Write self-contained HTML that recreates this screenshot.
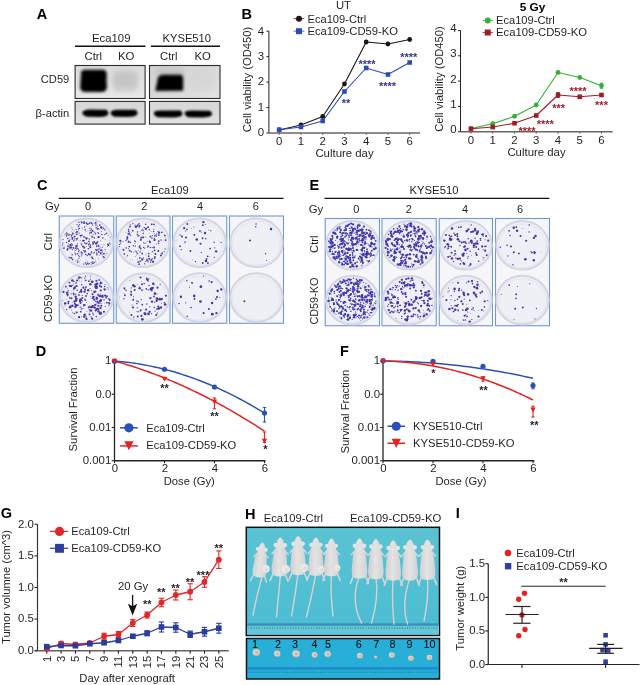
<!DOCTYPE html>
<html><head><meta charset="utf-8"><style>
html,body{margin:0;padding:0;background:#fff;}
svg{display:block;}
</style></head><body>
<svg width="641" height="685" viewBox="0 0 641 685" font-family="'Liberation Sans', Arial, sans-serif" fill="#231f20">
<rect width="641" height="685" fill="#fff"/>
<defs>
<linearGradient id="bg1" x1="0" y1="0" x2="0" y2="1"><stop offset="0" stop-color="#dcdcdc"/><stop offset="1" stop-color="#e8e8e8"/></linearGradient>
<linearGradient id="bg2" x1="0" y1="0" x2="1" y2="1"><stop offset="0" stop-color="#d0d0d0"/><stop offset="1" stop-color="#e2e2e2"/></linearGradient>
<linearGradient id="bg3" x1="0" y1="0" x2="0" y2="1"><stop offset="0" stop-color="#d6d6d6"/><stop offset="1" stop-color="#e2e2e2"/></linearGradient>
<linearGradient id="ph1" x1="0" y1="0" x2="0" y2="1"><stop offset="0" stop-color="#5ac3d3"/><stop offset="1" stop-color="#4bbcd3"/></linearGradient>
<filter id="msoft" x="-5%" y="-5%" width="110%" height="110%"><feGaussianBlur stdDeviation="0.35"/></filter>
<filter id="blur3" x="-30%" y="-30%" width="160%" height="160%"><feGaussianBlur stdDeviation="2.5"/></filter>
<linearGradient id="mbody" x1="0" y1="0" x2="1" y2="0"><stop offset="0" stop-color="#cdcfd2"/><stop offset="0.45" stop-color="#e3e3e3"/><stop offset="1" stop-color="#d2d3d5"/></linearGradient>
<filter id="blur2" x="-30%" y="-30%" width="160%" height="160%"><feGaussianBlur stdDeviation="1.5"/></filter>
<filter id="soft"><feGaussianBlur stdDeviation="0.25"/></filter>
<filter id="blur1" x="-30%" y="-50%" width="160%" height="200%"><feGaussianBlur stdDeviation="0.8"/></filter>
</defs>
<text x="36.8" y="18.6" font-size="14.5" font-weight="bold" fill="#000">A</text>
<text x="92" y="42" font-size="11" textLength="38.5" lengthAdjust="spacingAndGlyphs">Eca109</text>
<text x="162.5" y="42" font-size="11" textLength="48.5" lengthAdjust="spacingAndGlyphs">KYSE510</text>
<line x1="75" y1="46.2" x2="145.5" y2="46.2" stroke="#111" stroke-width="1.4"/>
<line x1="151" y1="46.2" x2="220" y2="46.2" stroke="#111" stroke-width="1.4"/>
<text x="84.5" y="60" font-size="11" textLength="17.5" lengthAdjust="spacingAndGlyphs">Ctrl</text>
<text x="118" y="60" font-size="11" textLength="16.5" lengthAdjust="spacingAndGlyphs">KO</text>
<text x="160" y="60" font-size="11" textLength="17.5" lengthAdjust="spacingAndGlyphs">Ctrl</text>
<text x="194.5" y="60" font-size="11" textLength="16.5" lengthAdjust="spacingAndGlyphs">KO</text>
<text x="40.8" y="83" font-size="11.5" textLength="28.5" lengthAdjust="spacingAndGlyphs">CD59</text>
<text x="35.5" y="116.8" font-size="11.5" textLength="33.8" lengthAdjust="spacingAndGlyphs">β-actin</text>
<rect x="75.1" y="65.5" width="70" height="33" fill="url(#bg1)" stroke="#2a2a2a" stroke-width="1.1"/>
<rect x="149.5" y="65.5" width="70.5" height="33" fill="url(#bg2)" stroke="#2a2a2a" stroke-width="1.1"/>
<rect x="75.1" y="101.4" width="70" height="22.7" fill="url(#bg3)" stroke="#2a2a2a" stroke-width="1.1"/>
<rect x="149.5" y="101.4" width="70.5" height="22.7" fill="url(#bg3)" stroke="#2a2a2a" stroke-width="1.1"/>
<g filter="url(#blur3)">
<rect x="112" y="71" width="26" height="20" rx="6" fill="#b8b8b8" opacity="0.6"/>
<rect x="114" y="72.5" width="22" height="2.5" fill="#b8b8b8" opacity="0.5"/>
<rect x="114" y="80" width="22" height="3" fill="#b8b8b8" opacity="0.5"/>
<rect x="157" y="68.5" width="27" height="8" fill="#b0b0b0" opacity="0.5"/>
<rect x="188" y="72" width="26" height="19" rx="6" fill="#d0d0d0" opacity="0.4"/>
</g>
<g filter="url(#blur2)">
<path d="M81,75 Q80,69.8 85.5,69.8 L102.5,69.8 Q107,69.8 106.8,75 L106.5,80 L107,86 Q107,92 101.5,92 L85.5,92 Q79.8,92 80.2,86 L80.6,80 Z" fill="#000"/>
<path d="M157.5,80 Q157.5,75 163,74.8 L180.5,74.8 Q183.2,75 183.2,79 L183.2,90.8 L156,91 Q154.5,90.5 155.8,88.5 Z" fill="#000"/>
</g>
<g filter="url(#blur1)">
<path d="M82.3,112.5 Q83.5,109.6 90,109.6 L106.5,109.8 Q108.7,111.5 108.4,114 Q107,117 99,116.9 L87,116.7 Q82.3,115.5 82.3,112.5 Z" fill="#050505"/>
<path d="M110.6,112.5 Q111.5,109.6 118,109.7 L135.5,109.8 Q138,111.5 137.6,114 Q136,117 127,116.9 L114.5,116.7 Q110.6,115.5 110.6,112.5 Z" fill="#050505"/>
<path d="M153.8,112.8 Q154.5,110.5 161,110.5 L180.5,110.6 Q182.8,112 182.4,114.8 Q181,117.5 172,117.4 L158,117.2 Q153.8,116 153.8,112.8 Z" fill="#050505"/>
<path d="M184.6,112.8 Q185.2,110.5 192,110.6 L210,110.7 Q212.4,112 212,114.8 Q210.5,117.5 201,117.4 L188.5,117.2 Q184.6,116 184.6,112.8 Z" fill="#050505"/>
</g>
<text x="241.6" y="18.8" font-size="14.5" font-weight="bold" fill="#000">B</text>
<text x="343.5" y="8.7" font-size="10.5" text-anchor="middle" textLength="15" lengthAdjust="spacingAndGlyphs">UT</text>
<line x1="293.6" y1="18.7" x2="304.2" y2="18.7" stroke="#1e1414" stroke-width="0.8"/>
<circle cx="299" cy="18.7" r="3" fill="#1e1414"/>
<text x="307.5" y="22.5" font-size="11" textLength="58.75" lengthAdjust="spacingAndGlyphs">Eca109-Ctrl</text>
<line x1="293.6" y1="31.2" x2="304.2" y2="31.2" stroke="#2c4db3" stroke-width="0.8"/>
<rect x="296" y="28.2" width="6" height="6" fill="#2c4db3"/>
<text x="307.5" y="35" font-size="11" textLength="90.5" lengthAdjust="spacingAndGlyphs">Eca109-CD59-KO</text>
<line x1="268.9" y1="31.2" x2="268.9" y2="133" stroke="#2a2222" stroke-width="1"/>
<line x1="268.9" y1="133" x2="420" y2="133" stroke="#6e6464" stroke-width="1.4"/>
<line x1="266.4" y1="133" x2="268.9" y2="133" stroke="#2a2222" stroke-width="1"/>
<text x="264.2" y="136.3" font-size="11.4" text-anchor="end">0</text>
<line x1="266.4" y1="107.55" x2="268.9" y2="107.55" stroke="#2a2222" stroke-width="1"/>
<text x="264.2" y="110.85" font-size="11.4" text-anchor="end">1</text>
<line x1="266.4" y1="82.1" x2="268.9" y2="82.1" stroke="#2a2222" stroke-width="1"/>
<text x="264.2" y="85.4" font-size="11.4" text-anchor="end">2</text>
<line x1="266.4" y1="56.65" x2="268.9" y2="56.65" stroke="#2a2222" stroke-width="1"/>
<text x="264.2" y="59.95" font-size="11.4" text-anchor="end">3</text>
<line x1="266.4" y1="31.2" x2="268.9" y2="31.2" stroke="#2a2222" stroke-width="1"/>
<text x="264.2" y="34.5" font-size="11.4" text-anchor="end">4</text>
<line x1="279.2" y1="133" x2="279.2" y2="135" stroke="#6e6464" stroke-width="1"/>
<text x="279.2" y="145.1" font-size="11.4" text-anchor="middle">0</text>
<line x1="300.95" y1="133" x2="300.95" y2="135" stroke="#6e6464" stroke-width="1"/>
<text x="300.95" y="145.1" font-size="11.4" text-anchor="middle">1</text>
<line x1="322.7" y1="133" x2="322.7" y2="135" stroke="#6e6464" stroke-width="1"/>
<text x="322.7" y="145.1" font-size="11.4" text-anchor="middle">2</text>
<line x1="344.45" y1="133" x2="344.45" y2="135" stroke="#6e6464" stroke-width="1"/>
<text x="344.45" y="145.1" font-size="11.4" text-anchor="middle">3</text>
<line x1="366.2" y1="133" x2="366.2" y2="135" stroke="#6e6464" stroke-width="1"/>
<text x="366.2" y="145.1" font-size="11.4" text-anchor="middle">4</text>
<line x1="387.95" y1="133" x2="387.95" y2="135" stroke="#6e6464" stroke-width="1"/>
<text x="387.95" y="145.1" font-size="11.4" text-anchor="middle">5</text>
<line x1="409.7" y1="133" x2="409.7" y2="135" stroke="#6e6464" stroke-width="1"/>
<text x="409.7" y="145.1" font-size="11.4" text-anchor="middle">6</text>
<text x="344.5" y="157" font-size="11" text-anchor="middle" textLength="58.25" lengthAdjust="spacingAndGlyphs">Culture day</text>
<text x="250.7" y="79.5" font-size="11" text-anchor="middle" textLength="105.5" lengthAdjust="spacingAndGlyphs" transform="rotate(-90 250.7 79.5)">Cell viability (OD450)</text>
<polyline points="279.2,130 300.95,125 322.7,116.5 344.45,84 366.2,42 387.95,44 409.7,39.5" fill="none" stroke="#1e1414" stroke-width="1.1" stroke-linejoin="round"/>
<polyline points="279.2,129.7 300.95,127 322.7,121 344.45,91.5 366.2,68 387.95,74.5 409.7,62.5" fill="none" stroke="#2c4db3" stroke-width="1.1" stroke-linejoin="round"/>
<circle cx="279.2" cy="130" r="2.4" fill="#1e1414"/>
<circle cx="300.95" cy="125" r="2.4" fill="#1e1414"/>
<circle cx="322.7" cy="116.5" r="2.4" fill="#1e1414"/>
<circle cx="344.45" cy="84" r="2.4" fill="#1e1414"/>
<circle cx="366.2" cy="42" r="2.4" fill="#1e1414"/>
<circle cx="387.95" cy="44" r="2.4" fill="#1e1414"/>
<circle cx="409.7" cy="39.5" r="2.4" fill="#1e1414"/>
<rect x="276.9" y="127.4" width="4.6" height="4.6" fill="#2c4db3"/>
<rect x="298.65" y="124.7" width="4.6" height="4.6" fill="#2c4db3"/>
<rect x="320.4" y="118.7" width="4.6" height="4.6" fill="#2c4db3"/>
<rect x="342.15" y="89.2" width="4.6" height="4.6" fill="#2c4db3"/>
<rect x="363.9" y="65.7" width="4.6" height="4.6" fill="#2c4db3"/>
<rect x="385.65" y="72.2" width="4.6" height="4.6" fill="#2c4db3"/>
<rect x="407.4" y="60.2" width="4.6" height="4.6" fill="#2c4db3"/>
<text x="346" y="107.16" font-size="11" text-anchor="middle" font-weight="bold" fill="#34358a">**</text>
<text x="367" y="68.06" font-size="11" text-anchor="middle" font-weight="bold" fill="#34358a">****</text>
<text x="387.5" y="90.16" font-size="11" text-anchor="middle" font-weight="bold" fill="#34358a">****</text>
<text x="408.7" y="60.66" font-size="11" text-anchor="middle" font-weight="bold" fill="#34358a">****</text>
<text x="532.6" y="10.5" font-size="11" text-anchor="middle" font-weight="bold" fill="#000" textLength="25.75" lengthAdjust="spacingAndGlyphs">5 Gy</text>
<line x1="482.5" y1="20.5" x2="493" y2="20.5" stroke="#33b233" stroke-width="0.8"/>
<circle cx="487.75" cy="20.5" r="3" fill="#33b233"/>
<text x="496" y="23.9" font-size="11" textLength="58.75" lengthAdjust="spacingAndGlyphs">Eca109-Ctrl</text>
<line x1="482.5" y1="32.5" x2="493" y2="32.5" stroke="#a11c2a" stroke-width="0.8"/>
<rect x="484.75" y="29.5" width="6" height="6" fill="#a11c2a"/>
<text x="496" y="36" font-size="11" textLength="91" lengthAdjust="spacingAndGlyphs">Eca109-CD59-KO</text>
<line x1="460.5" y1="30.5" x2="460.5" y2="131.75" stroke="#2a2222" stroke-width="1"/>
<line x1="460.5" y1="131.75" x2="612.75" y2="131.75" stroke="#6e6464" stroke-width="1.4"/>
<line x1="458" y1="131.75" x2="460.5" y2="131.75" stroke="#2a2222" stroke-width="1"/>
<text x="456.5" y="133.25" font-size="11.4" text-anchor="end">0</text>
<line x1="458" y1="106.44" x2="460.5" y2="106.44" stroke="#2a2222" stroke-width="1"/>
<text x="456.5" y="107.94" font-size="11.4" text-anchor="end">1</text>
<line x1="458" y1="81.12" x2="460.5" y2="81.12" stroke="#2a2222" stroke-width="1"/>
<text x="456.5" y="82.62" font-size="11.4" text-anchor="end">2</text>
<line x1="458" y1="55.81" x2="460.5" y2="55.81" stroke="#2a2222" stroke-width="1"/>
<text x="456.5" y="57.31" font-size="11.4" text-anchor="end">3</text>
<line x1="458" y1="30.5" x2="460.5" y2="30.5" stroke="#2a2222" stroke-width="1"/>
<text x="456.5" y="32" font-size="11.4" text-anchor="end">4</text>
<line x1="471" y1="131.75" x2="471" y2="133.75" stroke="#6e6464" stroke-width="1"/>
<text x="471" y="144" font-size="11.4" text-anchor="middle">0</text>
<line x1="492.75" y1="131.75" x2="492.75" y2="133.75" stroke="#6e6464" stroke-width="1"/>
<text x="492.75" y="144" font-size="11.4" text-anchor="middle">1</text>
<line x1="514.5" y1="131.75" x2="514.5" y2="133.75" stroke="#6e6464" stroke-width="1"/>
<text x="514.5" y="144" font-size="11.4" text-anchor="middle">2</text>
<line x1="536.25" y1="131.75" x2="536.25" y2="133.75" stroke="#6e6464" stroke-width="1"/>
<text x="536.25" y="144" font-size="11.4" text-anchor="middle">3</text>
<line x1="558" y1="131.75" x2="558" y2="133.75" stroke="#6e6464" stroke-width="1"/>
<text x="558" y="144" font-size="11.4" text-anchor="middle">4</text>
<line x1="579.75" y1="131.75" x2="579.75" y2="133.75" stroke="#6e6464" stroke-width="1"/>
<text x="579.75" y="144" font-size="11.4" text-anchor="middle">5</text>
<line x1="601.5" y1="131.75" x2="601.5" y2="133.75" stroke="#6e6464" stroke-width="1"/>
<text x="601.5" y="144" font-size="11.4" text-anchor="middle">6</text>
<text x="536.5" y="156" font-size="11" text-anchor="middle" textLength="58.25" lengthAdjust="spacingAndGlyphs">Culture day</text>
<text x="443.3" y="79" font-size="11" text-anchor="middle" textLength="105.5" lengthAdjust="spacingAndGlyphs" transform="rotate(-90 443.3 79)">Cell viability (OD450)</text>
<polyline points="471,128.5 492.75,123.75 514.5,116.25 536.25,105 558,72.5 579.75,77.5 601.5,85.75" fill="none" stroke="#33b233" stroke-width="1.1" stroke-linejoin="round"/>
<polyline points="471,128.8 492.75,127 514.5,123.25 536.25,115.5 558,95 579.75,96.75 601.5,95" fill="none" stroke="#a11c2a" stroke-width="1.1" stroke-linejoin="round"/>
<line x1="601.5" y1="83.2" x2="601.5" y2="88.3" stroke="#33b233" stroke-width="1"/>
<line x1="600" y1="83.2" x2="603" y2="83.2" stroke="#33b233" stroke-width="1"/>
<line x1="600" y1="88.3" x2="603" y2="88.3" stroke="#33b233" stroke-width="1"/>
<line x1="558" y1="92.5" x2="558" y2="97.5" stroke="#a11c2a" stroke-width="1"/>
<line x1="556.5" y1="92.5" x2="559.5" y2="92.5" stroke="#a11c2a" stroke-width="1"/>
<line x1="556.5" y1="97.5" x2="559.5" y2="97.5" stroke="#a11c2a" stroke-width="1"/>
<circle cx="471" cy="128.5" r="2.4" fill="#33b233"/>
<circle cx="492.75" cy="123.75" r="2.4" fill="#33b233"/>
<circle cx="514.5" cy="116.25" r="2.4" fill="#33b233"/>
<circle cx="536.25" cy="105" r="2.4" fill="#33b233"/>
<circle cx="558" cy="72.5" r="2.4" fill="#33b233"/>
<circle cx="579.75" cy="77.5" r="2.4" fill="#33b233"/>
<circle cx="601.5" cy="85.75" r="2.4" fill="#33b233"/>
<rect x="468.7" y="126.5" width="4.6" height="4.6" fill="#a11c2a"/>
<rect x="490.45" y="124.7" width="4.6" height="4.6" fill="#a11c2a"/>
<rect x="512.2" y="120.95" width="4.6" height="4.6" fill="#a11c2a"/>
<rect x="533.95" y="113.2" width="4.6" height="4.6" fill="#a11c2a"/>
<rect x="555.7" y="92.7" width="4.6" height="4.6" fill="#a11c2a"/>
<rect x="577.45" y="94.45" width="4.6" height="4.6" fill="#a11c2a"/>
<rect x="599.2" y="92.7" width="4.6" height="4.6" fill="#a11c2a"/>
<text x="527" y="134.91" font-size="11" text-anchor="middle" font-weight="bold" fill="#a11c2a">****</text>
<text x="545.2" y="128.16" font-size="11" text-anchor="middle" font-weight="bold" fill="#a11c2a">****</text>
<text x="558.7" y="111.91" font-size="11" text-anchor="middle" font-weight="bold" fill="#a11c2a">***</text>
<text x="578.1" y="94.91" font-size="11" text-anchor="middle" font-weight="bold" fill="#a11c2a">****</text>
<text x="601.5" y="109.16" font-size="11" text-anchor="middle" font-weight="bold" fill="#a11c2a">***</text>
<text x="37" y="189.5" font-size="14.5" font-weight="bold" fill="#000">C</text>
<text x="151" y="193.75" font-size="11" textLength="37.75" lengthAdjust="spacingAndGlyphs">Eca109</text>
<line x1="58.75" y1="198.4" x2="283.5" y2="198.4" stroke="#111" stroke-width="1.3"/>
<text x="45" y="210" font-size="11" textLength="14.5" lengthAdjust="spacingAndGlyphs">Gy</text>
<text x="88" y="210" font-size="11" text-anchor="middle">0</text>
<rect x="59.25" y="216" width="54.5" height="107.25" fill="#f6f6f9" stroke="#6f98d2" stroke-width="1.1"/>
<ellipse cx="86.5" cy="242.8" rx="26.45" ry="24.3" fill="#eff0f5" stroke="#d3d5e2" stroke-width="2"/>
<ellipse cx="86.5" cy="243.4" rx="24.05" ry="21.9" fill="none" stroke="#e4e5ee" stroke-width="1"/>
<g fill="#4039a8" filter="url(#soft)"><circle cx="69.3" cy="240.8" r="0.76"/><circle cx="96.5" cy="253.1" r="0.56"/><circle cx="101.1" cy="244.3" r="0.35"/><circle cx="84.4" cy="222.9" r="0.86"/><circle cx="108.2" cy="235.5" r="0.49"/><circle cx="99.5" cy="229.7" r="0.41"/><circle cx="71.4" cy="236.0" r="0.68"/><circle cx="108.6" cy="245.2" r="0.84"/><circle cx="101.9" cy="227.8" r="0.69"/><circle cx="81.4" cy="254.9" r="0.64"/><circle cx="71.6" cy="257.8" r="0.85"/><circle cx="73.8" cy="240.5" r="0.68"/><circle cx="89.1" cy="263.5" r="0.67"/><circle cx="97.0" cy="255.0" r="0.60"/><circle cx="76.3" cy="246.8" r="0.62"/><circle cx="78.9" cy="258.5" r="0.52"/><circle cx="85.7" cy="254.3" r="0.79"/><circle cx="105.5" cy="249.5" r="0.45"/><circle cx="96.9" cy="254.6" r="0.61"/><circle cx="86.2" cy="246.5" r="0.39"/><circle cx="95.1" cy="258.8" r="0.40"/><circle cx="98.9" cy="251.9" r="0.37"/><circle cx="64.6" cy="247.0" r="0.43"/><circle cx="77.3" cy="248.2" r="0.69"/><circle cx="98.6" cy="245.8" r="0.50"/><circle cx="71.6" cy="243.9" r="0.73"/><circle cx="72.4" cy="237.9" r="0.86"/><circle cx="81.7" cy="252.2" r="0.67"/><circle cx="94.3" cy="241.8" r="0.63"/><circle cx="96.2" cy="227.8" r="0.78"/><circle cx="71.8" cy="231.6" r="0.36"/><circle cx="69.0" cy="249.1" r="0.37"/><circle cx="81.7" cy="244.6" r="0.58"/><circle cx="78.9" cy="240.8" r="0.42"/><circle cx="90.4" cy="231.8" r="0.39"/><circle cx="72.4" cy="239.0" r="0.86"/><circle cx="91.3" cy="264.1" r="0.54"/><circle cx="74.8" cy="252.1" r="0.41"/><circle cx="75.4" cy="232.7" r="0.48"/><circle cx="89.3" cy="230.9" r="0.31"/><circle cx="66.1" cy="233.9" r="0.69"/><circle cx="92.6" cy="258.4" r="0.79"/><circle cx="79.3" cy="250.5" r="0.57"/><circle cx="97.5" cy="228.9" r="0.89"/><circle cx="63.3" cy="248.0" r="0.51"/><circle cx="101.1" cy="227.1" r="0.83"/><circle cx="96.4" cy="243.1" r="0.40"/><circle cx="80.8" cy="240.4" r="0.43"/><circle cx="70.1" cy="257.9" r="0.63"/><circle cx="75.4" cy="248.3" r="0.68"/><circle cx="68.8" cy="246.5" r="0.65"/><circle cx="67.7" cy="234.0" r="0.82"/><circle cx="90.3" cy="230.5" r="0.54"/><circle cx="84.5" cy="252.0" r="0.82"/><circle cx="83.7" cy="221.5" r="0.39"/><circle cx="92.6" cy="224.9" r="0.64"/><circle cx="99.1" cy="246.5" r="0.40"/><circle cx="80.6" cy="260.0" r="0.36"/><circle cx="102.7" cy="258.0" r="0.37"/><circle cx="106.6" cy="233.2" r="0.74"/><circle cx="100.1" cy="236.1" r="0.32"/><circle cx="62.9" cy="243.1" r="0.63"/><circle cx="68.2" cy="248.6" r="0.33"/><circle cx="85.4" cy="243.3" r="0.42"/><circle cx="103.7" cy="246.7" r="0.32"/><circle cx="87.7" cy="263.2" r="0.76"/><circle cx="95.6" cy="222.4" r="0.65"/><circle cx="76.8" cy="234.3" r="0.83"/><circle cx="96.0" cy="262.0" r="0.42"/><circle cx="66.6" cy="235.9" r="0.76"/><circle cx="92.3" cy="262.0" r="0.73"/><circle cx="66.2" cy="234.6" r="0.42"/><circle cx="75.2" cy="250.2" r="0.57"/><circle cx="98.3" cy="258.1" r="0.33"/><circle cx="88.6" cy="263.9" r="0.30"/><circle cx="86.4" cy="239.5" r="0.53"/><circle cx="71.6" cy="228.6" r="0.46"/><circle cx="72.8" cy="233.7" r="0.84"/><circle cx="103.8" cy="228.5" r="0.70"/><circle cx="66.7" cy="236.3" r="0.40"/><circle cx="92.1" cy="237.1" r="0.76"/><circle cx="87.4" cy="238.5" r="0.31"/><circle cx="86.4" cy="264.3" r="0.77"/><circle cx="79.5" cy="261.9" r="0.45"/><circle cx="90.5" cy="246.1" r="0.73"/><circle cx="76.2" cy="238.3" r="0.49"/><circle cx="106.8" cy="253.3" r="0.50"/><circle cx="99.8" cy="248.0" r="0.45"/><circle cx="86.5" cy="225.0" r="0.43"/><circle cx="92.1" cy="257.4" r="0.80"/><circle cx="78.5" cy="251.3" r="0.66"/><circle cx="85.3" cy="251.2" r="0.83"/><circle cx="96.0" cy="243.2" r="0.82"/><circle cx="98.4" cy="237.3" r="0.89"/><circle cx="81.8" cy="222.5" r="0.88"/><circle cx="107.9" cy="244.4" r="0.75"/><circle cx="96.0" cy="225.1" r="0.78"/><circle cx="92.7" cy="263.4" r="0.59"/><circle cx="75.7" cy="254.7" r="0.63"/><circle cx="95.5" cy="261.0" r="0.41"/><circle cx="66.7" cy="242.4" r="0.69"/><circle cx="92.9" cy="244.1" r="0.50"/><circle cx="86.8" cy="238.2" r="0.88"/><circle cx="70.9" cy="245.6" r="0.80"/><circle cx="100.6" cy="253.7" r="0.71"/><circle cx="84.1" cy="263.5" r="0.30"/><circle cx="82.8" cy="240.6" r="0.73"/><circle cx="76.2" cy="229.4" r="0.57"/><circle cx="93.1" cy="244.1" r="0.82"/><circle cx="85.2" cy="229.8" r="0.69"/><circle cx="81.1" cy="221.8" r="0.54"/><circle cx="67.7" cy="248.9" r="0.84"/><circle cx="69.2" cy="257.6" r="0.76"/><circle cx="73.9" cy="241.6" r="0.40"/><circle cx="77.2" cy="243.9" r="0.53"/><circle cx="81.1" cy="252.1" r="0.71"/><circle cx="67.9" cy="245.9" r="0.77"/><circle cx="63.2" cy="239.6" r="0.53"/><circle cx="94.8" cy="232.5" r="0.61"/><circle cx="70.2" cy="247.9" r="0.86"/><circle cx="98.7" cy="236.9" r="0.87"/><circle cx="79.2" cy="233.0" r="0.55"/><circle cx="110.1" cy="237.8" r="0.47"/><circle cx="88.6" cy="248.8" r="0.76"/><circle cx="96.7" cy="250.4" r="0.55"/><circle cx="83.5" cy="264.1" r="0.60"/><circle cx="99.2" cy="236.5" r="0.31"/><circle cx="81.2" cy="243.8" r="0.54"/><circle cx="72.4" cy="227.8" r="0.33"/><circle cx="96.5" cy="244.0" r="0.79"/><circle cx="104.1" cy="253.9" r="0.78"/><circle cx="103.4" cy="253.7" r="0.64"/><circle cx="87.4" cy="261.9" r="0.47"/><circle cx="93.5" cy="262.0" r="0.46"/><circle cx="69.8" cy="234.4" r="0.57"/><circle cx="86.9" cy="231.0" r="0.45"/><circle cx="69.3" cy="241.5" r="0.38"/><circle cx="79.4" cy="228.3" r="0.68"/><circle cx="92.3" cy="230.9" r="0.90"/><circle cx="76.0" cy="260.8" r="0.48"/><circle cx="89.5" cy="246.8" r="0.65"/><circle cx="78.7" cy="255.7" r="0.67"/><circle cx="89.4" cy="242.0" r="0.47"/><circle cx="82.0" cy="253.2" r="0.73"/><circle cx="82.9" cy="246.3" r="0.82"/><circle cx="84.9" cy="229.5" r="0.34"/><circle cx="96.8" cy="245.0" r="0.57"/><circle cx="93.2" cy="234.2" r="0.54"/><circle cx="78.5" cy="249.2" r="0.58"/><circle cx="90.3" cy="245.0" r="0.64"/><circle cx="98.3" cy="245.9" r="0.74"/><circle cx="88.7" cy="245.2" r="0.36"/><circle cx="99.9" cy="225.1" r="0.84"/><circle cx="100.9" cy="252.7" r="0.81"/><circle cx="76.4" cy="247.8" r="0.31"/><circle cx="98.7" cy="228.7" r="0.33"/><circle cx="93.5" cy="263.1" r="0.62"/><circle cx="88.8" cy="254.3" r="0.75"/><circle cx="86.5" cy="223.1" r="0.89"/><circle cx="97.6" cy="241.8" r="0.70"/><circle cx="74.4" cy="230.9" r="0.32"/><circle cx="81.5" cy="245.7" r="0.36"/><circle cx="71.2" cy="237.9" r="0.30"/><circle cx="101.5" cy="227.9" r="0.84"/><circle cx="89.9" cy="234.4" r="0.34"/><circle cx="92.8" cy="223.3" r="0.50"/><circle cx="96.7" cy="246.5" r="0.67"/><circle cx="98.4" cy="259.5" r="0.36"/><circle cx="90.5" cy="235.3" r="0.33"/><circle cx="78.9" cy="222.3" r="0.71"/><circle cx="91.1" cy="253.0" r="0.82"/><circle cx="77.5" cy="253.8" r="0.74"/><circle cx="89.3" cy="223.5" r="0.82"/><circle cx="88.9" cy="241.3" r="0.81"/><circle cx="94.5" cy="252.3" r="0.62"/><circle cx="89.3" cy="254.8" r="0.80"/><circle cx="93.7" cy="253.1" r="0.61"/><circle cx="70.2" cy="256.1" r="0.33"/><circle cx="70.4" cy="245.9" r="0.52"/><circle cx="105.4" cy="234.0" r="0.59"/><circle cx="71.4" cy="258.0" r="0.52"/><circle cx="97.0" cy="253.2" r="0.57"/><circle cx="69.9" cy="239.7" r="0.57"/><circle cx="82.9" cy="246.7" r="0.71"/><circle cx="95.1" cy="223.6" r="0.52"/><circle cx="88.5" cy="264.5" r="0.43"/><circle cx="95.5" cy="243.7" r="0.50"/><circle cx="71.5" cy="247.4" r="0.83"/><circle cx="86.2" cy="243.6" r="0.87"/><circle cx="74.8" cy="236.3" r="0.83"/><circle cx="94.4" cy="242.0" r="0.84"/><circle cx="89.9" cy="233.0" r="0.70"/><circle cx="83.8" cy="248.5" r="0.42"/><circle cx="103.2" cy="227.3" r="0.36"/><circle cx="102.4" cy="252.0" r="0.57"/><circle cx="103.4" cy="256.8" r="0.79"/><circle cx="102.2" cy="247.5" r="0.56"/><circle cx="95.6" cy="233.8" r="0.71"/><circle cx="81.2" cy="256.4" r="0.41"/><circle cx="79.3" cy="256.8" r="0.64"/><circle cx="75.0" cy="238.4" r="0.52"/><circle cx="87.0" cy="264.7" r="0.45"/><circle cx="77.9" cy="260.1" r="0.59"/><circle cx="93.6" cy="259.1" r="0.36"/><circle cx="70.8" cy="226.9" r="0.41"/><circle cx="95.5" cy="243.5" r="0.75"/><circle cx="97.7" cy="226.3" r="0.53"/><circle cx="87.8" cy="248.4" r="0.42"/><circle cx="82.2" cy="228.1" r="0.52"/><circle cx="101.3" cy="231.3" r="0.50"/><circle cx="91.4" cy="229.1" r="0.83"/><circle cx="78.0" cy="234.0" r="0.49"/><circle cx="84.3" cy="240.6" r="0.54"/><circle cx="82.4" cy="229.2" r="0.34"/><circle cx="104.2" cy="257.6" r="0.75"/><circle cx="85.8" cy="263.4" r="0.38"/><circle cx="88.6" cy="244.6" r="0.61"/><circle cx="97.0" cy="250.0" r="0.74"/><circle cx="87.2" cy="255.5" r="0.70"/><circle cx="102.7" cy="255.0" r="0.38"/><circle cx="83.8" cy="250.4" r="0.73"/><circle cx="83.8" cy="246.9" r="0.83"/><circle cx="72.9" cy="232.5" r="0.48"/><circle cx="69.4" cy="247.2" r="0.65"/><circle cx="110.2" cy="244.1" r="0.44"/><circle cx="67.2" cy="247.1" r="0.39"/><circle cx="68.7" cy="241.2" r="0.79"/><circle cx="76.4" cy="232.6" r="0.33"/><circle cx="87.8" cy="224.1" r="0.87"/><circle cx="91.6" cy="252.0" r="0.70"/><circle cx="89.2" cy="238.9" r="0.76"/><circle cx="66.6" cy="232.8" r="0.64"/><circle cx="84.5" cy="242.9" r="0.64"/><circle cx="71.6" cy="235.2" r="0.78"/><circle cx="98.4" cy="228.8" r="0.57"/><circle cx="90.4" cy="255.8" r="0.41"/><circle cx="72.2" cy="254.7" r="0.72"/><circle cx="77.0" cy="231.6" r="0.57"/><circle cx="64.0" cy="248.3" r="0.77"/><circle cx="72.6" cy="259.6" r="0.81"/><circle cx="100.1" cy="247.0" r="0.44"/><circle cx="85.5" cy="262.7" r="0.66"/><circle cx="91.3" cy="257.0" r="0.58"/><circle cx="69.0" cy="245.0" r="0.42"/><circle cx="77.1" cy="224.5" r="0.61"/><circle cx="99.0" cy="252.3" r="0.76"/><circle cx="73.5" cy="247.8" r="0.85"/><circle cx="94.2" cy="237.8" r="0.74"/><circle cx="105.1" cy="239.4" r="0.44"/><circle cx="79.1" cy="252.9" r="0.42"/><circle cx="101.3" cy="249.9" r="0.83"/><circle cx="97.9" cy="232.6" r="0.70"/><circle cx="72.3" cy="249.6" r="0.57"/><circle cx="94.3" cy="238.6" r="0.31"/><circle cx="77.0" cy="232.0" r="0.90"/><circle cx="68.8" cy="235.3" r="0.73"/><circle cx="89.4" cy="222.1" r="0.47"/><circle cx="76.7" cy="249.2" r="0.61"/><circle cx="84.4" cy="221.3" r="0.56"/><circle cx="84.6" cy="227.0" r="0.64"/><circle cx="69.2" cy="237.6" r="0.38"/><circle cx="79.6" cy="224.6" r="0.64"/><circle cx="91.3" cy="262.4" r="0.48"/><circle cx="67.8" cy="238.6" r="0.74"/><circle cx="74.7" cy="249.1" r="0.37"/><circle cx="90.3" cy="254.7" r="0.60"/><circle cx="76.0" cy="245.8" r="0.90"/><circle cx="75.1" cy="253.5" r="0.62"/><circle cx="78.2" cy="230.7" r="0.47"/><circle cx="105.0" cy="230.0" r="0.65"/><circle cx="91.4" cy="223.3" r="0.76"/><circle cx="109.2" cy="243.7" r="0.42"/><circle cx="76.9" cy="246.1" r="0.88"/><circle cx="98.6" cy="233.3" r="0.38"/><circle cx="97.8" cy="242.4" r="0.49"/><circle cx="101.8" cy="234.4" r="0.76"/><circle cx="99.5" cy="255.6" r="0.45"/><circle cx="86.1" cy="260.1" r="0.47"/><circle cx="92.9" cy="242.2" r="0.73"/><circle cx="107.4" cy="246.2" r="0.56"/><circle cx="105.1" cy="251.1" r="0.33"/><circle cx="75.3" cy="247.6" r="0.43"/><circle cx="80.9" cy="236.8" r="0.65"/><circle cx="93.6" cy="243.5" r="0.46"/><circle cx="90.5" cy="247.6" r="0.74"/><circle cx="97.6" cy="253.1" r="0.35"/><circle cx="85.5" cy="238.0" r="0.78"/><circle cx="73.1" cy="234.7" r="0.47"/><circle cx="77.6" cy="262.1" r="0.83"/><circle cx="83.7" cy="223.0" r="0.68"/><circle cx="84.0" cy="236.9" r="0.82"/><circle cx="98.5" cy="251.3" r="0.78"/><circle cx="90.0" cy="262.6" r="0.41"/><circle cx="93.7" cy="242.0" r="0.49"/><circle cx="95.8" cy="222.8" r="0.84"/><circle cx="100.8" cy="227.5" r="0.83"/><circle cx="79.0" cy="252.9" r="0.33"/><circle cx="101.6" cy="254.0" r="0.54"/><circle cx="80.6" cy="243.0" r="0.37"/><circle cx="109.8" cy="243.1" r="0.67"/><circle cx="89.8" cy="228.1" r="0.72"/><circle cx="83.6" cy="240.6" r="0.89"/><circle cx="100.6" cy="250.6" r="0.71"/><circle cx="104.5" cy="234.5" r="0.51"/><circle cx="78.6" cy="229.1" r="0.66"/><circle cx="76.3" cy="238.8" r="0.39"/><circle cx="102.6" cy="229.7" r="0.33"/><circle cx="70.3" cy="244.4" r="0.73"/><circle cx="89.3" cy="243.9" r="0.76"/><circle cx="64.6" cy="234.8" r="0.41"/><circle cx="72.3" cy="244.9" r="0.74"/><circle cx="88.5" cy="253.8" r="0.76"/><circle cx="73.0" cy="230.1" r="0.37"/><circle cx="76.4" cy="239.9" r="0.56"/><circle cx="70.2" cy="245.3" r="0.68"/><circle cx="94.6" cy="262.6" r="0.59"/><circle cx="99.0" cy="249.0" r="0.84"/><circle cx="77.3" cy="238.6" r="0.85"/><circle cx="74.4" cy="239.4" r="0.46"/><circle cx="62.6" cy="245.1" r="0.62"/><circle cx="97.0" cy="242.7" r="0.84"/><circle cx="71.9" cy="248.8" r="0.49"/><circle cx="91.2" cy="232.6" r="0.87"/><circle cx="70.8" cy="252.9" r="0.30"/><circle cx="74.0" cy="237.0" r="0.68"/><circle cx="100.5" cy="240.7" r="0.38"/><circle cx="78.4" cy="226.1" r="0.81"/><circle cx="83.1" cy="241.0" r="0.73"/><circle cx="93.1" cy="242.9" r="0.54"/><circle cx="91.0" cy="222.5" r="0.73"/><circle cx="75.7" cy="233.9" r="0.34"/><circle cx="109.1" cy="240.1" r="0.32"/><circle cx="101.9" cy="226.4" r="0.43"/><circle cx="98.6" cy="245.6" r="0.74"/><circle cx="96.3" cy="250.4" r="0.84"/><circle cx="104.5" cy="249.2" r="0.38"/><circle cx="87.8" cy="243.0" r="0.56"/><circle cx="107.9" cy="244.3" r="0.82"/><circle cx="105.5" cy="255.5" r="0.35"/><circle cx="92.1" cy="236.4" r="0.74"/><circle cx="95.9" cy="249.6" r="0.69"/><circle cx="67.3" cy="249.8" r="0.84"/><circle cx="104.0" cy="244.7" r="0.51"/><circle cx="100.6" cy="240.9" r="0.36"/><circle cx="82.4" cy="253.9" r="0.43"/><circle cx="80.3" cy="235.6" r="0.77"/><circle cx="77.5" cy="245.7" r="0.46"/><circle cx="102.9" cy="238.0" r="0.74"/><circle cx="72.4" cy="229.2" r="0.42"/><circle cx="98.6" cy="233.3" r="0.62"/><circle cx="68.4" cy="243.4" r="0.48"/><circle cx="97.4" cy="236.8" r="0.36"/><circle cx="85.6" cy="231.6" r="0.31"/><circle cx="84.7" cy="247.7" r="0.75"/><circle cx="81.8" cy="235.4" r="0.81"/><circle cx="93.8" cy="231.1" r="0.64"/><circle cx="101.9" cy="250.5" r="0.68"/></g>
<ellipse cx="86.5" cy="297.6" rx="26.45" ry="24.3" fill="#eff0f5" stroke="#d3d5e2" stroke-width="2"/>
<ellipse cx="86.5" cy="298.2" rx="24.05" ry="21.9" fill="none" stroke="#e4e5ee" stroke-width="1"/>
<g fill="#4039a8" filter="url(#soft)"><circle cx="90.4" cy="284.2" r="1.22"/><circle cx="107.0" cy="296.2" r="0.95"/><circle cx="72.6" cy="285.3" r="0.61"/><circle cx="95.8" cy="285.0" r="1.22"/><circle cx="66.6" cy="309.5" r="0.68"/><circle cx="85.1" cy="289.9" r="0.92"/><circle cx="81.8" cy="284.7" r="0.74"/><circle cx="77.1" cy="280.5" r="1.09"/><circle cx="95.2" cy="304.8" r="1.14"/><circle cx="81.4" cy="292.3" r="0.73"/><circle cx="81.9" cy="305.1" r="0.36"/><circle cx="84.8" cy="299.2" r="0.66"/><circle cx="62.7" cy="300.5" r="0.49"/><circle cx="95.5" cy="307.7" r="0.68"/><circle cx="93.9" cy="296.5" r="0.80"/><circle cx="104.6" cy="289.3" r="1.13"/><circle cx="95.8" cy="305.7" r="0.36"/><circle cx="79.1" cy="317.2" r="1.14"/><circle cx="96.4" cy="309.7" r="1.08"/><circle cx="100.7" cy="281.7" r="0.51"/><circle cx="100.6" cy="308.1" r="1.15"/><circle cx="83.9" cy="314.9" r="0.48"/><circle cx="78.6" cy="278.5" r="0.84"/><circle cx="95.7" cy="291.0" r="0.40"/><circle cx="75.7" cy="312.0" r="0.43"/><circle cx="72.3" cy="280.6" r="1.23"/><circle cx="106.0" cy="289.6" r="0.44"/><circle cx="94.0" cy="314.8" r="0.36"/><circle cx="92.9" cy="313.3" r="0.76"/><circle cx="89.9" cy="311.1" r="0.56"/><circle cx="75.5" cy="304.7" r="0.85"/><circle cx="88.2" cy="290.3" r="1.19"/><circle cx="76.3" cy="305.5" r="1.15"/><circle cx="81.7" cy="277.9" r="0.55"/><circle cx="68.1" cy="290.6" r="0.68"/><circle cx="84.0" cy="304.9" r="0.96"/><circle cx="95.5" cy="291.6" r="0.95"/><circle cx="88.9" cy="281.2" r="0.84"/><circle cx="77.7" cy="305.3" r="1.01"/><circle cx="73.9" cy="294.7" r="0.76"/><circle cx="98.1" cy="294.9" r="0.95"/><circle cx="75.4" cy="306.8" r="1.21"/><circle cx="99.7" cy="296.1" r="1.24"/><circle cx="82.2" cy="295.5" r="0.60"/><circle cx="92.1" cy="281.9" r="1.02"/><circle cx="95.8" cy="287.3" r="0.92"/><circle cx="100.9" cy="290.5" r="1.01"/><circle cx="69.4" cy="307.0" r="0.73"/><circle cx="75.1" cy="286.0" r="0.55"/><circle cx="73.5" cy="284.0" r="0.49"/><circle cx="97.6" cy="301.4" r="0.95"/><circle cx="106.0" cy="295.3" r="0.38"/><circle cx="71.5" cy="298.3" r="0.99"/><circle cx="106.8" cy="298.1" r="0.55"/><circle cx="91.0" cy="316.8" r="0.65"/><circle cx="90.2" cy="296.8" r="0.47"/><circle cx="91.9" cy="306.9" r="1.24"/><circle cx="81.8" cy="281.4" r="0.40"/><circle cx="76.3" cy="298.9" r="1.24"/><circle cx="76.7" cy="285.9" r="1.00"/><circle cx="81.1" cy="300.2" r="0.49"/><circle cx="78.4" cy="276.9" r="0.62"/><circle cx="105.8" cy="296.2" r="0.53"/><circle cx="69.6" cy="282.8" r="0.75"/><circle cx="99.0" cy="308.9" r="0.52"/><circle cx="99.9" cy="285.4" r="0.82"/><circle cx="68.5" cy="301.7" r="0.95"/><circle cx="93.5" cy="305.7" r="0.68"/><circle cx="92.1" cy="318.7" r="1.11"/><circle cx="64.9" cy="305.2" r="0.43"/><circle cx="94.3" cy="291.9" r="1.12"/><circle cx="95.6" cy="310.6" r="1.00"/><circle cx="97.6" cy="305.8" r="0.61"/><circle cx="81.5" cy="309.0" r="0.81"/><circle cx="85.9" cy="316.1" r="0.73"/><circle cx="88.0" cy="307.1" r="0.36"/><circle cx="96.0" cy="288.2" r="0.91"/><circle cx="92.4" cy="281.6" r="1.20"/><circle cx="74.0" cy="281.5" r="0.75"/><circle cx="99.2" cy="279.9" r="0.84"/><circle cx="105.1" cy="295.6" r="1.08"/><circle cx="102.6" cy="282.7" r="0.42"/><circle cx="100.2" cy="313.7" r="1.12"/><circle cx="96.8" cy="298.0" r="1.21"/><circle cx="98.1" cy="309.1" r="1.17"/><circle cx="90.6" cy="276.0" r="0.58"/><circle cx="97.0" cy="298.9" r="0.86"/><circle cx="76.2" cy="300.5" r="1.14"/><circle cx="109.7" cy="299.9" r="1.01"/><circle cx="89.4" cy="312.1" r="0.46"/><circle cx="69.4" cy="297.6" r="0.62"/><circle cx="69.1" cy="282.5" r="0.73"/><circle cx="100.6" cy="283.2" r="1.08"/><circle cx="65.9" cy="286.6" r="0.95"/><circle cx="69.8" cy="285.8" r="1.15"/><circle cx="70.1" cy="307.3" r="1.17"/><circle cx="74.2" cy="313.6" r="0.64"/><circle cx="99.7" cy="301.2" r="0.67"/><circle cx="105.2" cy="306.3" r="0.64"/><circle cx="90.1" cy="288.5" r="0.61"/><circle cx="67.6" cy="294.8" r="1.15"/><circle cx="104.6" cy="286.6" r="0.75"/><circle cx="67.4" cy="293.9" r="0.96"/><circle cx="68.5" cy="301.8" r="0.72"/><circle cx="106.9" cy="302.7" r="0.90"/><circle cx="95.5" cy="284.6" r="1.16"/><circle cx="103.9" cy="311.8" r="1.05"/><circle cx="79.9" cy="307.2" r="0.53"/><circle cx="96.1" cy="296.9" r="0.49"/><circle cx="101.5" cy="283.2" r="0.80"/><circle cx="99.0" cy="303.6" r="0.56"/><circle cx="104.9" cy="289.7" r="0.73"/><circle cx="83.5" cy="306.5" r="0.38"/><circle cx="93.2" cy="297.1" r="1.07"/><circle cx="80.0" cy="300.7" r="1.22"/><circle cx="85.0" cy="288.7" r="0.60"/><circle cx="72.8" cy="312.8" r="0.53"/><circle cx="108.9" cy="298.3" r="0.61"/><circle cx="100.2" cy="301.2" r="1.15"/><circle cx="69.2" cy="306.1" r="0.38"/><circle cx="71.1" cy="293.8" r="0.63"/><circle cx="76.0" cy="300.6" r="1.02"/><circle cx="82.4" cy="298.0" r="1.05"/><circle cx="63.5" cy="291.9" r="1.09"/><circle cx="73.6" cy="290.1" r="0.50"/><circle cx="66.1" cy="299.3" r="0.49"/><circle cx="96.3" cy="298.9" r="0.61"/><circle cx="90.4" cy="279.1" r="0.66"/><circle cx="80.8" cy="307.1" r="0.65"/><circle cx="82.4" cy="300.9" r="0.58"/><circle cx="88.8" cy="309.7" r="0.42"/><circle cx="85.9" cy="280.4" r="0.82"/><circle cx="70.0" cy="298.7" r="0.60"/><circle cx="98.5" cy="311.4" r="1.21"/><circle cx="84.7" cy="314.7" r="1.13"/><circle cx="98.7" cy="305.9" r="0.90"/><circle cx="96.7" cy="287.9" r="1.10"/><circle cx="97.2" cy="283.7" r="1.22"/><circle cx="94.3" cy="307.4" r="1.19"/><circle cx="105.1" cy="284.5" r="0.52"/><circle cx="66.4" cy="292.7" r="0.73"/><circle cx="80.7" cy="311.7" r="0.90"/><circle cx="101.2" cy="313.5" r="1.04"/><circle cx="87.2" cy="293.6" r="0.83"/><circle cx="84.6" cy="305.0" r="1.12"/><circle cx="95.0" cy="286.8" r="0.86"/><circle cx="84.3" cy="280.9" r="0.44"/><circle cx="84.1" cy="317.0" r="0.98"/><circle cx="97.4" cy="302.2" r="0.36"/><circle cx="77.3" cy="290.3" r="0.78"/><circle cx="68.3" cy="303.3" r="0.90"/><circle cx="93.3" cy="297.4" r="0.85"/><circle cx="99.5" cy="286.2" r="0.61"/><circle cx="91.3" cy="310.7" r="1.11"/><circle cx="97.0" cy="302.9" r="0.71"/><circle cx="103.9" cy="288.1" r="0.40"/><circle cx="97.0" cy="304.3" r="0.45"/><circle cx="83.4" cy="287.6" r="1.08"/><circle cx="100.0" cy="290.0" r="0.49"/><circle cx="78.9" cy="294.9" r="0.90"/><circle cx="108.3" cy="289.7" r="0.48"/><circle cx="92.6" cy="294.3" r="1.02"/><circle cx="94.3" cy="299.7" r="1.08"/><circle cx="71.7" cy="310.1" r="0.51"/><circle cx="85.5" cy="300.1" r="0.84"/><circle cx="67.7" cy="295.8" r="0.60"/><circle cx="75.7" cy="294.1" r="0.72"/><circle cx="72.4" cy="305.7" r="1.19"/><circle cx="73.5" cy="293.5" r="0.89"/><circle cx="95.8" cy="301.5" r="0.79"/><circle cx="101.2" cy="286.7" r="1.04"/><circle cx="96.3" cy="316.4" r="0.73"/><circle cx="96.7" cy="286.6" r="1.18"/><circle cx="75.9" cy="304.9" r="0.83"/><circle cx="101.3" cy="305.7" r="1.05"/><circle cx="67.3" cy="288.2" r="0.47"/><circle cx="89.0" cy="307.3" r="0.51"/><circle cx="86.3" cy="286.4" r="0.37"/><circle cx="75.1" cy="287.3" r="0.97"/><circle cx="86.0" cy="296.0" r="0.92"/><circle cx="75.6" cy="301.1" r="0.72"/><circle cx="89.5" cy="314.4" r="0.91"/><circle cx="78.8" cy="317.6" r="0.51"/><circle cx="108.8" cy="305.3" r="0.57"/><circle cx="86.9" cy="311.3" r="0.43"/><circle cx="75.7" cy="296.7" r="1.20"/><circle cx="90.4" cy="307.2" r="1.05"/><circle cx="91.0" cy="280.9" r="0.49"/><circle cx="100.9" cy="300.3" r="1.18"/><circle cx="104.0" cy="299.8" r="0.73"/><circle cx="77.1" cy="298.5" r="0.46"/><circle cx="80.5" cy="302.8" r="1.13"/><circle cx="74.6" cy="313.3" r="0.64"/><circle cx="80.5" cy="299.5" r="1.25"/><circle cx="84.8" cy="278.1" r="0.68"/><circle cx="89.8" cy="305.7" r="0.49"/><circle cx="76.1" cy="282.9" r="0.81"/><circle cx="81.3" cy="289.6" r="0.81"/><circle cx="98.7" cy="302.7" r="1.01"/><circle cx="81.8" cy="316.5" r="0.46"/><circle cx="85.6" cy="289.8" r="0.53"/><circle cx="65.2" cy="303.4" r="1.22"/><circle cx="74.5" cy="301.5" r="1.15"/><circle cx="83.5" cy="316.2" r="0.38"/><circle cx="90.0" cy="309.9" r="0.79"/><circle cx="102.8" cy="296.7" r="0.97"/><circle cx="104.6" cy="303.1" r="0.39"/><circle cx="72.2" cy="302.5" r="0.45"/><circle cx="86.6" cy="319.1" r="1.10"/><circle cx="100.2" cy="294.0" r="0.56"/><circle cx="86.4" cy="302.4" r="0.49"/><circle cx="84.4" cy="291.8" r="1.14"/><circle cx="76.8" cy="312.5" r="0.93"/><circle cx="107.7" cy="287.8" r="0.59"/><circle cx="85.9" cy="287.1" r="0.89"/><circle cx="108.5" cy="299.0" r="0.52"/><circle cx="64.8" cy="303.3" r="0.75"/><circle cx="101.0" cy="303.2" r="0.65"/><circle cx="91.8" cy="290.5" r="0.54"/><circle cx="86.1" cy="318.1" r="0.87"/><circle cx="92.7" cy="298.3" r="1.07"/><circle cx="106.0" cy="297.7" r="0.78"/><circle cx="100.7" cy="312.6" r="0.94"/><circle cx="79.9" cy="277.5" r="0.67"/><circle cx="79.8" cy="281.0" r="0.48"/><circle cx="93.2" cy="314.9" r="0.55"/><circle cx="97.3" cy="293.8" r="0.36"/><circle cx="85.6" cy="276.2" r="0.61"/><circle cx="79.4" cy="292.3" r="0.82"/><circle cx="109.1" cy="302.6" r="0.76"/><circle cx="102.6" cy="295.6" r="0.98"/><circle cx="83.9" cy="308.6" r="0.44"/><circle cx="70.7" cy="306.3" r="1.02"/><circle cx="79.8" cy="277.4" r="0.90"/><circle cx="67.4" cy="292.6" r="1.08"/><circle cx="101.1" cy="311.9" r="0.44"/><circle cx="99.7" cy="313.4" r="1.09"/><circle cx="96.4" cy="280.8" r="1.07"/><circle cx="82.4" cy="308.8" r="0.45"/><circle cx="88.9" cy="307.2" r="1.01"/><circle cx="71.1" cy="286.2" r="1.11"/><circle cx="100.6" cy="298.0" r="0.37"/><circle cx="97.1" cy="308.8" r="0.93"/><circle cx="109.3" cy="303.5" r="1.08"/><circle cx="74.3" cy="288.3" r="1.23"/><circle cx="92.5" cy="305.8" r="0.90"/><circle cx="81.1" cy="291.2" r="1.18"/><circle cx="80.9" cy="300.2" r="0.96"/><circle cx="74.8" cy="303.6" r="0.94"/><circle cx="101.9" cy="296.4" r="1.19"/><circle cx="84.1" cy="316.0" r="0.71"/></g>
<text x="144.25" y="210" font-size="11" text-anchor="middle">2</text>
<rect x="116.25" y="216" width="53.75" height="107.25" fill="#f6f6f9" stroke="#6f98d2" stroke-width="1.1"/>
<ellipse cx="143.12" cy="242.8" rx="26.07" ry="24.3" fill="#eff0f5" stroke="#d3d5e2" stroke-width="2"/>
<ellipse cx="143.12" cy="243.4" rx="23.68" ry="21.9" fill="none" stroke="#e4e5ee" stroke-width="1"/>
<g fill="#4039a8" filter="url(#soft)"><circle cx="126.3" cy="247.9" r="0.42"/><circle cx="153.3" cy="247.6" r="0.57"/><circle cx="148.8" cy="245.7" r="0.33"/><circle cx="144.6" cy="248.1" r="0.66"/><circle cx="161.3" cy="253.2" r="0.56"/><circle cx="130.1" cy="226.4" r="0.87"/><circle cx="152.2" cy="247.6" r="0.61"/><circle cx="143.2" cy="230.5" r="0.67"/><circle cx="126.2" cy="248.1" r="0.74"/><circle cx="151.3" cy="231.5" r="0.36"/><circle cx="135.1" cy="251.1" r="0.66"/><circle cx="155.0" cy="239.7" r="0.58"/><circle cx="129.2" cy="246.7" r="0.74"/><circle cx="139.9" cy="245.4" r="0.61"/><circle cx="151.2" cy="259.9" r="0.88"/><circle cx="149.7" cy="241.5" r="0.96"/><circle cx="140.6" cy="248.3" r="0.91"/><circle cx="151.9" cy="238.0" r="0.82"/><circle cx="147.9" cy="261.1" r="0.74"/><circle cx="144.7" cy="263.8" r="0.67"/><circle cx="138.3" cy="262.1" r="0.96"/><circle cx="137.6" cy="232.0" r="0.78"/><circle cx="140.6" cy="250.0" r="0.45"/><circle cx="139.1" cy="227.0" r="0.64"/><circle cx="130.2" cy="224.2" r="0.57"/><circle cx="126.4" cy="239.2" r="0.52"/><circle cx="154.1" cy="239.0" r="0.47"/><circle cx="128.3" cy="233.9" r="0.82"/><circle cx="128.9" cy="241.3" r="0.86"/><circle cx="158.8" cy="241.1" r="0.89"/><circle cx="149.9" cy="230.7" r="0.37"/><circle cx="127.4" cy="255.6" r="0.57"/><circle cx="163.2" cy="241.4" r="0.31"/><circle cx="132.5" cy="230.4" r="0.75"/><circle cx="152.8" cy="261.4" r="0.79"/><circle cx="165.1" cy="248.9" r="0.63"/><circle cx="159.2" cy="232.8" r="0.84"/><circle cx="154.0" cy="259.1" r="0.34"/><circle cx="126.0" cy="240.6" r="0.72"/><circle cx="142.3" cy="259.5" r="0.97"/><circle cx="135.6" cy="226.7" r="0.94"/><circle cx="140.9" cy="231.7" r="0.40"/><circle cx="119.6" cy="246.5" r="0.50"/><circle cx="145.8" cy="261.6" r="0.64"/><circle cx="155.4" cy="254.0" r="0.97"/><circle cx="120.7" cy="243.1" r="0.69"/><circle cx="147.8" cy="241.5" r="0.49"/><circle cx="145.7" cy="224.2" r="0.79"/><circle cx="124.3" cy="253.9" r="0.75"/><circle cx="129.1" cy="227.4" r="0.35"/><circle cx="130.1" cy="259.8" r="0.39"/><circle cx="135.4" cy="241.6" r="0.55"/><circle cx="142.3" cy="229.7" r="0.38"/><circle cx="152.2" cy="235.7" r="0.64"/><circle cx="152.4" cy="224.5" r="0.34"/><circle cx="120.2" cy="240.7" r="1.00"/><circle cx="144.5" cy="263.7" r="0.34"/><circle cx="141.8" cy="258.2" r="0.57"/><circle cx="140.3" cy="240.5" r="0.57"/><circle cx="130.3" cy="235.0" r="0.86"/><circle cx="154.8" cy="256.7" r="0.78"/><circle cx="149.5" cy="233.2" r="0.36"/><circle cx="161.8" cy="232.4" r="0.82"/><circle cx="129.7" cy="250.7" r="0.87"/><circle cx="158.3" cy="251.1" r="0.98"/><circle cx="165.6" cy="240.1" r="0.95"/><circle cx="153.6" cy="231.5" r="0.71"/><circle cx="127.4" cy="238.4" r="0.87"/><circle cx="119.7" cy="244.4" r="0.60"/><circle cx="132.8" cy="223.6" r="0.67"/><circle cx="135.2" cy="225.0" r="0.58"/><circle cx="151.7" cy="224.3" r="0.85"/><circle cx="123.2" cy="241.5" r="0.56"/><circle cx="154.5" cy="233.7" r="0.53"/><circle cx="158.6" cy="243.2" r="0.74"/><circle cx="153.8" cy="229.2" r="0.57"/><circle cx="164.8" cy="235.4" r="0.89"/><circle cx="143.2" cy="233.2" r="0.72"/><circle cx="143.1" cy="237.2" r="0.93"/><circle cx="154.6" cy="236.0" r="0.73"/><circle cx="145.2" cy="237.0" r="0.50"/><circle cx="150.2" cy="260.4" r="0.47"/><circle cx="136.2" cy="227.7" r="0.56"/><circle cx="137.8" cy="224.9" r="0.75"/><circle cx="135.6" cy="256.4" r="0.47"/><circle cx="127.4" cy="237.1" r="0.98"/><circle cx="138.5" cy="235.2" r="0.41"/><circle cx="158.8" cy="235.1" r="0.92"/><circle cx="145.9" cy="228.7" r="0.99"/><circle cx="162.2" cy="253.8" r="0.72"/><circle cx="128.7" cy="231.4" r="0.83"/><circle cx="139.2" cy="264.2" r="0.88"/><circle cx="144.2" cy="227.8" r="0.73"/><circle cx="148.0" cy="246.3" r="0.85"/><circle cx="142.0" cy="260.1" r="0.72"/><circle cx="126.9" cy="257.0" r="0.42"/><circle cx="128.6" cy="229.6" r="0.79"/><circle cx="141.1" cy="237.3" r="0.83"/><circle cx="135.3" cy="226.5" r="0.69"/><circle cx="124.3" cy="253.7" r="0.53"/><circle cx="165.7" cy="237.9" r="0.37"/><circle cx="135.0" cy="243.5" r="0.42"/><circle cx="156.0" cy="235.3" r="0.82"/><circle cx="130.4" cy="242.4" r="0.76"/><circle cx="129.2" cy="233.5" r="0.89"/><circle cx="138.1" cy="236.1" r="0.73"/><circle cx="152.3" cy="258.9" r="0.70"/><circle cx="152.4" cy="251.5" r="0.57"/><circle cx="139.0" cy="235.6" r="0.68"/><circle cx="155.4" cy="257.4" r="0.38"/><circle cx="146.6" cy="260.0" r="0.71"/><circle cx="137.2" cy="226.2" r="0.83"/><circle cx="141.3" cy="240.5" r="0.39"/><circle cx="160.0" cy="232.7" r="0.39"/><circle cx="139.1" cy="255.8" r="0.35"/><circle cx="142.2" cy="253.6" r="0.84"/><circle cx="128.4" cy="242.0" r="0.87"/><circle cx="147.3" cy="260.0" r="0.73"/><circle cx="156.8" cy="233.8" r="0.64"/><circle cx="146.1" cy="228.8" r="0.96"/><circle cx="153.8" cy="224.3" r="0.76"/><circle cx="154.4" cy="247.8" r="0.76"/><circle cx="153.1" cy="252.4" r="0.42"/><circle cx="139.5" cy="246.9" r="0.91"/><circle cx="150.1" cy="242.3" r="0.87"/><circle cx="159.6" cy="231.7" r="0.43"/><circle cx="129.4" cy="246.3" r="0.67"/><circle cx="150.7" cy="262.1" r="0.76"/><circle cx="127.4" cy="239.7" r="0.43"/><circle cx="137.5" cy="253.4" r="0.76"/><circle cx="149.2" cy="258.8" r="1.00"/><circle cx="131.3" cy="251.7" r="0.75"/><circle cx="138.3" cy="250.5" r="0.46"/><circle cx="139.5" cy="226.0" r="0.98"/><circle cx="154.0" cy="246.2" r="0.53"/><circle cx="164.2" cy="251.6" r="0.61"/><circle cx="153.2" cy="262.0" r="0.91"/><circle cx="136.6" cy="255.0" r="0.45"/><circle cx="154.3" cy="238.4" r="0.68"/><circle cx="140.1" cy="252.0" r="0.67"/><circle cx="140.9" cy="239.2" r="0.92"/><circle cx="158.0" cy="231.4" r="0.58"/><circle cx="162.2" cy="252.9" r="0.72"/><circle cx="149.3" cy="229.6" r="0.70"/><circle cx="154.9" cy="240.2" r="0.59"/><circle cx="139.8" cy="247.2" r="0.45"/><circle cx="156.2" cy="243.9" r="0.48"/><circle cx="131.2" cy="232.6" r="0.41"/><circle cx="123.4" cy="249.8" r="0.98"/><circle cx="133.0" cy="230.9" r="0.71"/><circle cx="134.8" cy="241.0" r="0.70"/><circle cx="136.6" cy="252.0" r="0.70"/><circle cx="161.1" cy="239.9" r="0.75"/><circle cx="143.6" cy="247.4" r="0.64"/><circle cx="143.6" cy="242.8" r="0.61"/><circle cx="156.3" cy="236.3" r="0.57"/><circle cx="135.3" cy="246.0" r="0.64"/><circle cx="148.1" cy="262.1" r="0.54"/><circle cx="154.7" cy="257.9" r="0.87"/><circle cx="128.6" cy="248.7" r="0.54"/><circle cx="136.2" cy="226.4" r="0.85"/><circle cx="140.1" cy="261.3" r="0.86"/><circle cx="148.6" cy="256.2" r="0.84"/><circle cx="150.3" cy="236.6" r="0.87"/><circle cx="154.5" cy="224.7" r="0.57"/><circle cx="133.5" cy="252.4" r="0.42"/><circle cx="158.8" cy="232.7" r="0.91"/><circle cx="143.5" cy="257.9" r="0.61"/><circle cx="132.6" cy="259.9" r="0.31"/><circle cx="146.0" cy="254.3" r="0.47"/><circle cx="147.0" cy="258.4" r="0.30"/><circle cx="155.8" cy="226.7" r="0.32"/><circle cx="142.8" cy="237.8" r="0.58"/><circle cx="148.1" cy="227.2" r="0.96"/><circle cx="141.8" cy="230.1" r="0.67"/><circle cx="139.0" cy="223.9" r="0.83"/><circle cx="139.8" cy="257.9" r="0.83"/><circle cx="133.4" cy="245.7" r="0.70"/><circle cx="148.7" cy="253.6" r="0.83"/><circle cx="150.3" cy="247.4" r="0.68"/><circle cx="126.0" cy="232.7" r="0.38"/><circle cx="147.8" cy="247.5" r="0.46"/><circle cx="137.3" cy="259.0" r="0.41"/><circle cx="144.9" cy="243.3" r="0.63"/><circle cx="146.1" cy="242.9" r="0.35"/><circle cx="121.0" cy="241.5" r="0.49"/><circle cx="152.0" cy="252.1" r="0.34"/><circle cx="137.3" cy="234.5" r="0.75"/><circle cx="146.3" cy="258.8" r="0.33"/><circle cx="142.1" cy="252.9" r="0.42"/><circle cx="121.1" cy="240.4" r="0.46"/><circle cx="154.6" cy="250.3" r="0.91"/><circle cx="154.3" cy="240.2" r="0.84"/><circle cx="160.9" cy="255.6" r="0.98"/></g>
<ellipse cx="143.12" cy="297.6" rx="26.07" ry="24.3" fill="#eff0f5" stroke="#d3d5e2" stroke-width="2"/>
<ellipse cx="143.12" cy="298.2" rx="23.68" ry="21.9" fill="none" stroke="#e4e5ee" stroke-width="1"/>
<g fill="#4039a8" filter="url(#soft)"><circle cx="165.9" cy="295.7" r="1.07"/><circle cx="154.4" cy="285.0" r="0.43"/><circle cx="148.0" cy="280.9" r="0.73"/><circle cx="129.8" cy="312.2" r="0.37"/><circle cx="130.0" cy="280.2" r="0.48"/><circle cx="144.2" cy="283.6" r="0.76"/><circle cx="154.2" cy="307.4" r="0.77"/><circle cx="156.7" cy="300.8" r="1.18"/><circle cx="131.2" cy="291.8" r="0.93"/><circle cx="164.4" cy="302.8" r="0.82"/><circle cx="131.2" cy="287.9" r="0.57"/><circle cx="161.9" cy="298.9" r="1.06"/><circle cx="133.4" cy="296.8" r="0.50"/><circle cx="139.3" cy="286.6" r="0.45"/><circle cx="158.1" cy="306.4" r="0.44"/><circle cx="142.4" cy="319.3" r="1.34"/><circle cx="146.1" cy="309.6" r="1.06"/><circle cx="133.2" cy="299.8" r="0.95"/><circle cx="138.1" cy="311.7" r="0.79"/><circle cx="140.5" cy="277.6" r="1.00"/><circle cx="160.9" cy="299.5" r="0.92"/><circle cx="149.0" cy="285.6" r="0.74"/><circle cx="146.9" cy="304.1" r="0.73"/><circle cx="142.0" cy="290.1" r="0.90"/><circle cx="151.5" cy="290.0" r="1.03"/><circle cx="159.6" cy="299.2" r="1.33"/><circle cx="134.0" cy="316.2" r="0.53"/><circle cx="136.6" cy="311.7" r="0.38"/><circle cx="148.5" cy="313.9" r="1.29"/><circle cx="151.8" cy="290.8" r="0.68"/><circle cx="149.4" cy="278.4" r="0.38"/><circle cx="161.4" cy="303.2" r="0.51"/><circle cx="139.7" cy="288.3" r="1.22"/><circle cx="133.0" cy="307.5" r="1.09"/><circle cx="134.5" cy="286.7" r="0.87"/><circle cx="138.3" cy="301.8" r="0.68"/><circle cx="157.2" cy="294.1" r="0.49"/><circle cx="156.2" cy="315.0" r="1.03"/><circle cx="145.3" cy="313.9" r="1.28"/><circle cx="119.6" cy="297.1" r="0.37"/><circle cx="135.2" cy="286.2" r="0.81"/><circle cx="151.6" cy="313.6" r="0.61"/><circle cx="156.6" cy="299.8" r="0.46"/><circle cx="144.5" cy="313.4" r="1.13"/><circle cx="155.1" cy="311.1" r="0.60"/><circle cx="131.1" cy="294.7" r="1.12"/><circle cx="157.1" cy="308.9" r="0.93"/><circle cx="142.0" cy="284.2" r="1.02"/><circle cx="150.4" cy="298.2" r="1.08"/><circle cx="124.4" cy="288.2" r="0.96"/><circle cx="152.1" cy="288.2" r="1.28"/><circle cx="141.3" cy="309.4" r="0.40"/><circle cx="156.9" cy="298.6" r="1.30"/><circle cx="148.2" cy="289.9" r="0.71"/><circle cx="137.1" cy="284.2" r="0.46"/><circle cx="150.3" cy="289.4" r="0.80"/><circle cx="153.1" cy="287.6" r="0.79"/><circle cx="134.7" cy="289.9" r="1.02"/><circle cx="123.9" cy="293.1" r="0.46"/><circle cx="151.2" cy="288.7" r="1.32"/><circle cx="142.3" cy="304.7" r="0.87"/><circle cx="158.3" cy="306.4" r="0.99"/><circle cx="155.0" cy="293.7" r="1.33"/><circle cx="149.6" cy="311.8" r="1.10"/><circle cx="165.1" cy="304.5" r="1.29"/><circle cx="139.6" cy="287.3" r="0.46"/><circle cx="131.4" cy="314.9" r="1.01"/><circle cx="141.2" cy="299.6" r="0.71"/><circle cx="161.0" cy="307.5" r="1.17"/><circle cx="132.1" cy="305.0" r="0.55"/><circle cx="133.6" cy="317.8" r="0.56"/><circle cx="133.3" cy="285.2" r="1.22"/><circle cx="152.0" cy="301.6" r="1.20"/><circle cx="141.4" cy="315.9" r="1.13"/><circle cx="133.6" cy="286.0" r="0.89"/><circle cx="140.6" cy="310.4" r="1.00"/><circle cx="154.7" cy="302.2" r="0.61"/><circle cx="149.7" cy="306.9" r="0.58"/><circle cx="124.9" cy="295.3" r="0.94"/><circle cx="153.9" cy="296.5" r="0.89"/><circle cx="125.0" cy="289.6" r="0.59"/><circle cx="126.1" cy="290.5" r="0.69"/><circle cx="160.2" cy="284.3" r="0.59"/><circle cx="123.9" cy="298.7" r="0.72"/><circle cx="141.7" cy="281.6" r="0.38"/><circle cx="137.7" cy="316.4" r="1.00"/><circle cx="146.5" cy="278.3" r="0.78"/><circle cx="136.9" cy="303.4" r="0.75"/><circle cx="157.5" cy="287.7" r="1.08"/><circle cx="157.3" cy="313.2" r="0.65"/><circle cx="147.5" cy="279.6" r="1.34"/><circle cx="146.3" cy="288.8" r="0.86"/><circle cx="136.9" cy="301.0" r="0.76"/><circle cx="137.2" cy="307.8" r="0.66"/><circle cx="158.8" cy="308.4" r="1.29"/><circle cx="153.2" cy="283.7" r="1.26"/></g>
<text x="200" y="210" font-size="11" text-anchor="middle">4</text>
<rect x="172.5" y="216" width="54.25" height="107.25" fill="#f6f6f9" stroke="#6f98d2" stroke-width="1.1"/>
<ellipse cx="199.62" cy="242.8" rx="26.32" ry="24.3" fill="#eff0f5" stroke="#d3d5e2" stroke-width="2"/>
<ellipse cx="199.62" cy="243.4" rx="23.93" ry="21.9" fill="none" stroke="#e4e5ee" stroke-width="1"/>
<g fill="#4039a8" filter="url(#soft)"><circle cx="210.8" cy="230.8" r="0.66"/><circle cx="210.0" cy="256.4" r="0.37"/><circle cx="181.2" cy="249.7" r="0.66"/><circle cx="206.6" cy="258.8" r="0.90"/><circle cx="194.4" cy="235.0" r="0.94"/><circle cx="205.8" cy="238.8" r="0.79"/><circle cx="201.4" cy="232.1" r="0.52"/><circle cx="202.9" cy="225.2" r="0.92"/><circle cx="214.2" cy="257.3" r="0.59"/><circle cx="195.5" cy="261.5" r="0.68"/><circle cx="207.7" cy="256.3" r="0.87"/><circle cx="206.0" cy="260.9" r="1.30"/><circle cx="184.1" cy="243.8" r="0.39"/><circle cx="193.8" cy="227.1" r="0.50"/><circle cx="205.7" cy="224.4" r="0.50"/><circle cx="187.3" cy="224.0" r="0.94"/><circle cx="210.1" cy="248.6" r="0.87"/><circle cx="201.3" cy="252.5" r="0.64"/><circle cx="216.1" cy="251.3" r="1.17"/><circle cx="200.5" cy="243.8" r="1.05"/><circle cx="203.4" cy="222.1" r="1.22"/><circle cx="185.1" cy="242.1" r="0.78"/><circle cx="180.1" cy="246.2" r="0.91"/><circle cx="214.7" cy="247.8" r="0.64"/><circle cx="202.7" cy="263.0" r="0.95"/><circle cx="208.8" cy="230.0" r="0.50"/><circle cx="191.5" cy="228.5" r="0.43"/><circle cx="185.7" cy="230.9" r="0.59"/><circle cx="199.9" cy="230.9" r="0.85"/><circle cx="187.0" cy="229.4" r="0.81"/><circle cx="202.6" cy="238.2" r="0.87"/><circle cx="221.2" cy="242.6" r="0.72"/><circle cx="186.0" cy="237.5" r="1.09"/><circle cx="205.0" cy="233.0" r="1.20"/><circle cx="182.0" cy="236.5" r="1.09"/><circle cx="219.7" cy="241.0" r="0.36"/><circle cx="202.6" cy="239.6" r="0.38"/><circle cx="192.3" cy="259.8" r="0.39"/><circle cx="184.2" cy="228.2" r="1.11"/><circle cx="190.4" cy="250.9" r="0.99"/><circle cx="176.0" cy="240.1" r="0.46"/><circle cx="214.1" cy="242.3" r="0.70"/><circle cx="214.7" cy="257.1" r="0.41"/><circle cx="180.1" cy="235.0" r="0.65"/><circle cx="196.8" cy="239.6" r="1.27"/><circle cx="207.9" cy="263.1" r="0.94"/></g>
<ellipse cx="199.62" cy="297.6" rx="26.32" ry="24.3" fill="#eff0f5" stroke="#d3d5e2" stroke-width="2"/>
<ellipse cx="199.62" cy="298.2" rx="23.93" ry="21.9" fill="none" stroke="#e4e5ee" stroke-width="1"/>
<g fill="#4039a8" filter="url(#soft)"><circle cx="217.7" cy="291.0" r="1.19"/><circle cx="221.3" cy="289.4" r="1.17"/><circle cx="191.7" cy="282.8" r="0.75"/><circle cx="211.7" cy="282.1" r="1.06"/><circle cx="192.5" cy="283.0" r="0.83"/><circle cx="194.2" cy="295.9" r="1.28"/><circle cx="200.9" cy="286.7" r="1.33"/><circle cx="212.3" cy="314.2" r="1.38"/><circle cx="194.5" cy="299.0" r="0.90"/><circle cx="212.1" cy="303.1" r="1.23"/><circle cx="200.4" cy="301.5" r="1.36"/><circle cx="209.2" cy="281.0" r="0.82"/><circle cx="189.5" cy="287.1" r="0.53"/><circle cx="180.9" cy="296.8" r="1.18"/><circle cx="203.6" cy="276.1" r="0.59"/><circle cx="191.0" cy="307.5" r="0.85"/><circle cx="203.6" cy="313.1" r="1.06"/><circle cx="179.1" cy="303.6" r="0.76"/><circle cx="187.2" cy="316.2" r="0.81"/><circle cx="219.9" cy="297.3" r="0.57"/><circle cx="217.3" cy="290.5" r="0.65"/><circle cx="186.9" cy="280.8" r="0.76"/><circle cx="185.7" cy="302.8" r="0.67"/><circle cx="217.0" cy="297.0" r="1.08"/><circle cx="215.9" cy="299.1" r="0.87"/><circle cx="208.9" cy="309.1" r="0.98"/><circle cx="216.4" cy="313.2" r="1.15"/></g>
<text x="255.75" y="210" font-size="11" text-anchor="middle">6</text>
<rect x="229.5" y="216" width="54" height="107.25" fill="#f6f6f9" stroke="#6f98d2" stroke-width="1.1"/>
<ellipse cx="256.5" cy="242.8" rx="26.2" ry="24.3" fill="#eff0f5" stroke="#d3d5e2" stroke-width="2"/>
<ellipse cx="256.5" cy="243.4" rx="23.8" ry="21.9" fill="none" stroke="#e4e5ee" stroke-width="1"/>
<g fill="#4039a8" filter="url(#soft)"><circle cx="266.6" cy="260.6" r="0.51"/><circle cx="271.0" cy="229.1" r="1.28"/><circle cx="250.0" cy="240.6" r="1.02"/><circle cx="265.6" cy="253.7" r="0.72"/><circle cx="255.7" cy="226.8" r="0.72"/><circle cx="256.1" cy="224.0" r="0.78"/></g>
<ellipse cx="256.5" cy="297.6" rx="26.2" ry="24.3" fill="#eff0f5" stroke="#d3d5e2" stroke-width="2"/>
<ellipse cx="256.5" cy="298.2" rx="23.8" ry="21.9" fill="none" stroke="#e4e5ee" stroke-width="1"/>
<g fill="#4039a8" filter="url(#soft)"><circle cx="244.4" cy="301.2" r="0.99"/></g>
<text x="52.5" y="241.74" font-size="11" text-anchor="middle" textLength="17.5" lengthAdjust="spacingAndGlyphs" transform="rotate(-90 52.5 241.74)">Ctrl</text>
<text x="52.5" y="298.58" font-size="11" text-anchor="middle" textLength="47" lengthAdjust="spacingAndGlyphs" transform="rotate(-90 52.5 298.58)">CD59-KO</text>
<text x="309.5" y="189.5" font-size="14.5" font-weight="bold" fill="#000">E</text>
<text x="409.5" y="193.75" font-size="11" textLength="49" lengthAdjust="spacingAndGlyphs">KYSE510</text>
<line x1="324.5" y1="198.4" x2="549.3" y2="198.4" stroke="#111" stroke-width="1.3"/>
<text x="308.75" y="213" font-size="11" textLength="14.5" lengthAdjust="spacingAndGlyphs">Gy</text>
<text x="356.25" y="213" font-size="11" text-anchor="middle">0</text>
<rect x="325.2" y="218.5" width="54.3" height="107.25" fill="#f6f6f9" stroke="#6f98d2" stroke-width="1.1"/>
<ellipse cx="352.35" cy="245.3" rx="26.35" ry="24.3" fill="#eff0f5" stroke="#d3d5e2" stroke-width="2"/>
<ellipse cx="352.35" cy="245.9" rx="23.95" ry="21.9" fill="none" stroke="#e4e5ee" stroke-width="1"/>
<g fill="#4039a8" filter="url(#soft)"><circle cx="362.4" cy="229.6" r="1.17"/><circle cx="349.4" cy="230.5" r="0.41"/><circle cx="341.6" cy="243.5" r="0.57"/><circle cx="369.3" cy="236.5" r="1.03"/><circle cx="345.2" cy="227.7" r="0.79"/><circle cx="361.3" cy="244.7" r="0.98"/><circle cx="334.6" cy="244.9" r="1.17"/><circle cx="346.7" cy="259.5" r="0.50"/><circle cx="339.2" cy="252.9" r="1.11"/><circle cx="366.5" cy="229.7" r="0.89"/><circle cx="339.7" cy="256.3" r="0.92"/><circle cx="361.4" cy="257.7" r="1.29"/><circle cx="350.7" cy="267.2" r="0.66"/><circle cx="362.8" cy="262.8" r="0.90"/><circle cx="345.7" cy="259.6" r="1.13"/><circle cx="362.7" cy="238.5" r="0.86"/><circle cx="328.3" cy="246.6" r="0.68"/><circle cx="349.8" cy="228.4" r="0.71"/><circle cx="359.4" cy="239.2" r="0.49"/><circle cx="329.9" cy="247.3" r="1.29"/><circle cx="363.6" cy="232.7" r="1.27"/><circle cx="352.8" cy="243.0" r="0.46"/><circle cx="372.6" cy="236.1" r="0.75"/><circle cx="358.3" cy="225.4" r="0.53"/><circle cx="366.7" cy="243.3" r="0.43"/><circle cx="341.1" cy="243.5" r="0.87"/><circle cx="353.2" cy="229.2" r="1.12"/><circle cx="333.0" cy="242.8" r="1.06"/><circle cx="337.4" cy="252.4" r="0.49"/><circle cx="333.6" cy="233.1" r="0.96"/><circle cx="370.1" cy="234.0" r="1.10"/><circle cx="348.1" cy="243.5" r="1.01"/><circle cx="339.8" cy="254.5" r="0.71"/><circle cx="335.9" cy="251.5" r="0.86"/><circle cx="365.2" cy="243.0" r="1.11"/><circle cx="331.1" cy="244.9" r="0.78"/><circle cx="360.9" cy="230.3" r="0.53"/><circle cx="356.9" cy="238.9" r="0.49"/><circle cx="349.5" cy="242.4" r="0.45"/><circle cx="347.6" cy="263.9" r="1.26"/><circle cx="362.1" cy="240.4" r="1.18"/><circle cx="362.3" cy="229.7" r="0.73"/><circle cx="348.3" cy="258.2" r="0.93"/><circle cx="339.8" cy="259.4" r="0.84"/><circle cx="365.9" cy="239.0" r="0.70"/><circle cx="344.4" cy="230.5" r="1.09"/><circle cx="359.9" cy="240.6" r="0.94"/><circle cx="361.4" cy="265.7" r="0.52"/><circle cx="373.7" cy="255.2" r="0.88"/><circle cx="332.8" cy="253.8" r="1.13"/><circle cx="341.6" cy="258.9" r="1.22"/><circle cx="352.2" cy="241.8" r="0.93"/><circle cx="367.1" cy="251.9" r="1.29"/><circle cx="351.8" cy="237.5" r="0.53"/><circle cx="362.8" cy="247.7" r="0.94"/><circle cx="364.6" cy="250.8" r="0.64"/><circle cx="352.8" cy="237.5" r="0.83"/><circle cx="375.8" cy="248.2" r="1.13"/><circle cx="357.4" cy="242.5" r="1.19"/><circle cx="359.3" cy="238.8" r="0.79"/><circle cx="360.6" cy="262.3" r="0.46"/><circle cx="332.2" cy="251.5" r="0.66"/><circle cx="357.2" cy="230.7" r="1.23"/><circle cx="349.4" cy="224.2" r="0.43"/><circle cx="359.9" cy="256.6" r="1.00"/><circle cx="363.6" cy="237.6" r="0.76"/><circle cx="349.7" cy="255.3" r="0.73"/><circle cx="364.3" cy="233.1" r="0.81"/><circle cx="354.3" cy="227.1" r="0.48"/><circle cx="359.0" cy="230.7" r="0.81"/><circle cx="371.8" cy="250.7" r="0.99"/><circle cx="357.6" cy="234.7" r="0.56"/><circle cx="340.8" cy="230.8" r="0.57"/><circle cx="352.9" cy="248.0" r="1.06"/><circle cx="354.7" cy="228.4" r="0.76"/><circle cx="345.8" cy="229.8" r="1.27"/><circle cx="338.3" cy="255.0" r="0.56"/><circle cx="351.6" cy="232.8" r="1.23"/><circle cx="361.9" cy="259.7" r="1.30"/><circle cx="343.0" cy="242.4" r="0.88"/><circle cx="362.6" cy="261.4" r="0.88"/><circle cx="347.6" cy="261.5" r="0.59"/><circle cx="353.2" cy="229.5" r="0.94"/><circle cx="348.9" cy="224.5" r="1.10"/><circle cx="374.2" cy="244.1" r="0.43"/><circle cx="374.0" cy="238.0" r="0.97"/><circle cx="330.3" cy="249.6" r="1.12"/><circle cx="342.3" cy="240.0" r="1.26"/><circle cx="332.0" cy="245.3" r="0.42"/><circle cx="346.6" cy="258.7" r="0.48"/><circle cx="356.8" cy="249.9" r="1.14"/><circle cx="366.8" cy="255.1" r="1.01"/><circle cx="371.9" cy="255.3" r="0.63"/><circle cx="352.5" cy="264.7" r="0.53"/><circle cx="342.9" cy="253.1" r="0.74"/><circle cx="346.8" cy="243.1" r="0.72"/><circle cx="341.9" cy="235.6" r="0.45"/><circle cx="350.5" cy="267.3" r="0.77"/><circle cx="337.5" cy="230.0" r="0.71"/><circle cx="369.0" cy="254.1" r="1.14"/><circle cx="370.0" cy="235.6" r="1.03"/><circle cx="365.9" cy="232.1" r="0.67"/><circle cx="352.8" cy="230.2" r="1.03"/><circle cx="367.8" cy="243.8" r="0.43"/><circle cx="352.8" cy="262.1" r="0.49"/><circle cx="361.3" cy="240.5" r="0.50"/><circle cx="371.9" cy="243.4" r="1.17"/><circle cx="344.8" cy="254.2" r="0.43"/><circle cx="362.6" cy="227.6" r="0.44"/><circle cx="331.5" cy="247.0" r="1.18"/><circle cx="346.8" cy="248.8" r="1.00"/><circle cx="350.7" cy="232.2" r="0.51"/><circle cx="366.9" cy="260.5" r="0.47"/><circle cx="347.5" cy="252.9" r="1.16"/><circle cx="349.4" cy="250.1" r="0.94"/><circle cx="361.0" cy="261.8" r="0.83"/><circle cx="359.4" cy="256.4" r="0.50"/><circle cx="335.2" cy="252.6" r="0.73"/><circle cx="332.4" cy="238.9" r="0.77"/><circle cx="345.3" cy="236.2" r="0.78"/><circle cx="346.3" cy="233.0" r="0.77"/><circle cx="350.2" cy="258.8" r="0.86"/><circle cx="347.4" cy="243.8" r="0.64"/><circle cx="349.0" cy="235.2" r="0.90"/><circle cx="349.5" cy="261.1" r="0.49"/><circle cx="362.5" cy="236.2" r="1.11"/><circle cx="341.6" cy="247.7" r="1.11"/><circle cx="346.8" cy="235.0" r="0.45"/><circle cx="357.6" cy="234.6" r="0.66"/><circle cx="359.9" cy="260.3" r="0.68"/><circle cx="352.2" cy="243.8" r="1.25"/><circle cx="328.7" cy="241.3" r="0.84"/><circle cx="338.6" cy="256.8" r="1.10"/><circle cx="353.1" cy="239.4" r="0.76"/><circle cx="336.5" cy="258.0" r="0.63"/><circle cx="361.7" cy="233.4" r="0.85"/><circle cx="332.5" cy="236.3" r="0.51"/><circle cx="346.2" cy="248.8" r="1.09"/><circle cx="350.0" cy="260.2" r="1.27"/><circle cx="375.1" cy="243.2" r="0.51"/><circle cx="362.3" cy="230.9" r="0.52"/><circle cx="340.0" cy="244.6" r="1.14"/><circle cx="332.9" cy="246.1" r="1.08"/><circle cx="363.7" cy="239.6" r="0.76"/><circle cx="351.1" cy="240.1" r="1.22"/><circle cx="365.3" cy="241.4" r="0.73"/><circle cx="345.6" cy="258.6" r="1.01"/><circle cx="337.1" cy="238.4" r="0.69"/><circle cx="350.5" cy="257.6" r="0.84"/><circle cx="344.8" cy="237.3" r="0.71"/><circle cx="357.3" cy="249.9" r="1.00"/><circle cx="336.7" cy="256.6" r="1.18"/><circle cx="347.5" cy="225.8" r="1.21"/><circle cx="359.9" cy="235.1" r="1.05"/><circle cx="345.9" cy="226.2" r="1.03"/><circle cx="355.4" cy="225.9" r="0.42"/><circle cx="346.5" cy="235.7" r="0.81"/><circle cx="340.0" cy="226.9" r="0.46"/><circle cx="357.2" cy="262.0" r="0.87"/><circle cx="357.4" cy="250.5" r="0.48"/><circle cx="344.0" cy="241.0" r="1.00"/><circle cx="332.3" cy="236.1" r="1.13"/><circle cx="365.9" cy="237.4" r="0.72"/><circle cx="360.7" cy="257.1" r="0.94"/><circle cx="339.3" cy="255.8" r="1.05"/><circle cx="347.4" cy="256.8" r="1.06"/><circle cx="350.9" cy="233.3" r="0.92"/><circle cx="332.7" cy="244.0" r="0.59"/><circle cx="354.4" cy="257.2" r="0.97"/><circle cx="362.1" cy="232.6" r="0.92"/><circle cx="353.9" cy="251.8" r="0.71"/><circle cx="344.2" cy="264.6" r="0.87"/><circle cx="350.0" cy="232.3" r="0.60"/><circle cx="341.0" cy="236.7" r="0.84"/><circle cx="337.6" cy="254.3" r="0.64"/><circle cx="336.3" cy="231.1" r="0.41"/><circle cx="370.4" cy="246.0" r="1.23"/><circle cx="372.7" cy="235.7" r="1.02"/><circle cx="363.7" cy="247.8" r="0.50"/><circle cx="363.9" cy="240.8" r="0.74"/><circle cx="371.4" cy="254.9" r="0.80"/><circle cx="367.7" cy="253.0" r="1.04"/><circle cx="370.8" cy="253.5" r="0.98"/><circle cx="342.5" cy="233.3" r="0.99"/><circle cx="367.0" cy="254.2" r="1.21"/><circle cx="360.6" cy="258.0" r="0.43"/><circle cx="335.4" cy="234.0" r="0.58"/><circle cx="342.2" cy="251.5" r="1.07"/><circle cx="335.0" cy="248.0" r="0.73"/><circle cx="356.7" cy="232.5" r="1.20"/><circle cx="349.2" cy="237.1" r="0.87"/><circle cx="343.8" cy="261.4" r="0.77"/><circle cx="337.4" cy="245.1" r="0.54"/><circle cx="365.3" cy="234.3" r="0.78"/><circle cx="361.8" cy="230.3" r="0.94"/><circle cx="350.5" cy="262.6" r="0.97"/><circle cx="330.9" cy="240.4" r="0.50"/><circle cx="361.8" cy="250.0" r="1.18"/><circle cx="357.5" cy="236.4" r="0.52"/><circle cx="343.2" cy="238.2" r="0.77"/><circle cx="341.0" cy="234.6" r="0.46"/><circle cx="348.4" cy="249.9" r="1.23"/><circle cx="371.1" cy="233.0" r="0.67"/><circle cx="357.6" cy="233.6" r="0.43"/><circle cx="370.4" cy="252.0" r="0.51"/><circle cx="332.9" cy="246.6" r="0.45"/><circle cx="364.5" cy="244.1" r="0.94"/><circle cx="342.0" cy="248.1" r="0.43"/><circle cx="357.4" cy="241.4" r="1.11"/><circle cx="353.7" cy="266.7" r="0.92"/><circle cx="366.4" cy="257.3" r="1.24"/><circle cx="330.9" cy="240.6" r="1.23"/><circle cx="339.8" cy="228.4" r="0.85"/><circle cx="361.6" cy="228.5" r="0.49"/><circle cx="338.5" cy="255.1" r="0.54"/><circle cx="341.8" cy="233.9" r="0.55"/><circle cx="365.5" cy="254.2" r="1.15"/><circle cx="353.0" cy="224.4" r="1.16"/><circle cx="331.3" cy="254.1" r="0.63"/><circle cx="362.6" cy="248.5" r="0.64"/><circle cx="362.7" cy="245.6" r="0.76"/><circle cx="350.4" cy="226.8" r="0.40"/><circle cx="346.6" cy="242.2" r="0.55"/><circle cx="363.3" cy="235.5" r="1.20"/><circle cx="351.4" cy="250.8" r="0.55"/><circle cx="338.5" cy="246.5" r="1.10"/><circle cx="375.7" cy="240.8" r="0.91"/><circle cx="348.8" cy="248.6" r="1.05"/><circle cx="330.6" cy="239.0" r="0.94"/><circle cx="333.0" cy="245.3" r="0.88"/><circle cx="348.5" cy="248.3" r="0.79"/><circle cx="335.6" cy="233.7" r="0.97"/><circle cx="360.2" cy="235.3" r="1.30"/><circle cx="368.5" cy="235.2" r="0.70"/><circle cx="373.8" cy="249.1" r="1.11"/><circle cx="368.6" cy="261.6" r="0.94"/><circle cx="357.4" cy="226.4" r="0.78"/><circle cx="357.4" cy="234.3" r="0.76"/><circle cx="361.1" cy="245.1" r="0.98"/><circle cx="346.4" cy="256.4" r="1.11"/><circle cx="361.9" cy="261.4" r="0.56"/><circle cx="355.4" cy="238.6" r="1.11"/><circle cx="361.9" cy="231.4" r="0.66"/><circle cx="352.2" cy="266.0" r="1.06"/><circle cx="347.1" cy="261.1" r="0.92"/><circle cx="344.0" cy="245.9" r="0.56"/><circle cx="352.7" cy="255.0" r="0.87"/><circle cx="342.1" cy="251.2" r="1.23"/><circle cx="331.6" cy="239.8" r="0.94"/><circle cx="352.5" cy="253.8" r="0.74"/><circle cx="355.2" cy="255.7" r="0.54"/><circle cx="351.7" cy="227.7" r="1.10"/><circle cx="331.0" cy="239.7" r="0.69"/><circle cx="342.4" cy="239.3" r="1.28"/><circle cx="357.7" cy="227.7" r="0.99"/><circle cx="359.4" cy="225.5" r="1.27"/><circle cx="334.8" cy="258.4" r="1.27"/><circle cx="339.2" cy="262.3" r="1.19"/><circle cx="342.1" cy="263.2" r="0.93"/><circle cx="366.0" cy="236.3" r="0.62"/><circle cx="370.3" cy="246.4" r="0.75"/><circle cx="364.0" cy="226.6" r="1.09"/><circle cx="361.5" cy="239.0" r="0.47"/><circle cx="337.5" cy="228.4" r="1.07"/><circle cx="331.9" cy="242.5" r="1.23"/><circle cx="329.7" cy="242.1" r="0.56"/><circle cx="350.4" cy="260.3" r="0.70"/><circle cx="352.5" cy="264.6" r="1.18"/><circle cx="353.5" cy="231.0" r="0.73"/><circle cx="357.8" cy="225.3" r="0.83"/><circle cx="364.0" cy="247.7" r="1.26"/><circle cx="371.7" cy="243.2" r="1.08"/><circle cx="344.3" cy="243.5" r="0.93"/><circle cx="334.3" cy="251.7" r="0.43"/><circle cx="355.4" cy="229.0" r="0.92"/><circle cx="340.8" cy="230.1" r="1.07"/><circle cx="334.0" cy="254.2" r="0.98"/><circle cx="347.7" cy="249.0" r="0.64"/><circle cx="362.6" cy="242.4" r="0.86"/><circle cx="353.7" cy="250.4" r="0.92"/><circle cx="347.9" cy="264.5" r="0.53"/><circle cx="371.3" cy="238.8" r="1.10"/><circle cx="339.0" cy="251.2" r="0.86"/><circle cx="341.3" cy="239.1" r="1.21"/><circle cx="342.4" cy="264.6" r="1.19"/><circle cx="350.2" cy="267.0" r="0.98"/><circle cx="368.9" cy="244.9" r="0.75"/><circle cx="344.2" cy="257.9" r="0.53"/><circle cx="365.3" cy="256.5" r="1.03"/><circle cx="342.2" cy="251.8" r="0.64"/><circle cx="330.6" cy="242.9" r="1.17"/><circle cx="347.9" cy="238.3" r="0.42"/><circle cx="374.6" cy="249.3" r="0.88"/><circle cx="351.1" cy="223.6" r="1.07"/><circle cx="352.9" cy="236.3" r="0.47"/><circle cx="367.2" cy="260.8" r="0.51"/><circle cx="342.1" cy="244.1" r="1.13"/><circle cx="339.1" cy="227.0" r="0.75"/><circle cx="372.0" cy="246.9" r="0.64"/><circle cx="369.3" cy="235.2" r="1.18"/><circle cx="352.8" cy="245.5" r="0.63"/><circle cx="345.1" cy="245.1" r="1.14"/><circle cx="367.0" cy="249.2" r="0.87"/><circle cx="364.9" cy="254.2" r="0.58"/><circle cx="346.0" cy="228.5" r="0.83"/><circle cx="366.9" cy="233.2" r="1.20"/><circle cx="355.4" cy="228.5" r="0.64"/><circle cx="343.6" cy="255.2" r="0.83"/><circle cx="355.2" cy="263.6" r="1.00"/><circle cx="356.3" cy="237.6" r="1.19"/><circle cx="365.2" cy="247.5" r="0.46"/><circle cx="363.3" cy="263.0" r="0.65"/><circle cx="333.5" cy="232.7" r="1.25"/><circle cx="339.0" cy="247.8" r="0.81"/><circle cx="371.9" cy="237.8" r="1.29"/><circle cx="329.8" cy="251.3" r="1.17"/><circle cx="344.4" cy="243.9" r="0.68"/><circle cx="374.2" cy="244.3" r="1.21"/><circle cx="353.3" cy="260.2" r="0.86"/><circle cx="342.1" cy="255.5" r="0.61"/><circle cx="350.7" cy="262.5" r="1.23"/><circle cx="375.1" cy="246.7" r="0.56"/><circle cx="352.7" cy="266.1" r="1.02"/><circle cx="344.0" cy="232.9" r="0.79"/><circle cx="330.3" cy="238.8" r="0.60"/><circle cx="364.5" cy="237.7" r="1.09"/><circle cx="358.7" cy="224.1" r="0.60"/><circle cx="359.2" cy="242.0" r="0.52"/><circle cx="359.1" cy="230.5" r="1.17"/><circle cx="344.7" cy="244.3" r="0.42"/><circle cx="358.6" cy="258.1" r="0.66"/><circle cx="365.4" cy="243.7" r="0.89"/><circle cx="343.9" cy="250.3" r="0.55"/><circle cx="368.5" cy="230.6" r="0.51"/><circle cx="362.6" cy="263.4" r="0.53"/><circle cx="343.9" cy="246.8" r="1.05"/><circle cx="337.8" cy="258.2" r="0.65"/><circle cx="361.8" cy="249.8" r="1.30"/><circle cx="369.3" cy="260.8" r="0.89"/><circle cx="362.2" cy="251.7" r="0.59"/><circle cx="372.1" cy="255.5" r="0.48"/><circle cx="358.8" cy="244.8" r="0.54"/><circle cx="340.2" cy="239.4" r="1.02"/><circle cx="369.2" cy="257.5" r="0.49"/><circle cx="356.9" cy="266.2" r="0.94"/><circle cx="358.7" cy="258.7" r="0.90"/><circle cx="332.7" cy="238.1" r="0.87"/><circle cx="342.1" cy="238.9" r="0.69"/><circle cx="334.8" cy="230.4" r="0.64"/><circle cx="355.7" cy="244.0" r="1.29"/><circle cx="337.0" cy="258.3" r="0.72"/><circle cx="370.6" cy="256.0" r="0.89"/><circle cx="340.1" cy="258.3" r="0.53"/><circle cx="356.6" cy="266.1" r="1.11"/><circle cx="374.8" cy="239.7" r="0.48"/><circle cx="347.4" cy="263.7" r="1.11"/><circle cx="369.7" cy="233.0" r="0.50"/><circle cx="361.0" cy="229.7" r="1.01"/><circle cx="353.0" cy="245.6" r="0.99"/><circle cx="366.3" cy="253.2" r="0.70"/><circle cx="356.5" cy="266.8" r="0.73"/><circle cx="336.3" cy="234.7" r="0.49"/><circle cx="342.5" cy="243.3" r="0.70"/><circle cx="347.3" cy="233.8" r="0.89"/><circle cx="362.2" cy="242.0" r="0.66"/><circle cx="345.6" cy="241.9" r="0.64"/><circle cx="332.0" cy="241.5" r="0.56"/><circle cx="350.0" cy="233.1" r="0.97"/><circle cx="331.6" cy="241.5" r="0.65"/><circle cx="365.1" cy="237.1" r="0.94"/><circle cx="335.5" cy="240.5" r="0.54"/><circle cx="362.3" cy="257.4" r="0.56"/><circle cx="355.1" cy="263.0" r="0.82"/><circle cx="351.0" cy="245.5" r="0.46"/><circle cx="338.6" cy="248.5" r="0.42"/><circle cx="343.2" cy="232.8" r="0.83"/><circle cx="353.1" cy="250.8" r="0.81"/><circle cx="337.2" cy="237.1" r="1.27"/><circle cx="351.9" cy="238.1" r="1.21"/><circle cx="350.4" cy="230.5" r="0.75"/><circle cx="362.4" cy="239.0" r="0.87"/><circle cx="363.3" cy="254.0" r="1.05"/><circle cx="350.2" cy="254.9" r="0.89"/><circle cx="362.1" cy="265.0" r="0.52"/><circle cx="337.8" cy="252.7" r="0.99"/><circle cx="360.3" cy="230.5" r="0.75"/><circle cx="362.1" cy="254.5" r="1.08"/><circle cx="334.2" cy="248.1" r="0.71"/><circle cx="337.7" cy="235.8" r="0.54"/><circle cx="365.1" cy="243.2" r="0.49"/><circle cx="350.8" cy="245.9" r="0.43"/><circle cx="340.2" cy="232.3" r="1.12"/><circle cx="366.8" cy="252.2" r="0.68"/><circle cx="345.0" cy="251.2" r="0.54"/><circle cx="361.6" cy="249.6" r="0.57"/><circle cx="364.4" cy="251.9" r="0.71"/><circle cx="371.4" cy="242.5" r="0.88"/><circle cx="357.6" cy="266.5" r="0.44"/><circle cx="353.9" cy="257.5" r="0.63"/><circle cx="352.3" cy="245.7" r="0.60"/><circle cx="335.8" cy="259.9" r="0.59"/><circle cx="336.3" cy="256.8" r="0.69"/><circle cx="351.2" cy="235.3" r="1.09"/><circle cx="356.7" cy="246.3" r="0.47"/><circle cx="371.3" cy="243.8" r="1.17"/><circle cx="370.6" cy="231.4" r="0.98"/><circle cx="356.0" cy="234.7" r="0.62"/><circle cx="333.2" cy="231.9" r="0.45"/><circle cx="354.1" cy="232.9" r="0.64"/><circle cx="357.6" cy="239.5" r="1.14"/><circle cx="352.2" cy="231.6" r="0.73"/><circle cx="354.1" cy="244.3" r="1.15"/><circle cx="340.1" cy="226.3" r="0.54"/><circle cx="363.3" cy="255.2" r="1.17"/><circle cx="334.3" cy="233.7" r="0.74"/><circle cx="341.4" cy="241.2" r="1.10"/><circle cx="369.1" cy="230.2" r="0.90"/><circle cx="349.3" cy="249.3" r="0.79"/><circle cx="334.9" cy="233.2" r="1.12"/><circle cx="348.4" cy="239.8" r="0.60"/><circle cx="333.8" cy="257.3" r="1.22"/><circle cx="353.3" cy="238.2" r="0.91"/><circle cx="360.3" cy="253.8" r="0.55"/><circle cx="345.1" cy="253.4" r="1.23"/><circle cx="350.6" cy="249.0" r="1.29"/><circle cx="344.3" cy="261.3" r="0.89"/><circle cx="337.8" cy="242.1" r="0.50"/><circle cx="363.0" cy="250.2" r="0.53"/><circle cx="352.3" cy="252.4" r="0.72"/><circle cx="348.6" cy="257.4" r="1.30"/><circle cx="344.3" cy="246.6" r="0.60"/><circle cx="342.4" cy="235.4" r="0.88"/><circle cx="345.6" cy="233.5" r="1.08"/><circle cx="353.0" cy="257.6" r="1.06"/><circle cx="336.0" cy="229.8" r="0.57"/><circle cx="353.4" cy="229.0" r="1.07"/><circle cx="371.2" cy="236.0" r="0.77"/><circle cx="359.2" cy="236.2" r="0.96"/><circle cx="371.4" cy="239.6" r="0.65"/><circle cx="356.5" cy="250.0" r="0.56"/><circle cx="362.4" cy="254.0" r="0.49"/><circle cx="332.7" cy="248.5" r="0.42"/><circle cx="345.5" cy="262.9" r="1.07"/></g>
<ellipse cx="352.35" cy="300.1" rx="26.35" ry="24.3" fill="#eff0f5" stroke="#d3d5e2" stroke-width="2"/>
<ellipse cx="352.35" cy="300.7" rx="23.95" ry="21.9" fill="none" stroke="#e4e5ee" stroke-width="1"/>
<g fill="#4039a8" filter="url(#soft)"><circle cx="331.4" cy="292.4" r="0.40"/><circle cx="341.9" cy="311.2" r="1.02"/><circle cx="350.9" cy="311.3" r="0.81"/><circle cx="370.0" cy="305.0" r="0.53"/><circle cx="355.6" cy="299.1" r="0.88"/><circle cx="338.6" cy="308.7" r="0.57"/><circle cx="342.7" cy="288.6" r="0.64"/><circle cx="337.0" cy="311.2" r="1.00"/><circle cx="329.6" cy="303.4" r="0.47"/><circle cx="359.3" cy="296.0" r="0.88"/><circle cx="364.9" cy="312.4" r="1.01"/><circle cx="342.4" cy="282.2" r="0.93"/><circle cx="354.0" cy="317.3" r="1.19"/><circle cx="337.3" cy="296.2" r="1.04"/><circle cx="348.4" cy="320.8" r="0.41"/><circle cx="348.2" cy="315.1" r="1.25"/><circle cx="352.6" cy="289.2" r="0.93"/><circle cx="343.6" cy="308.8" r="0.71"/><circle cx="337.5" cy="303.9" r="1.09"/><circle cx="351.9" cy="304.2" r="0.91"/><circle cx="353.5" cy="278.3" r="0.74"/><circle cx="370.3" cy="300.6" r="1.11"/><circle cx="363.4" cy="299.6" r="0.40"/><circle cx="338.8" cy="299.8" r="0.82"/><circle cx="370.2" cy="293.7" r="1.11"/><circle cx="348.1" cy="319.5" r="1.28"/><circle cx="336.0" cy="314.2" r="0.50"/><circle cx="344.4" cy="317.1" r="0.79"/><circle cx="374.8" cy="293.1" r="0.67"/><circle cx="361.3" cy="280.2" r="0.94"/><circle cx="335.7" cy="286.3" r="1.08"/><circle cx="360.5" cy="304.5" r="0.98"/><circle cx="353.9" cy="304.6" r="0.89"/><circle cx="347.0" cy="285.4" r="0.72"/><circle cx="359.1" cy="291.8" r="1.12"/><circle cx="354.0" cy="283.9" r="0.88"/><circle cx="354.7" cy="309.3" r="0.83"/><circle cx="371.0" cy="309.2" r="0.74"/><circle cx="362.1" cy="307.4" r="0.88"/><circle cx="351.7" cy="282.8" r="0.67"/><circle cx="354.9" cy="313.6" r="0.41"/><circle cx="342.7" cy="292.6" r="0.60"/><circle cx="337.4" cy="289.8" r="1.17"/><circle cx="342.7" cy="308.4" r="1.09"/><circle cx="361.7" cy="297.2" r="0.68"/><circle cx="353.6" cy="293.9" r="0.68"/><circle cx="346.2" cy="280.6" r="0.94"/><circle cx="347.5" cy="280.7" r="0.70"/><circle cx="331.4" cy="300.1" r="0.90"/><circle cx="355.8" cy="313.0" r="0.62"/><circle cx="350.1" cy="303.8" r="0.50"/><circle cx="349.8" cy="317.8" r="1.22"/><circle cx="360.5" cy="310.6" r="0.68"/><circle cx="339.7" cy="307.9" r="0.71"/><circle cx="372.2" cy="292.1" r="1.18"/><circle cx="361.9" cy="295.0" r="1.04"/><circle cx="371.7" cy="309.9" r="0.65"/><circle cx="333.9" cy="304.2" r="1.08"/><circle cx="357.7" cy="288.4" r="0.99"/><circle cx="362.4" cy="295.3" r="1.03"/><circle cx="360.7" cy="320.5" r="0.42"/><circle cx="334.8" cy="285.3" r="0.74"/><circle cx="357.9" cy="303.7" r="0.77"/><circle cx="369.5" cy="301.2" r="0.94"/><circle cx="362.1" cy="315.1" r="0.54"/><circle cx="332.3" cy="298.8" r="1.15"/><circle cx="371.3" cy="301.9" r="0.53"/><circle cx="359.1" cy="315.5" r="1.08"/><circle cx="350.6" cy="288.5" r="0.69"/><circle cx="364.3" cy="311.9" r="0.91"/><circle cx="372.5" cy="309.3" r="0.54"/><circle cx="347.5" cy="291.3" r="1.29"/><circle cx="348.7" cy="290.1" r="1.17"/><circle cx="374.3" cy="294.1" r="0.66"/><circle cx="343.7" cy="280.0" r="0.98"/><circle cx="367.7" cy="295.1" r="0.93"/><circle cx="361.0" cy="315.8" r="0.86"/><circle cx="370.5" cy="288.9" r="0.40"/><circle cx="344.6" cy="292.4" r="0.46"/><circle cx="347.1" cy="288.9" r="0.85"/><circle cx="365.6" cy="287.4" r="0.67"/><circle cx="339.4" cy="299.9" r="0.86"/><circle cx="363.2" cy="305.4" r="0.44"/><circle cx="356.6" cy="279.4" r="0.79"/><circle cx="330.9" cy="294.1" r="0.54"/><circle cx="362.0" cy="296.0" r="1.09"/><circle cx="332.1" cy="289.0" r="0.84"/><circle cx="351.1" cy="282.9" r="0.97"/><circle cx="354.9" cy="315.2" r="1.28"/><circle cx="365.3" cy="290.0" r="0.98"/><circle cx="350.9" cy="279.6" r="0.95"/><circle cx="341.0" cy="288.2" r="0.97"/><circle cx="358.6" cy="317.6" r="0.70"/><circle cx="366.2" cy="299.5" r="0.59"/><circle cx="367.3" cy="300.1" r="1.10"/><circle cx="371.6" cy="296.4" r="1.29"/><circle cx="364.0" cy="309.5" r="0.90"/><circle cx="366.1" cy="283.5" r="0.53"/><circle cx="367.4" cy="317.2" r="1.01"/><circle cx="347.4" cy="280.0" r="0.73"/><circle cx="369.4" cy="306.6" r="0.53"/><circle cx="339.7" cy="295.7" r="0.44"/><circle cx="362.4" cy="299.9" r="1.24"/><circle cx="364.9" cy="297.4" r="0.56"/><circle cx="365.0" cy="285.9" r="0.52"/><circle cx="335.6" cy="300.9" r="0.46"/><circle cx="372.0" cy="299.9" r="0.88"/><circle cx="359.8" cy="296.2" r="0.94"/><circle cx="350.2" cy="281.4" r="0.50"/><circle cx="354.9" cy="296.3" r="0.88"/><circle cx="360.8" cy="311.3" r="0.94"/><circle cx="354.9" cy="294.3" r="0.67"/><circle cx="359.9" cy="280.2" r="1.12"/><circle cx="343.8" cy="294.0" r="0.77"/><circle cx="364.8" cy="287.2" r="0.90"/><circle cx="331.8" cy="311.1" r="0.60"/><circle cx="366.5" cy="289.7" r="0.85"/><circle cx="348.3" cy="279.1" r="0.81"/><circle cx="334.0" cy="293.2" r="0.45"/><circle cx="350.0" cy="295.3" r="0.78"/><circle cx="355.9" cy="283.4" r="1.21"/><circle cx="363.2" cy="314.5" r="0.79"/><circle cx="375.8" cy="303.7" r="0.61"/><circle cx="362.5" cy="318.8" r="0.64"/><circle cx="351.5" cy="293.6" r="0.58"/><circle cx="358.9" cy="300.6" r="1.16"/><circle cx="336.8" cy="302.3" r="0.87"/><circle cx="360.8" cy="317.5" r="0.84"/><circle cx="344.7" cy="293.2" r="0.63"/><circle cx="343.0" cy="307.0" r="0.83"/><circle cx="360.0" cy="306.2" r="1.03"/><circle cx="342.0" cy="314.5" r="0.42"/><circle cx="343.7" cy="302.7" r="1.22"/><circle cx="329.6" cy="293.6" r="1.11"/><circle cx="355.2" cy="305.1" r="1.29"/><circle cx="365.5" cy="286.7" r="0.45"/><circle cx="354.0" cy="315.1" r="0.70"/><circle cx="370.0" cy="287.0" r="0.44"/><circle cx="340.2" cy="281.5" r="1.03"/><circle cx="361.7" cy="297.4" r="1.17"/><circle cx="347.9" cy="285.6" r="0.62"/><circle cx="340.7" cy="290.9" r="1.03"/><circle cx="355.0" cy="302.2" r="0.83"/><circle cx="350.7" cy="294.2" r="0.89"/><circle cx="359.9" cy="282.8" r="0.88"/><circle cx="348.5" cy="284.9" r="1.05"/><circle cx="354.7" cy="306.3" r="0.87"/><circle cx="344.4" cy="301.7" r="0.91"/><circle cx="330.9" cy="291.0" r="1.05"/><circle cx="367.2" cy="296.8" r="0.57"/><circle cx="347.7" cy="316.4" r="0.98"/><circle cx="344.3" cy="292.4" r="0.90"/><circle cx="349.6" cy="279.6" r="1.21"/><circle cx="332.3" cy="309.9" r="0.69"/><circle cx="344.9" cy="294.1" r="0.43"/><circle cx="334.6" cy="293.3" r="0.53"/><circle cx="343.2" cy="309.5" r="0.44"/><circle cx="367.0" cy="312.0" r="0.55"/><circle cx="353.7" cy="288.1" r="1.27"/><circle cx="328.3" cy="298.8" r="0.51"/><circle cx="366.6" cy="286.7" r="0.45"/><circle cx="357.3" cy="290.8" r="1.23"/><circle cx="356.3" cy="302.4" r="0.43"/><circle cx="353.1" cy="286.6" r="0.81"/><circle cx="366.9" cy="291.4" r="0.74"/><circle cx="338.4" cy="283.4" r="0.79"/><circle cx="346.5" cy="288.3" r="1.11"/><circle cx="362.0" cy="305.1" r="0.64"/><circle cx="365.9" cy="301.7" r="0.98"/><circle cx="371.3" cy="294.7" r="0.92"/><circle cx="343.2" cy="293.9" r="1.05"/><circle cx="341.3" cy="306.4" r="1.17"/><circle cx="341.1" cy="314.0" r="1.03"/><circle cx="370.7" cy="303.5" r="1.29"/><circle cx="364.3" cy="317.6" r="1.24"/><circle cx="374.2" cy="308.5" r="1.21"/><circle cx="338.7" cy="312.7" r="0.49"/><circle cx="361.7" cy="280.3" r="1.10"/><circle cx="359.7" cy="281.8" r="0.44"/><circle cx="350.1" cy="306.4" r="0.77"/><circle cx="371.7" cy="312.5" r="0.74"/><circle cx="361.4" cy="307.7" r="0.68"/><circle cx="331.1" cy="297.4" r="0.50"/><circle cx="332.4" cy="289.7" r="0.87"/><circle cx="343.5" cy="315.9" r="0.87"/><circle cx="348.5" cy="282.0" r="0.51"/><circle cx="353.0" cy="296.5" r="0.43"/><circle cx="372.1" cy="307.2" r="0.48"/><circle cx="364.8" cy="300.1" r="0.86"/><circle cx="344.6" cy="281.4" r="1.12"/><circle cx="358.5" cy="284.3" r="1.15"/><circle cx="360.9" cy="306.3" r="0.69"/><circle cx="346.9" cy="319.6" r="0.56"/><circle cx="376.0" cy="301.1" r="0.71"/><circle cx="358.3" cy="308.7" r="0.91"/><circle cx="369.7" cy="315.3" r="0.67"/><circle cx="339.2" cy="299.3" r="0.44"/><circle cx="354.4" cy="284.8" r="1.07"/><circle cx="362.7" cy="297.5" r="0.82"/><circle cx="374.5" cy="307.8" r="0.96"/><circle cx="350.1" cy="317.7" r="0.45"/><circle cx="353.3" cy="309.3" r="1.09"/><circle cx="356.4" cy="314.6" r="0.57"/><circle cx="355.6" cy="311.9" r="0.53"/><circle cx="339.7" cy="306.6" r="1.12"/><circle cx="340.8" cy="301.5" r="0.83"/><circle cx="340.5" cy="312.7" r="1.25"/><circle cx="350.8" cy="298.3" r="0.83"/><circle cx="365.3" cy="296.5" r="1.06"/><circle cx="346.1" cy="292.9" r="1.19"/><circle cx="348.0" cy="319.2" r="0.47"/><circle cx="364.5" cy="297.3" r="0.61"/><circle cx="341.2" cy="283.3" r="0.80"/><circle cx="360.5" cy="302.4" r="0.77"/><circle cx="341.5" cy="318.3" r="1.12"/><circle cx="356.0" cy="295.3" r="0.49"/><circle cx="345.8" cy="283.5" r="0.92"/><circle cx="375.4" cy="297.8" r="0.42"/><circle cx="346.6" cy="311.4" r="0.62"/><circle cx="352.2" cy="319.3" r="0.60"/><circle cx="349.8" cy="307.2" r="0.57"/><circle cx="364.2" cy="299.2" r="0.62"/><circle cx="357.5" cy="309.4" r="0.94"/><circle cx="360.1" cy="309.8" r="0.92"/><circle cx="346.0" cy="302.2" r="0.55"/><circle cx="348.9" cy="297.1" r="0.99"/><circle cx="371.7" cy="302.5" r="0.40"/><circle cx="363.3" cy="298.2" r="0.63"/><circle cx="365.9" cy="304.5" r="0.46"/><circle cx="367.9" cy="310.2" r="0.68"/><circle cx="352.0" cy="290.7" r="0.45"/><circle cx="348.3" cy="299.0" r="0.59"/><circle cx="336.2" cy="287.2" r="0.84"/><circle cx="368.5" cy="290.1" r="1.08"/><circle cx="371.3" cy="299.5" r="0.67"/><circle cx="357.3" cy="288.4" r="0.47"/><circle cx="341.0" cy="312.8" r="0.80"/><circle cx="353.4" cy="315.0" r="0.82"/><circle cx="372.6" cy="309.8" r="1.05"/><circle cx="368.7" cy="313.8" r="0.65"/><circle cx="356.8" cy="283.7" r="1.28"/><circle cx="328.6" cy="301.0" r="1.27"/><circle cx="339.2" cy="291.8" r="0.79"/><circle cx="334.2" cy="308.9" r="0.76"/><circle cx="357.1" cy="280.6" r="0.63"/><circle cx="338.5" cy="289.1" r="0.47"/><circle cx="357.2" cy="316.4" r="0.65"/><circle cx="331.7" cy="289.8" r="1.03"/><circle cx="349.2" cy="307.5" r="0.85"/><circle cx="374.7" cy="296.3" r="0.98"/><circle cx="372.4" cy="308.4" r="0.84"/><circle cx="345.3" cy="314.1" r="1.08"/><circle cx="369.6" cy="307.0" r="0.90"/><circle cx="333.9" cy="309.7" r="0.78"/><circle cx="334.1" cy="312.9" r="0.56"/><circle cx="340.3" cy="297.6" r="0.85"/><circle cx="362.7" cy="305.5" r="0.85"/><circle cx="356.6" cy="314.7" r="0.46"/><circle cx="333.9" cy="311.1" r="1.28"/><circle cx="338.1" cy="285.1" r="0.74"/><circle cx="367.0" cy="301.6" r="1.11"/><circle cx="374.8" cy="303.0" r="0.69"/><circle cx="363.6" cy="303.0" r="0.85"/><circle cx="371.0" cy="289.7" r="0.83"/><circle cx="330.2" cy="306.9" r="0.91"/><circle cx="339.5" cy="292.4" r="0.59"/><circle cx="373.1" cy="305.2" r="0.73"/><circle cx="365.0" cy="306.4" r="0.84"/><circle cx="355.7" cy="292.9" r="0.52"/><circle cx="359.7" cy="300.0" r="1.06"/><circle cx="362.5" cy="297.3" r="0.57"/><circle cx="338.7" cy="305.0" r="0.60"/><circle cx="357.7" cy="296.3" r="1.15"/><circle cx="341.4" cy="282.2" r="0.48"/><circle cx="349.2" cy="295.3" r="0.56"/><circle cx="353.3" cy="300.7" r="1.26"/><circle cx="352.6" cy="287.0" r="0.73"/><circle cx="349.9" cy="300.2" r="1.28"/><circle cx="347.2" cy="306.9" r="0.58"/><circle cx="338.8" cy="313.5" r="0.75"/><circle cx="353.9" cy="283.1" r="0.83"/><circle cx="345.1" cy="305.4" r="0.73"/><circle cx="369.8" cy="299.9" r="1.25"/><circle cx="347.7" cy="295.8" r="0.51"/><circle cx="338.8" cy="288.7" r="0.95"/><circle cx="362.9" cy="286.1" r="0.49"/><circle cx="360.2" cy="300.0" r="0.62"/><circle cx="350.4" cy="303.7" r="0.49"/><circle cx="372.4" cy="294.7" r="1.01"/><circle cx="369.0" cy="292.9" r="0.85"/><circle cx="343.8" cy="295.2" r="1.06"/><circle cx="367.1" cy="303.1" r="0.74"/><circle cx="349.9" cy="309.5" r="0.51"/><circle cx="333.9" cy="303.0" r="0.97"/><circle cx="372.5" cy="298.2" r="0.57"/><circle cx="356.1" cy="282.0" r="0.65"/><circle cx="345.5" cy="292.7" r="0.46"/><circle cx="343.8" cy="292.6" r="0.72"/><circle cx="357.7" cy="292.2" r="0.96"/><circle cx="350.8" cy="315.3" r="0.42"/><circle cx="338.2" cy="284.4" r="0.66"/><circle cx="359.4" cy="318.7" r="0.55"/><circle cx="329.6" cy="305.1" r="0.49"/><circle cx="356.1" cy="317.7" r="0.57"/><circle cx="360.6" cy="288.2" r="1.03"/><circle cx="331.6" cy="308.6" r="0.60"/><circle cx="363.7" cy="311.4" r="0.52"/><circle cx="348.5" cy="295.2" r="0.55"/><circle cx="334.9" cy="308.1" r="0.65"/><circle cx="337.7" cy="284.8" r="1.02"/><circle cx="365.0" cy="288.6" r="0.54"/><circle cx="363.5" cy="309.8" r="0.76"/><circle cx="363.4" cy="282.5" r="0.60"/><circle cx="350.3" cy="294.9" r="1.04"/><circle cx="340.9" cy="295.8" r="1.22"/><circle cx="336.2" cy="295.8" r="0.46"/><circle cx="357.3" cy="304.0" r="0.67"/><circle cx="360.1" cy="281.0" r="0.80"/><circle cx="370.7" cy="292.4" r="1.03"/><circle cx="347.4" cy="306.8" r="0.58"/><circle cx="358.1" cy="286.2" r="1.25"/><circle cx="360.1" cy="296.6" r="0.41"/><circle cx="352.9" cy="291.2" r="0.90"/><circle cx="358.3" cy="304.2" r="1.01"/><circle cx="362.6" cy="307.4" r="1.22"/><circle cx="364.0" cy="313.3" r="1.29"/><circle cx="342.6" cy="282.2" r="1.13"/><circle cx="365.8" cy="297.7" r="0.83"/><circle cx="367.2" cy="312.2" r="0.55"/><circle cx="350.5" cy="290.2" r="0.77"/><circle cx="368.3" cy="291.8" r="0.60"/><circle cx="345.0" cy="301.9" r="0.93"/><circle cx="370.4" cy="312.8" r="0.78"/><circle cx="348.9" cy="283.1" r="0.70"/><circle cx="337.2" cy="286.6" r="0.68"/><circle cx="360.9" cy="309.3" r="1.02"/><circle cx="366.1" cy="296.8" r="1.30"/><circle cx="370.4" cy="292.1" r="0.82"/><circle cx="345.4" cy="309.9" r="1.27"/><circle cx="334.3" cy="291.6" r="0.92"/><circle cx="353.5" cy="291.1" r="0.86"/><circle cx="365.3" cy="314.6" r="0.79"/><circle cx="336.2" cy="299.9" r="0.65"/><circle cx="351.2" cy="293.9" r="0.78"/><circle cx="357.9" cy="281.5" r="1.15"/><circle cx="339.8" cy="286.3" r="1.17"/><circle cx="352.8" cy="307.9" r="0.41"/><circle cx="354.5" cy="289.8" r="1.14"/><circle cx="339.8" cy="317.0" r="0.60"/><circle cx="353.1" cy="292.0" r="1.00"/><circle cx="369.1" cy="287.0" r="0.74"/><circle cx="338.9" cy="294.6" r="0.56"/><circle cx="338.4" cy="287.1" r="0.80"/><circle cx="353.8" cy="314.8" r="0.76"/><circle cx="370.8" cy="306.1" r="0.61"/><circle cx="351.4" cy="283.0" r="1.25"/><circle cx="354.8" cy="301.4" r="0.98"/><circle cx="332.8" cy="299.9" r="1.27"/><circle cx="368.5" cy="285.7" r="0.96"/><circle cx="344.6" cy="314.6" r="1.20"/><circle cx="338.6" cy="305.0" r="0.92"/><circle cx="338.6" cy="300.7" r="0.51"/><circle cx="345.8" cy="297.6" r="0.41"/><circle cx="354.9" cy="309.3" r="0.45"/><circle cx="352.7" cy="307.5" r="1.04"/><circle cx="346.9" cy="315.4" r="0.46"/><circle cx="355.9" cy="303.7" r="0.63"/><circle cx="328.9" cy="297.0" r="0.44"/><circle cx="369.1" cy="301.6" r="0.47"/><circle cx="362.8" cy="297.1" r="0.64"/><circle cx="341.2" cy="294.1" r="0.80"/><circle cx="368.9" cy="295.5" r="1.02"/></g>
<text x="408.75" y="213" font-size="11" text-anchor="middle">2</text>
<rect x="382" y="218.5" width="54.25" height="107.25" fill="#f6f6f9" stroke="#6f98d2" stroke-width="1.1"/>
<ellipse cx="409.12" cy="245.3" rx="26.32" ry="24.3" fill="#eff0f5" stroke="#d3d5e2" stroke-width="2"/>
<ellipse cx="409.12" cy="245.9" rx="23.93" ry="21.9" fill="none" stroke="#e4e5ee" stroke-width="1"/>
<g fill="#4039a8" filter="url(#soft)"><circle cx="421.8" cy="251.7" r="0.77"/><circle cx="394.7" cy="253.0" r="1.27"/><circle cx="405.6" cy="260.9" r="0.43"/><circle cx="410.5" cy="232.1" r="0.84"/><circle cx="414.5" cy="261.0" r="0.87"/><circle cx="427.0" cy="237.6" r="0.52"/><circle cx="407.4" cy="254.8" r="1.04"/><circle cx="397.3" cy="244.1" r="1.18"/><circle cx="397.7" cy="231.1" r="1.22"/><circle cx="395.6" cy="258.2" r="0.58"/><circle cx="416.4" cy="231.7" r="0.66"/><circle cx="396.7" cy="238.6" r="0.45"/><circle cx="394.4" cy="240.2" r="0.87"/><circle cx="412.6" cy="238.6" r="0.54"/><circle cx="411.8" cy="238.6" r="0.71"/><circle cx="432.0" cy="249.2" r="0.41"/><circle cx="403.8" cy="266.5" r="0.49"/><circle cx="426.6" cy="253.1" r="1.26"/><circle cx="399.7" cy="252.1" r="1.25"/><circle cx="391.3" cy="231.4" r="0.90"/><circle cx="416.3" cy="243.8" r="0.94"/><circle cx="412.3" cy="230.1" r="0.41"/><circle cx="388.1" cy="252.0" r="1.26"/><circle cx="408.9" cy="223.5" r="0.58"/><circle cx="417.9" cy="258.2" r="0.59"/><circle cx="407.6" cy="224.9" r="0.89"/><circle cx="421.4" cy="245.3" r="1.11"/><circle cx="396.3" cy="252.6" r="0.82"/><circle cx="414.1" cy="226.5" r="0.81"/><circle cx="414.9" cy="233.6" r="0.90"/><circle cx="386.1" cy="241.7" r="1.25"/><circle cx="416.2" cy="245.6" r="1.18"/><circle cx="418.5" cy="245.7" r="0.74"/><circle cx="427.1" cy="248.1" r="0.84"/><circle cx="402.9" cy="229.9" r="0.57"/><circle cx="414.0" cy="246.9" r="1.10"/><circle cx="406.7" cy="240.2" r="0.90"/><circle cx="415.6" cy="236.5" r="0.84"/><circle cx="418.7" cy="261.9" r="1.13"/><circle cx="402.7" cy="241.7" r="0.82"/><circle cx="387.6" cy="249.3" r="0.90"/><circle cx="422.9" cy="238.3" r="1.28"/><circle cx="420.7" cy="248.8" r="0.60"/><circle cx="430.0" cy="253.4" r="0.97"/><circle cx="394.3" cy="231.9" r="0.58"/><circle cx="429.2" cy="242.8" r="1.03"/><circle cx="418.4" cy="259.1" r="0.66"/><circle cx="404.1" cy="224.1" r="0.67"/><circle cx="422.0" cy="241.1" r="0.53"/><circle cx="412.6" cy="239.4" r="1.01"/><circle cx="391.1" cy="235.8" r="0.90"/><circle cx="400.7" cy="253.9" r="0.63"/><circle cx="421.2" cy="252.5" r="0.77"/><circle cx="418.9" cy="238.6" r="1.23"/><circle cx="420.7" cy="235.9" r="1.17"/><circle cx="415.2" cy="261.3" r="1.04"/><circle cx="429.1" cy="247.2" r="0.71"/><circle cx="420.4" cy="264.1" r="0.87"/><circle cx="419.5" cy="249.9" r="0.70"/><circle cx="394.6" cy="250.7" r="0.55"/><circle cx="406.6" cy="257.5" r="0.74"/><circle cx="405.9" cy="265.8" r="0.93"/><circle cx="411.1" cy="231.8" r="1.07"/><circle cx="402.8" cy="254.8" r="1.26"/><circle cx="425.0" cy="233.1" r="1.24"/><circle cx="417.1" cy="230.9" r="0.44"/><circle cx="397.0" cy="249.0" r="0.84"/><circle cx="409.0" cy="258.4" r="1.13"/><circle cx="418.6" cy="239.9" r="0.87"/><circle cx="394.8" cy="234.8" r="0.42"/><circle cx="402.6" cy="263.0" r="1.05"/><circle cx="388.0" cy="238.3" r="0.79"/><circle cx="410.2" cy="245.7" r="1.15"/><circle cx="394.5" cy="251.5" r="0.98"/><circle cx="390.8" cy="250.4" r="1.17"/><circle cx="411.4" cy="250.5" r="1.00"/><circle cx="399.4" cy="244.6" r="0.52"/><circle cx="401.1" cy="239.4" r="1.26"/><circle cx="395.1" cy="244.8" r="0.45"/><circle cx="388.0" cy="246.0" r="0.93"/><circle cx="410.3" cy="266.8" r="0.83"/><circle cx="415.2" cy="262.0" r="0.52"/><circle cx="422.0" cy="229.2" r="1.19"/><circle cx="421.6" cy="257.6" r="1.17"/><circle cx="405.2" cy="226.2" r="1.22"/><circle cx="393.6" cy="233.5" r="1.05"/><circle cx="402.0" cy="246.9" r="1.15"/><circle cx="388.5" cy="234.5" r="0.74"/><circle cx="419.1" cy="236.1" r="0.78"/><circle cx="395.0" cy="249.2" r="0.78"/><circle cx="411.9" cy="264.9" r="0.62"/><circle cx="396.4" cy="257.4" r="0.53"/><circle cx="409.6" cy="241.3" r="0.55"/><circle cx="401.0" cy="258.4" r="0.97"/><circle cx="397.1" cy="249.3" r="1.30"/><circle cx="392.6" cy="255.4" r="0.52"/><circle cx="397.5" cy="228.6" r="0.92"/><circle cx="416.6" cy="254.6" r="0.93"/><circle cx="414.0" cy="231.6" r="0.64"/><circle cx="403.5" cy="261.1" r="0.79"/><circle cx="414.4" cy="240.4" r="0.53"/><circle cx="407.9" cy="236.9" r="0.83"/><circle cx="414.8" cy="228.4" r="0.82"/><circle cx="405.4" cy="263.3" r="1.24"/><circle cx="398.1" cy="239.2" r="0.81"/><circle cx="400.4" cy="264.9" r="1.18"/><circle cx="393.7" cy="259.8" r="1.16"/><circle cx="426.8" cy="241.6" r="0.41"/><circle cx="418.6" cy="231.5" r="1.05"/><circle cx="390.5" cy="248.3" r="0.48"/><circle cx="413.5" cy="233.5" r="0.45"/><circle cx="425.9" cy="256.4" r="0.98"/><circle cx="401.8" cy="241.0" r="0.91"/><circle cx="395.8" cy="253.4" r="0.50"/><circle cx="392.8" cy="236.6" r="0.86"/><circle cx="413.7" cy="254.6" r="0.92"/><circle cx="405.7" cy="261.6" r="0.88"/><circle cx="408.5" cy="232.9" r="1.07"/><circle cx="425.9" cy="245.9" r="1.02"/><circle cx="403.8" cy="236.5" r="1.24"/><circle cx="404.2" cy="255.0" r="0.41"/><circle cx="415.9" cy="256.1" r="0.95"/><circle cx="392.6" cy="244.9" r="0.86"/><circle cx="412.5" cy="266.7" r="0.80"/><circle cx="418.9" cy="252.2" r="0.49"/><circle cx="431.6" cy="241.6" r="1.26"/><circle cx="427.1" cy="236.5" r="0.94"/><circle cx="416.6" cy="254.6" r="0.64"/><circle cx="394.2" cy="232.2" r="0.73"/><circle cx="431.2" cy="241.8" r="0.99"/><circle cx="404.0" cy="265.0" r="0.73"/><circle cx="422.1" cy="257.5" r="1.28"/><circle cx="389.8" cy="239.1" r="1.19"/><circle cx="401.1" cy="231.5" r="1.10"/><circle cx="395.0" cy="252.5" r="1.13"/><circle cx="422.2" cy="254.8" r="0.66"/><circle cx="412.8" cy="249.6" r="0.65"/><circle cx="422.3" cy="262.6" r="1.23"/><circle cx="409.8" cy="254.3" r="1.27"/><circle cx="411.8" cy="241.7" r="0.68"/><circle cx="433.0" cy="247.3" r="1.12"/><circle cx="403.2" cy="247.0" r="0.95"/><circle cx="392.6" cy="243.3" r="0.71"/><circle cx="387.8" cy="255.3" r="1.09"/><circle cx="430.9" cy="252.8" r="1.12"/><circle cx="417.0" cy="232.8" r="0.69"/><circle cx="394.4" cy="245.9" r="1.12"/><circle cx="411.9" cy="224.5" r="0.47"/><circle cx="417.3" cy="250.3" r="0.93"/><circle cx="398.1" cy="232.1" r="1.03"/><circle cx="397.0" cy="242.4" r="1.06"/><circle cx="389.8" cy="257.4" r="0.61"/><circle cx="426.1" cy="257.9" r="1.06"/><circle cx="424.2" cy="231.4" r="1.13"/><circle cx="390.6" cy="231.8" r="1.16"/><circle cx="403.3" cy="257.5" r="0.61"/><circle cx="431.0" cy="245.5" r="1.09"/><circle cx="403.4" cy="229.7" r="0.62"/><circle cx="411.7" cy="246.2" r="0.45"/><circle cx="409.1" cy="239.2" r="0.42"/><circle cx="387.7" cy="239.2" r="1.29"/><circle cx="420.9" cy="236.9" r="0.94"/><circle cx="431.4" cy="244.7" r="0.45"/><circle cx="424.4" cy="253.4" r="1.15"/><circle cx="422.3" cy="233.9" r="0.43"/><circle cx="396.3" cy="242.1" r="0.66"/><circle cx="407.8" cy="235.2" r="0.99"/><circle cx="397.3" cy="243.9" r="0.49"/><circle cx="413.5" cy="264.9" r="1.13"/><circle cx="401.7" cy="260.9" r="1.15"/><circle cx="406.5" cy="262.5" r="0.51"/><circle cx="400.8" cy="231.2" r="1.06"/><circle cx="400.6" cy="228.4" r="0.71"/><circle cx="400.9" cy="250.0" r="0.53"/><circle cx="430.6" cy="248.4" r="0.65"/><circle cx="406.6" cy="263.4" r="0.43"/><circle cx="399.8" cy="232.7" r="0.94"/><circle cx="431.6" cy="246.4" r="0.89"/><circle cx="387.4" cy="253.5" r="0.50"/><circle cx="394.6" cy="250.9" r="0.90"/><circle cx="391.6" cy="233.5" r="0.47"/><circle cx="406.3" cy="255.5" r="1.23"/><circle cx="394.1" cy="257.1" r="1.16"/><circle cx="399.6" cy="225.9" r="0.69"/><circle cx="411.6" cy="263.5" r="0.44"/><circle cx="400.5" cy="231.0" r="0.53"/><circle cx="401.2" cy="257.7" r="0.70"/><circle cx="431.6" cy="242.2" r="0.61"/><circle cx="418.0" cy="238.7" r="0.95"/><circle cx="398.9" cy="239.1" r="1.06"/><circle cx="419.9" cy="251.2" r="1.04"/><circle cx="399.6" cy="233.4" r="0.50"/><circle cx="399.6" cy="248.1" r="0.51"/><circle cx="387.3" cy="240.1" r="0.74"/><circle cx="404.7" cy="257.2" r="0.58"/><circle cx="419.3" cy="242.4" r="0.65"/><circle cx="431.8" cy="241.1" r="0.85"/><circle cx="419.3" cy="229.2" r="0.96"/><circle cx="405.1" cy="241.1" r="0.47"/><circle cx="418.3" cy="227.2" r="1.14"/><circle cx="415.1" cy="235.2" r="0.78"/><circle cx="411.4" cy="223.5" r="0.82"/><circle cx="395.9" cy="238.9" r="1.25"/><circle cx="387.7" cy="238.8" r="0.49"/><circle cx="424.3" cy="244.1" r="0.75"/><circle cx="421.5" cy="260.0" r="1.24"/><circle cx="408.7" cy="246.7" r="1.04"/><circle cx="399.2" cy="230.0" r="0.84"/><circle cx="417.8" cy="242.5" r="1.13"/><circle cx="429.2" cy="246.7" r="1.14"/><circle cx="431.6" cy="239.1" r="0.73"/><circle cx="400.4" cy="265.0" r="0.90"/><circle cx="421.7" cy="256.0" r="0.90"/><circle cx="398.4" cy="231.1" r="0.73"/><circle cx="397.5" cy="240.4" r="0.58"/><circle cx="418.9" cy="260.8" r="0.91"/><circle cx="408.6" cy="224.4" r="0.40"/><circle cx="393.6" cy="260.2" r="1.17"/><circle cx="405.3" cy="259.7" r="1.11"/><circle cx="427.0" cy="239.5" r="0.49"/><circle cx="407.4" cy="233.9" r="0.59"/><circle cx="423.3" cy="242.2" r="0.57"/><circle cx="407.7" cy="235.5" r="1.22"/><circle cx="416.8" cy="255.2" r="0.67"/><circle cx="417.1" cy="234.8" r="0.54"/><circle cx="423.2" cy="239.3" r="0.80"/><circle cx="398.2" cy="240.2" r="0.55"/><circle cx="416.8" cy="233.5" r="0.43"/><circle cx="404.6" cy="240.4" r="0.67"/><circle cx="426.6" cy="248.1" r="0.85"/><circle cx="391.9" cy="236.4" r="1.19"/><circle cx="392.6" cy="249.1" r="0.64"/><circle cx="395.7" cy="246.4" r="0.80"/><circle cx="400.4" cy="251.5" r="0.70"/><circle cx="430.6" cy="236.6" r="0.73"/><circle cx="409.3" cy="245.6" r="1.15"/><circle cx="407.2" cy="234.8" r="1.16"/><circle cx="399.1" cy="234.4" r="0.43"/><circle cx="407.1" cy="227.0" r="1.26"/><circle cx="416.7" cy="241.3" r="0.51"/><circle cx="385.7" cy="240.6" r="0.77"/><circle cx="398.1" cy="239.8" r="1.12"/><circle cx="404.0" cy="249.0" r="1.08"/><circle cx="393.7" cy="228.8" r="0.89"/><circle cx="387.6" cy="249.1" r="0.84"/><circle cx="415.3" cy="245.3" r="0.47"/><circle cx="410.3" cy="249.4" r="0.55"/><circle cx="400.1" cy="230.6" r="1.05"/><circle cx="404.2" cy="260.6" r="0.56"/><circle cx="402.0" cy="245.1" r="0.92"/><circle cx="397.7" cy="242.5" r="0.75"/><circle cx="418.2" cy="230.4" r="1.19"/><circle cx="400.6" cy="264.0" r="0.68"/><circle cx="415.9" cy="232.0" r="0.65"/><circle cx="410.2" cy="225.8" r="1.11"/><circle cx="416.0" cy="227.8" r="0.45"/><circle cx="403.8" cy="234.6" r="0.53"/><circle cx="408.3" cy="266.7" r="1.10"/><circle cx="401.3" cy="235.0" r="0.42"/><circle cx="421.2" cy="247.1" r="0.42"/><circle cx="417.4" cy="261.6" r="1.20"/><circle cx="414.6" cy="248.2" r="0.97"/><circle cx="385.6" cy="243.9" r="0.64"/><circle cx="416.4" cy="256.8" r="1.25"/><circle cx="407.2" cy="240.5" r="1.21"/><circle cx="423.1" cy="252.7" r="1.22"/><circle cx="424.4" cy="234.9" r="0.87"/><circle cx="418.3" cy="239.3" r="0.91"/><circle cx="406.5" cy="229.5" r="1.24"/><circle cx="410.5" cy="223.4" r="1.18"/><circle cx="396.2" cy="232.2" r="0.75"/><circle cx="410.8" cy="224.4" r="0.97"/><circle cx="399.3" cy="226.5" r="1.09"/><circle cx="388.4" cy="240.0" r="0.84"/><circle cx="410.1" cy="250.1" r="0.77"/><circle cx="414.4" cy="228.0" r="1.00"/><circle cx="429.9" cy="242.4" r="0.48"/><circle cx="401.9" cy="257.0" r="0.92"/><circle cx="396.6" cy="241.7" r="0.94"/><circle cx="401.0" cy="262.9" r="1.04"/><circle cx="413.6" cy="226.3" r="0.70"/><circle cx="403.0" cy="242.7" r="0.80"/><circle cx="418.5" cy="246.4" r="1.00"/><circle cx="410.9" cy="247.3" r="0.44"/><circle cx="401.1" cy="246.8" r="1.05"/><circle cx="391.5" cy="234.7" r="1.06"/><circle cx="402.3" cy="231.6" r="0.81"/><circle cx="414.5" cy="244.5" r="1.23"/><circle cx="416.6" cy="244.0" r="1.05"/><circle cx="424.9" cy="253.8" r="0.69"/><circle cx="401.7" cy="254.7" r="0.62"/><circle cx="407.2" cy="246.3" r="0.79"/><circle cx="422.6" cy="243.5" r="0.51"/><circle cx="406.5" cy="230.5" r="0.83"/><circle cx="394.1" cy="244.8" r="0.72"/><circle cx="414.6" cy="228.5" r="1.21"/><circle cx="390.8" cy="233.2" r="0.96"/><circle cx="410.0" cy="232.5" r="0.63"/><circle cx="388.9" cy="252.7" r="0.88"/><circle cx="415.4" cy="242.3" r="0.60"/><circle cx="395.9" cy="256.2" r="0.54"/><circle cx="419.1" cy="237.3" r="0.74"/><circle cx="391.7" cy="243.4" r="1.03"/><circle cx="410.7" cy="235.5" r="1.16"/><circle cx="410.3" cy="224.4" r="0.68"/><circle cx="410.7" cy="247.4" r="0.89"/><circle cx="419.0" cy="236.0" r="0.90"/><circle cx="410.2" cy="258.6" r="1.17"/><circle cx="411.5" cy="226.4" r="1.15"/><circle cx="397.7" cy="248.1" r="0.74"/><circle cx="431.8" cy="250.9" r="0.90"/><circle cx="423.1" cy="261.0" r="0.50"/><circle cx="414.6" cy="230.4" r="1.16"/><circle cx="387.0" cy="244.4" r="1.29"/><circle cx="418.6" cy="242.8" r="0.71"/><circle cx="395.3" cy="231.7" r="1.23"/><circle cx="400.9" cy="260.7" r="0.64"/><circle cx="394.5" cy="258.8" r="1.01"/><circle cx="398.0" cy="264.4" r="1.26"/><circle cx="412.6" cy="234.0" r="0.46"/><circle cx="399.2" cy="245.6" r="0.44"/><circle cx="421.2" cy="256.3" r="0.83"/><circle cx="409.6" cy="239.5" r="0.83"/><circle cx="406.7" cy="267.2" r="0.61"/><circle cx="420.4" cy="238.8" r="0.65"/><circle cx="402.4" cy="241.6" r="0.73"/><circle cx="397.0" cy="238.1" r="0.87"/><circle cx="399.8" cy="263.8" r="0.83"/><circle cx="394.3" cy="261.4" r="0.63"/><circle cx="391.3" cy="255.8" r="1.27"/><circle cx="415.9" cy="249.6" r="1.11"/><circle cx="385.6" cy="247.9" r="1.05"/><circle cx="420.8" cy="246.6" r="1.16"/><circle cx="385.7" cy="240.8" r="0.53"/><circle cx="427.3" cy="247.2" r="0.91"/><circle cx="423.1" cy="233.4" r="1.16"/></g>
<ellipse cx="409.12" cy="300.1" rx="26.32" ry="24.3" fill="#eff0f5" stroke="#d3d5e2" stroke-width="2"/>
<ellipse cx="409.12" cy="300.7" rx="23.93" ry="21.9" fill="none" stroke="#e4e5ee" stroke-width="1"/>
<g fill="#4039a8" filter="url(#soft)"><circle cx="413.9" cy="287.5" r="1.10"/><circle cx="413.7" cy="314.5" r="0.95"/><circle cx="419.9" cy="312.2" r="0.71"/><circle cx="390.8" cy="302.6" r="1.29"/><circle cx="401.9" cy="289.6" r="0.74"/><circle cx="394.8" cy="311.1" r="0.67"/><circle cx="388.5" cy="304.3" r="0.63"/><circle cx="425.4" cy="294.7" r="0.94"/><circle cx="408.2" cy="316.5" r="0.46"/><circle cx="415.6" cy="314.7" r="0.65"/><circle cx="405.9" cy="292.9" r="0.69"/><circle cx="395.4" cy="289.7" r="0.65"/><circle cx="422.5" cy="300.3" r="0.44"/><circle cx="393.9" cy="296.5" r="1.04"/><circle cx="415.9" cy="299.2" r="1.13"/><circle cx="418.4" cy="303.8" r="0.75"/><circle cx="425.3" cy="294.9" r="1.22"/><circle cx="406.3" cy="279.1" r="1.16"/><circle cx="408.4" cy="278.3" r="1.14"/><circle cx="423.3" cy="316.7" r="0.82"/><circle cx="393.1" cy="287.6" r="0.88"/><circle cx="417.4" cy="302.6" r="0.62"/><circle cx="410.1" cy="281.4" r="0.60"/><circle cx="411.7" cy="316.4" r="1.03"/><circle cx="415.9" cy="297.0" r="1.09"/><circle cx="404.7" cy="301.9" r="0.42"/><circle cx="405.4" cy="312.9" r="0.73"/><circle cx="404.0" cy="283.0" r="1.21"/><circle cx="397.2" cy="311.9" r="0.56"/><circle cx="399.7" cy="282.0" r="1.03"/><circle cx="429.2" cy="305.7" r="0.98"/><circle cx="390.5" cy="289.1" r="0.91"/><circle cx="415.9" cy="290.7" r="0.93"/><circle cx="405.6" cy="303.5" r="1.19"/><circle cx="407.5" cy="319.2" r="1.09"/><circle cx="405.4" cy="306.1" r="1.02"/><circle cx="397.3" cy="285.6" r="0.69"/><circle cx="411.1" cy="280.3" r="0.72"/><circle cx="406.8" cy="303.1" r="0.53"/><circle cx="406.8" cy="320.4" r="1.15"/><circle cx="426.5" cy="313.8" r="0.74"/><circle cx="401.6" cy="318.3" r="0.67"/><circle cx="397.8" cy="306.4" r="0.85"/><circle cx="406.1" cy="296.8" r="1.04"/><circle cx="419.8" cy="297.9" r="1.25"/><circle cx="398.0" cy="290.3" r="0.75"/><circle cx="385.2" cy="300.3" r="0.83"/><circle cx="397.9" cy="297.9" r="0.83"/><circle cx="413.0" cy="302.1" r="0.71"/><circle cx="402.6" cy="316.3" r="0.46"/><circle cx="393.4" cy="297.2" r="1.29"/><circle cx="421.7" cy="300.5" r="0.52"/><circle cx="427.9" cy="303.8" r="1.01"/><circle cx="390.3" cy="305.1" r="0.44"/><circle cx="397.5" cy="303.2" r="1.29"/><circle cx="397.5" cy="301.8" r="1.00"/><circle cx="405.2" cy="293.0" r="0.91"/><circle cx="423.9" cy="287.7" r="0.43"/><circle cx="406.7" cy="320.1" r="1.17"/><circle cx="388.8" cy="310.1" r="1.21"/><circle cx="385.8" cy="298.1" r="1.25"/><circle cx="428.7" cy="291.3" r="1.26"/><circle cx="424.1" cy="296.6" r="0.56"/><circle cx="391.4" cy="293.5" r="0.48"/><circle cx="409.3" cy="305.0" r="1.28"/><circle cx="414.3" cy="284.9" r="0.54"/><circle cx="413.3" cy="308.6" r="1.09"/><circle cx="402.7" cy="284.0" r="0.41"/><circle cx="423.2" cy="310.2" r="0.48"/><circle cx="412.7" cy="280.3" r="0.81"/><circle cx="413.1" cy="316.1" r="0.85"/><circle cx="386.1" cy="299.4" r="1.29"/><circle cx="415.8" cy="308.1" r="1.10"/><circle cx="418.9" cy="310.7" r="0.71"/><circle cx="401.5" cy="316.3" r="0.63"/><circle cx="410.2" cy="288.4" r="0.98"/><circle cx="407.5" cy="317.7" r="0.69"/><circle cx="404.2" cy="282.8" r="0.68"/><circle cx="429.8" cy="310.9" r="0.94"/><circle cx="420.4" cy="316.3" r="0.84"/><circle cx="426.9" cy="314.4" r="1.00"/><circle cx="410.1" cy="316.1" r="0.45"/><circle cx="397.7" cy="310.2" r="0.96"/><circle cx="401.9" cy="282.9" r="1.01"/><circle cx="390.2" cy="312.4" r="1.00"/><circle cx="387.8" cy="291.6" r="1.17"/><circle cx="406.8" cy="309.3" r="0.95"/><circle cx="400.1" cy="305.3" r="0.89"/><circle cx="424.6" cy="315.8" r="0.71"/><circle cx="393.9" cy="303.6" r="0.51"/><circle cx="424.1" cy="300.2" r="0.54"/><circle cx="413.5" cy="283.4" r="0.85"/><circle cx="398.0" cy="302.5" r="1.14"/><circle cx="432.0" cy="298.3" r="0.64"/><circle cx="409.3" cy="311.2" r="1.25"/><circle cx="417.7" cy="314.9" r="0.75"/><circle cx="387.8" cy="306.3" r="0.74"/><circle cx="392.2" cy="289.6" r="0.71"/><circle cx="392.0" cy="295.0" r="0.93"/><circle cx="401.6" cy="291.9" r="0.86"/><circle cx="404.7" cy="282.0" r="0.94"/><circle cx="422.2" cy="281.9" r="0.95"/><circle cx="406.6" cy="303.3" r="0.83"/><circle cx="421.4" cy="297.4" r="1.11"/><circle cx="391.9" cy="311.3" r="0.91"/><circle cx="391.1" cy="299.5" r="0.87"/><circle cx="424.0" cy="313.0" r="0.62"/><circle cx="401.9" cy="279.8" r="1.14"/><circle cx="403.6" cy="302.1" r="0.44"/><circle cx="406.1" cy="303.5" r="1.20"/><circle cx="394.0" cy="307.6" r="0.93"/><circle cx="405.6" cy="319.4" r="1.24"/><circle cx="424.4" cy="303.2" r="1.14"/><circle cx="388.4" cy="293.4" r="1.07"/><circle cx="428.4" cy="308.7" r="0.60"/><circle cx="401.5" cy="283.1" r="0.68"/><circle cx="419.5" cy="310.9" r="0.64"/><circle cx="392.5" cy="303.0" r="0.67"/><circle cx="426.4" cy="292.7" r="1.10"/><circle cx="408.5" cy="310.2" r="1.07"/><circle cx="411.7" cy="304.7" r="1.22"/><circle cx="411.2" cy="285.0" r="0.64"/><circle cx="412.2" cy="285.4" r="1.11"/><circle cx="411.9" cy="278.3" r="1.17"/><circle cx="428.4" cy="309.4" r="1.14"/><circle cx="418.7" cy="310.4" r="1.17"/><circle cx="421.0" cy="290.9" r="1.10"/><circle cx="396.0" cy="318.4" r="0.49"/><circle cx="395.1" cy="297.2" r="0.94"/><circle cx="389.3" cy="299.5" r="0.92"/><circle cx="430.5" cy="298.9" r="1.14"/><circle cx="399.0" cy="286.1" r="0.61"/><circle cx="428.9" cy="301.7" r="0.40"/><circle cx="423.8" cy="300.8" r="1.14"/><circle cx="385.9" cy="298.4" r="0.62"/><circle cx="407.0" cy="285.2" r="1.28"/><circle cx="424.3" cy="315.5" r="1.13"/><circle cx="427.5" cy="305.2" r="1.28"/><circle cx="414.0" cy="285.4" r="1.22"/><circle cx="428.8" cy="294.6" r="1.26"/><circle cx="398.3" cy="312.0" r="0.60"/><circle cx="404.9" cy="310.6" r="1.26"/><circle cx="386.3" cy="299.3" r="0.61"/><circle cx="404.4" cy="313.7" r="0.86"/><circle cx="399.3" cy="312.8" r="0.70"/><circle cx="410.4" cy="285.4" r="1.13"/><circle cx="409.3" cy="304.1" r="1.24"/><circle cx="395.4" cy="285.6" r="0.77"/><circle cx="401.0" cy="310.0" r="1.15"/><circle cx="405.4" cy="294.3" r="1.06"/><circle cx="391.9" cy="306.2" r="1.09"/><circle cx="431.9" cy="305.4" r="0.70"/><circle cx="395.5" cy="306.3" r="0.69"/><circle cx="390.1" cy="289.3" r="0.90"/><circle cx="409.5" cy="285.0" r="1.17"/><circle cx="405.1" cy="285.6" r="1.28"/><circle cx="400.3" cy="309.9" r="0.74"/><circle cx="425.2" cy="292.6" r="1.12"/><circle cx="419.8" cy="318.7" r="0.57"/><circle cx="402.2" cy="281.7" r="0.43"/><circle cx="402.5" cy="286.8" r="0.69"/><circle cx="400.5" cy="311.4" r="0.51"/><circle cx="411.4" cy="299.7" r="0.94"/><circle cx="426.2" cy="313.9" r="0.54"/><circle cx="408.4" cy="301.6" r="0.94"/><circle cx="414.5" cy="301.2" r="1.13"/><circle cx="416.6" cy="297.9" r="1.23"/><circle cx="407.9" cy="283.5" r="0.87"/><circle cx="427.3" cy="310.2" r="0.62"/><circle cx="398.2" cy="299.4" r="0.61"/><circle cx="387.9" cy="297.5" r="1.07"/><circle cx="414.0" cy="308.0" r="0.70"/><circle cx="422.5" cy="283.0" r="1.10"/><circle cx="423.8" cy="285.3" r="1.06"/><circle cx="404.9" cy="306.9" r="0.97"/><circle cx="427.8" cy="300.8" r="0.99"/><circle cx="401.1" cy="289.0" r="1.14"/><circle cx="423.8" cy="315.9" r="0.92"/><circle cx="392.7" cy="305.7" r="0.64"/><circle cx="421.7" cy="293.7" r="0.94"/><circle cx="402.8" cy="293.7" r="1.09"/><circle cx="393.4" cy="312.3" r="1.01"/><circle cx="429.4" cy="298.6" r="1.24"/><circle cx="404.0" cy="287.7" r="0.59"/><circle cx="403.8" cy="283.3" r="0.96"/><circle cx="421.1" cy="306.0" r="1.16"/><circle cx="418.0" cy="317.0" r="0.86"/><circle cx="407.7" cy="316.6" r="1.21"/><circle cx="406.9" cy="287.1" r="0.46"/><circle cx="396.4" cy="287.3" r="0.98"/><circle cx="402.6" cy="309.2" r="0.43"/><circle cx="394.4" cy="296.4" r="0.93"/><circle cx="427.5" cy="295.8" r="1.28"/><circle cx="413.5" cy="302.2" r="0.93"/></g>
<text x="465" y="213" font-size="11" text-anchor="middle">4</text>
<rect x="439.25" y="218.5" width="53.25" height="107.25" fill="#f6f6f9" stroke="#6f98d2" stroke-width="1.1"/>
<ellipse cx="465.88" cy="245.3" rx="25.82" ry="24.3" fill="#eff0f5" stroke="#d3d5e2" stroke-width="2"/>
<ellipse cx="465.88" cy="245.9" rx="23.43" ry="21.9" fill="none" stroke="#e4e5ee" stroke-width="1"/>
<g fill="#4039a8" filter="url(#soft)"><circle cx="461.0" cy="227.0" r="0.90"/><circle cx="448.5" cy="244.5" r="0.67"/><circle cx="475.1" cy="230.3" r="1.27"/><circle cx="483.0" cy="259.7" r="0.49"/><circle cx="451.6" cy="236.2" r="0.58"/><circle cx="450.3" cy="236.7" r="0.71"/><circle cx="457.6" cy="258.8" r="1.14"/><circle cx="448.7" cy="246.3" r="1.04"/><circle cx="469.0" cy="243.0" r="0.73"/><circle cx="484.9" cy="246.6" r="0.77"/><circle cx="464.2" cy="264.0" r="1.15"/><circle cx="479.1" cy="260.9" r="0.49"/><circle cx="474.0" cy="245.5" r="1.30"/><circle cx="488.2" cy="240.7" r="1.12"/><circle cx="459.4" cy="241.2" r="1.03"/><circle cx="484.0" cy="257.8" r="0.53"/><circle cx="467.6" cy="248.8" r="1.02"/><circle cx="486.7" cy="255.3" r="0.94"/><circle cx="463.8" cy="253.6" r="1.05"/><circle cx="469.0" cy="265.9" r="0.70"/><circle cx="477.1" cy="241.1" r="0.85"/><circle cx="459.9" cy="258.6" r="1.08"/><circle cx="450.8" cy="239.9" r="1.07"/><circle cx="450.0" cy="256.3" r="0.88"/><circle cx="450.2" cy="239.3" r="1.20"/><circle cx="447.6" cy="244.3" r="1.29"/><circle cx="455.9" cy="258.1" r="0.74"/><circle cx="477.5" cy="232.3" r="1.24"/><circle cx="458.5" cy="258.7" r="0.98"/><circle cx="471.3" cy="240.6" r="1.08"/><circle cx="481.5" cy="234.6" r="0.58"/><circle cx="477.4" cy="243.5" r="1.20"/><circle cx="466.0" cy="266.0" r="0.36"/><circle cx="486.1" cy="236.1" r="1.06"/><circle cx="470.1" cy="251.3" r="0.77"/><circle cx="478.5" cy="261.3" r="0.69"/><circle cx="476.2" cy="246.9" r="0.99"/><circle cx="466.6" cy="253.3" r="0.51"/><circle cx="461.4" cy="260.9" r="0.52"/><circle cx="476.1" cy="243.4" r="0.81"/><circle cx="454.5" cy="255.4" r="0.51"/><circle cx="458.7" cy="227.4" r="0.78"/><circle cx="445.4" cy="246.6" r="0.83"/><circle cx="460.4" cy="263.9" r="0.84"/><circle cx="471.1" cy="232.0" r="1.08"/><circle cx="471.0" cy="241.3" r="1.18"/><circle cx="451.5" cy="239.3" r="1.11"/><circle cx="483.3" cy="236.3" r="0.52"/><circle cx="475.2" cy="243.6" r="1.20"/><circle cx="476.9" cy="233.8" r="1.26"/><circle cx="444.7" cy="247.7" r="0.58"/><circle cx="473.7" cy="247.2" r="0.90"/><circle cx="480.4" cy="240.3" r="0.82"/><circle cx="485.1" cy="239.8" r="0.53"/><circle cx="466.0" cy="243.2" r="0.85"/><circle cx="468.3" cy="238.8" r="0.74"/><circle cx="485.2" cy="250.7" r="1.14"/><circle cx="447.2" cy="249.5" r="0.47"/><circle cx="451.6" cy="252.7" r="1.05"/><circle cx="472.1" cy="240.8" r="0.52"/><circle cx="484.2" cy="250.3" r="0.39"/><circle cx="444.3" cy="240.6" r="1.22"/><circle cx="457.2" cy="234.0" r="1.01"/><circle cx="465.2" cy="241.8" r="0.89"/><circle cx="445.9" cy="235.0" r="1.08"/><circle cx="453.6" cy="261.5" r="0.68"/><circle cx="451.7" cy="236.2" r="0.59"/><circle cx="462.8" cy="254.5" r="1.28"/><circle cx="461.7" cy="242.5" r="1.07"/><circle cx="457.4" cy="236.3" r="1.03"/><circle cx="449.3" cy="235.3" r="0.86"/><circle cx="452.0" cy="228.6" r="1.26"/><circle cx="465.5" cy="249.9" r="1.28"/><circle cx="476.7" cy="254.9" r="1.07"/><circle cx="454.7" cy="253.7" r="0.57"/><circle cx="482.8" cy="234.5" r="1.25"/><circle cx="466.8" cy="231.1" r="1.28"/><circle cx="482.2" cy="246.5" r="1.14"/><circle cx="471.8" cy="242.7" r="1.08"/><circle cx="470.6" cy="263.8" r="0.89"/><circle cx="463.4" cy="263.0" r="1.01"/><circle cx="451.2" cy="246.7" r="0.93"/><circle cx="463.8" cy="242.0" r="1.04"/><circle cx="468.4" cy="229.4" r="1.15"/><circle cx="475.0" cy="228.8" r="1.09"/><circle cx="478.1" cy="231.1" r="0.92"/><circle cx="464.9" cy="246.4" r="1.05"/><circle cx="452.0" cy="258.5" r="1.19"/><circle cx="460.0" cy="245.5" r="0.69"/><circle cx="453.5" cy="255.4" r="0.44"/><circle cx="450.0" cy="238.5" r="1.12"/><circle cx="477.0" cy="244.5" r="0.42"/><circle cx="480.5" cy="238.6" r="0.89"/><circle cx="475.1" cy="238.2" r="0.71"/><circle cx="448.1" cy="257.0" r="0.93"/><circle cx="483.1" cy="249.8" r="0.57"/><circle cx="485.9" cy="246.4" r="0.81"/><circle cx="455.2" cy="235.0" r="1.10"/><circle cx="463.1" cy="255.6" r="1.27"/><circle cx="467.8" cy="258.2" r="0.62"/><circle cx="472.9" cy="231.6" r="1.21"/><circle cx="455.8" cy="254.2" r="0.56"/><circle cx="478.5" cy="249.2" r="0.87"/><circle cx="455.4" cy="253.7" r="0.77"/><circle cx="471.7" cy="241.6" r="0.79"/><circle cx="464.0" cy="246.9" r="0.97"/><circle cx="483.1" cy="257.4" r="0.50"/><circle cx="457.9" cy="239.2" r="1.29"/><circle cx="460.7" cy="260.0" r="0.52"/><circle cx="448.1" cy="248.2" r="0.88"/><circle cx="454.0" cy="233.3" r="0.74"/><circle cx="470.4" cy="264.8" r="0.98"/><circle cx="455.0" cy="250.9" r="0.90"/><circle cx="471.3" cy="255.3" r="0.46"/><circle cx="473.6" cy="243.8" r="0.82"/><circle cx="449.9" cy="239.4" r="1.10"/><circle cx="475.9" cy="252.9" r="0.86"/><circle cx="471.1" cy="224.9" r="0.68"/><circle cx="468.2" cy="256.4" r="0.55"/></g>
<ellipse cx="465.88" cy="300.1" rx="25.82" ry="24.3" fill="#eff0f5" stroke="#d3d5e2" stroke-width="2"/>
<ellipse cx="465.88" cy="300.7" rx="23.43" ry="21.9" fill="none" stroke="#e4e5ee" stroke-width="1"/>
<g fill="#4039a8" filter="url(#soft)"><circle cx="462.8" cy="310.0" r="0.86"/><circle cx="465.7" cy="314.6" r="0.56"/><circle cx="488.4" cy="300.9" r="0.44"/><circle cx="477.0" cy="288.2" r="1.27"/><circle cx="474.5" cy="287.1" r="1.26"/><circle cx="457.4" cy="320.2" r="0.36"/><circle cx="456.3" cy="305.7" r="0.61"/><circle cx="458.1" cy="282.7" r="0.93"/><circle cx="482.2" cy="291.5" r="0.99"/><circle cx="467.4" cy="308.8" r="1.30"/><circle cx="467.7" cy="294.1" r="0.80"/><circle cx="451.9" cy="308.1" r="0.49"/><circle cx="466.0" cy="309.9" r="1.26"/><circle cx="459.3" cy="296.8" r="1.12"/><circle cx="466.7" cy="282.8" r="0.67"/><circle cx="453.6" cy="311.4" r="0.97"/><circle cx="446.4" cy="300.1" r="1.08"/><circle cx="481.8" cy="310.0" r="0.90"/><circle cx="465.2" cy="320.1" r="0.79"/><circle cx="454.3" cy="291.3" r="0.71"/><circle cx="461.5" cy="290.1" r="0.71"/><circle cx="448.4" cy="288.0" r="0.51"/><circle cx="474.0" cy="310.3" r="0.54"/><circle cx="454.8" cy="300.6" r="0.73"/><circle cx="461.4" cy="301.3" r="1.10"/><circle cx="478.5" cy="316.5" r="1.12"/><circle cx="451.1" cy="305.5" r="0.58"/><circle cx="468.1" cy="294.4" r="1.22"/><circle cx="464.2" cy="299.1" r="0.63"/><circle cx="466.4" cy="304.3" r="0.46"/><circle cx="487.4" cy="300.6" r="0.57"/><circle cx="475.6" cy="294.8" r="1.24"/><circle cx="472.0" cy="309.4" r="0.75"/><circle cx="457.8" cy="304.4" r="0.62"/><circle cx="484.7" cy="301.3" r="1.08"/><circle cx="477.3" cy="287.2" r="0.81"/><circle cx="464.2" cy="295.3" r="1.03"/><circle cx="452.5" cy="282.8" r="0.42"/><circle cx="449.0" cy="290.8" r="0.58"/><circle cx="463.6" cy="292.8" r="1.20"/><circle cx="467.0" cy="316.4" r="0.90"/><circle cx="468.6" cy="321.7" r="0.41"/><circle cx="458.9" cy="290.5" r="0.97"/><circle cx="458.0" cy="310.0" r="0.83"/><circle cx="459.2" cy="288.8" r="0.97"/><circle cx="451.0" cy="299.8" r="0.55"/><circle cx="473.2" cy="307.9" r="0.80"/><circle cx="478.9" cy="310.6" r="0.40"/><circle cx="469.8" cy="300.3" r="0.91"/><circle cx="464.6" cy="315.8" r="1.05"/><circle cx="477.5" cy="281.7" r="0.73"/><circle cx="468.6" cy="281.5" r="1.03"/><circle cx="443.0" cy="296.3" r="0.51"/><circle cx="449.4" cy="309.0" r="1.25"/><circle cx="454.6" cy="288.9" r="1.29"/><circle cx="479.0" cy="286.6" r="0.40"/><circle cx="449.5" cy="303.1" r="0.38"/><circle cx="476.4" cy="296.7" r="1.08"/><circle cx="484.4" cy="306.9" r="0.78"/><circle cx="470.9" cy="313.5" r="0.41"/><circle cx="472.5" cy="283.6" r="0.85"/><circle cx="462.8" cy="304.0" r="0.95"/><circle cx="463.8" cy="294.2" r="1.14"/><circle cx="457.5" cy="299.3" r="0.81"/><circle cx="455.3" cy="309.8" r="1.19"/><circle cx="471.9" cy="319.4" r="0.63"/><circle cx="480.5" cy="292.7" r="1.02"/><circle cx="467.7" cy="312.1" r="0.59"/><circle cx="477.5" cy="284.8" r="1.28"/><circle cx="458.2" cy="304.5" r="0.57"/><circle cx="472.0" cy="281.1" r="1.18"/><circle cx="455.1" cy="305.6" r="0.93"/><circle cx="483.6" cy="311.0" r="0.47"/><circle cx="447.9" cy="292.0" r="0.58"/><circle cx="451.2" cy="295.7" r="0.67"/><circle cx="474.0" cy="292.9" r="1.28"/><circle cx="463.5" cy="320.2" r="0.63"/><circle cx="458.4" cy="310.8" r="0.74"/><circle cx="469.8" cy="321.6" r="1.17"/><circle cx="457.1" cy="305.9" r="1.08"/><circle cx="452.5" cy="308.2" r="1.02"/><circle cx="462.8" cy="319.7" r="0.44"/></g>
<text x="520" y="213" font-size="11" text-anchor="middle">6</text>
<rect x="495.5" y="218.5" width="54" height="107.25" fill="#f6f6f9" stroke="#6f98d2" stroke-width="1.1"/>
<ellipse cx="522.5" cy="245.3" rx="26.2" ry="24.3" fill="#eff0f5" stroke="#d3d5e2" stroke-width="2"/>
<ellipse cx="522.5" cy="245.9" rx="23.8" ry="21.9" fill="none" stroke="#e4e5ee" stroke-width="1"/>
<g fill="#4039a8" filter="url(#soft)"><circle cx="533.8" cy="260.3" r="1.21"/><circle cx="511.0" cy="246.5" r="0.99"/><circle cx="507.8" cy="256.0" r="0.65"/><circle cx="531.1" cy="251.7" r="0.67"/><circle cx="518.9" cy="253.4" r="0.90"/><circle cx="513.0" cy="264.7" r="0.71"/><circle cx="513.8" cy="227.8" r="1.25"/><circle cx="531.9" cy="252.6" r="0.86"/><circle cx="525.3" cy="259.2" r="1.29"/><circle cx="534.6" cy="253.0" r="1.13"/><circle cx="517.1" cy="230.8" r="1.18"/><circle cx="513.9" cy="252.2" r="1.02"/><circle cx="509.1" cy="230.8" r="0.88"/><circle cx="500.3" cy="247.2" r="0.80"/><circle cx="533.9" cy="237.9" r="1.16"/><circle cx="535.5" cy="236.0" r="1.24"/><circle cx="534.5" cy="252.1" r="1.05"/><circle cx="526.2" cy="240.8" r="1.06"/><circle cx="529.3" cy="225.0" r="0.78"/><circle cx="520.5" cy="235.9" r="1.00"/><circle cx="529.1" cy="231.9" r="0.72"/><circle cx="507.1" cy="245.3" r="0.77"/><circle cx="510.1" cy="235.5" r="0.69"/><circle cx="516.3" cy="227.2" r="0.89"/><circle cx="541.6" cy="251.8" r="0.41"/><circle cx="522.7" cy="228.5" r="0.49"/></g>
<ellipse cx="522.5" cy="300.1" rx="26.2" ry="24.3" fill="#eff0f5" stroke="#d3d5e2" stroke-width="2"/>
<ellipse cx="522.5" cy="300.7" rx="23.8" ry="21.9" fill="none" stroke="#e4e5ee" stroke-width="1"/>
<g fill="#4039a8" filter="url(#soft)"><circle cx="522.8" cy="307.5" r="1.00"/><circle cx="509.2" cy="285.1" r="0.87"/><circle cx="515.2" cy="308.7" r="0.99"/><circle cx="501.3" cy="294.2" r="0.53"/><circle cx="514.1" cy="319.2" r="0.54"/><circle cx="517.4" cy="286.4" r="0.50"/><circle cx="536.4" cy="308.5" r="0.64"/><circle cx="535.0" cy="318.9" r="0.58"/><circle cx="529.9" cy="283.6" r="0.60"/><circle cx="516.0" cy="298.3" r="0.84"/><circle cx="516.2" cy="294.2" r="0.95"/></g>
<text x="318.5" y="244.24" font-size="11" text-anchor="middle" textLength="17.5" lengthAdjust="spacingAndGlyphs" transform="rotate(-90 318.5 244.24)">Ctrl</text>
<text x="318.5" y="301.08" font-size="11" text-anchor="middle" textLength="47" lengthAdjust="spacingAndGlyphs" transform="rotate(-90 318.5 301.08)">CD59-KO</text>
<text x="35.85" y="355.6" font-size="14.5" font-weight="bold" fill="#000">D</text>
<line x1="114.5" y1="359.5" x2="114.5" y2="460.75" stroke="#2a2222" stroke-width="1.3"/>
<line x1="114.5" y1="460.75" x2="265.5" y2="460.75" stroke="#2a2222" stroke-width="1.3"/>
<line x1="111.7" y1="361" x2="114.5" y2="361" stroke="#2a2222" stroke-width="1.1"/>
<text x="111.3" y="364.3" font-size="11.4" text-anchor="end">1</text>
<line x1="111.7" y1="394.25" x2="114.5" y2="394.25" stroke="#2a2222" stroke-width="1.1"/>
<text x="111.3" y="397.55" font-size="11.4" text-anchor="end">0.0</text>
<line x1="111.7" y1="427.5" x2="114.5" y2="427.5" stroke="#2a2222" stroke-width="1.1"/>
<text x="111.3" y="430.8" font-size="11.4" text-anchor="end">0.01</text>
<line x1="111.7" y1="460.75" x2="114.5" y2="460.75" stroke="#2a2222" stroke-width="1.1"/>
<text x="111.3" y="464.05" font-size="11.4" text-anchor="end">0.001</text>
<line x1="114.5" y1="460.75" x2="114.5" y2="463.25" stroke="#2a2222" stroke-width="1.1"/>
<text x="115" y="471.6" font-size="11.4" text-anchor="middle">0</text>
<line x1="164.5" y1="460.75" x2="164.5" y2="463.25" stroke="#2a2222" stroke-width="1.1"/>
<text x="165" y="471.6" font-size="11.4" text-anchor="middle">2</text>
<line x1="214.5" y1="460.75" x2="214.5" y2="463.25" stroke="#2a2222" stroke-width="1.1"/>
<text x="215" y="471.6" font-size="11.4" text-anchor="middle">4</text>
<line x1="264.5" y1="460.75" x2="264.5" y2="463.25" stroke="#2a2222" stroke-width="1.1"/>
<text x="265" y="471.6" font-size="11.4" text-anchor="middle">6</text>
<text x="163.75" y="484.7" font-size="11" textLength="51" lengthAdjust="spacingAndGlyphs">Dose (Gy)</text>
<text x="77" y="409.4" font-size="11" text-anchor="middle" textLength="84" lengthAdjust="spacingAndGlyphs" transform="rotate(-90 77 409.4)">Survival Fraction</text>
<polyline points="114.5,361 117,361.2 119.5,361.42 122,361.67 124.5,361.94 127,362.23 129.5,362.54 132,362.88 134.5,363.24 137,363.62 139.5,364.03 142,364.45 144.5,364.9 147,365.38 149.5,365.87 152,366.39 154.5,366.93 157,367.49 159.5,368.08 162,368.69 164.5,369.32 167,369.97 169.5,370.65 172,371.34 174.5,372.07 177,372.81 179.5,373.58 182,374.37 184.5,375.18 187,376.01 189.5,376.87 192,377.75 194.5,378.65 197,379.58 199.5,380.52 202,381.49 204.5,382.49 207,383.5 209.5,384.54 212,385.6 214.5,386.68 217,387.79 219.5,388.92 222,390.07 224.5,391.24 227,392.44 229.5,393.66 232,394.9 234.5,396.17 237,397.45 239.5,398.76 242,400.1 244.5,401.45 247,402.83 249.5,404.23 252,405.65 254.5,407.1 257,408.56 259.5,410.06 262,411.57 264.5,413.11" fill="none" stroke="#2a52b4" stroke-width="1.5" stroke-linejoin="round"/>
<polyline points="114.5,361 117,361.7 119.5,362.42 122,363.15 124.5,363.9 127,364.67 129.5,365.45 132,366.25 134.5,367.06 137,367.89 139.5,368.73 142,369.59 144.5,370.47 147,371.36 149.5,372.27 152,373.19 154.5,374.13 157,375.09 159.5,376.06 162,377.05 164.5,378.05 167,379.07 169.5,380.11 172,381.16 174.5,382.22 177,383.31 179.5,384.41 182,385.52 184.5,386.65 187,387.8 189.5,388.96 192,390.13 194.5,391.33 197,392.54 199.5,393.76 202,395 204.5,396.26 207,397.53 209.5,398.82 212,400.13 214.5,401.45 217,402.78 219.5,404.14 222,405.5 224.5,406.89 227,408.29 229.5,409.7 232,411.13 234.5,412.58 237,414.04 239.5,415.52 242,417.02 244.5,418.53 247,420.05 249.5,421.6 252,423.16 254.5,424.73 257,426.32 259.5,427.93 262,429.55 264.5,431.18" fill="none" stroke="#e2231e" stroke-width="1.5" stroke-linejoin="round"/>
<circle cx="114.5" cy="361.2" r="2.6" fill="#2a52b4"/>
<circle cx="164.5" cy="369.25" r="2.6" fill="#2a52b4"/>
<circle cx="214.5" cy="387" r="2.6" fill="#2a52b4"/>
<line x1="264.5" y1="407.5" x2="264.5" y2="422" stroke="#2a52b4" stroke-width="1.1"/>
<line x1="262.9" y1="407.5" x2="266.1" y2="407.5" stroke="#2a52b4" stroke-width="1.1"/>
<line x1="262.9" y1="422" x2="266.1" y2="422" stroke="#2a52b4" stroke-width="1.1"/>
<circle cx="264.5" cy="413" r="2.6" fill="#2a52b4"/>
<polygon points="111.8,358.7 117.2,358.7 114.5,363.7" fill="#e2231e"/>
<polygon points="161.8,376.75 167.2,376.75 164.5,381.75" fill="#e2231e"/>
<line x1="214.5" y1="398" x2="214.5" y2="408.75" stroke="#e2231e" stroke-width="1.1"/>
<line x1="212.9" y1="398" x2="216.1" y2="398" stroke="#e2231e" stroke-width="1.1"/>
<line x1="212.9" y1="408.75" x2="216.1" y2="408.75" stroke="#e2231e" stroke-width="1.1"/>
<polygon points="211.8,399.5 217.2,399.5 214.5,404.5" fill="#e2231e"/>
<line x1="264.5" y1="432" x2="264.5" y2="442.5" stroke="#e2231e" stroke-width="1.1"/>
<line x1="262.9" y1="432" x2="266.1" y2="432" stroke="#e2231e" stroke-width="1.1"/>
<line x1="262.9" y1="442.5" x2="266.1" y2="442.5" stroke="#e2231e" stroke-width="1.1"/>
<polygon points="261.8,438.75 267.2,438.75 264.5,443.75" fill="#e2231e"/>
<text x="164.5" y="392.41" font-size="11" text-anchor="middle" font-weight="bold">**</text>
<text x="214.5" y="420.41" font-size="11" text-anchor="middle" font-weight="bold">**</text>
<text x="265.3" y="453.16" font-size="11" text-anchor="middle" font-weight="bold">*</text>
<line x1="120" y1="427.8" x2="137.8" y2="427.8" stroke="#2a52b4" stroke-width="1.5"/>
<circle cx="128.9" cy="427.8" r="4.6" fill="#2a52b4"/>
<line x1="120" y1="445.9" x2="137.8" y2="445.9" stroke="#e2231e" stroke-width="1.5"/>
<polygon points="124.3,441.3 133.5,441.3 128.9,450.3" fill="#e2231e"/>
<text x="146.25" y="431.8" font-size="11" textLength="58.5" lengthAdjust="spacingAndGlyphs">Eca109-Ctrl</text>
<text x="146.25" y="449.4" font-size="11" textLength="90" lengthAdjust="spacingAndGlyphs">Eca109-CD59-KO</text>
<text x="340.1" y="355.6" font-size="14.5" font-weight="bold" fill="#000">F</text>
<line x1="383" y1="359.5" x2="383" y2="460.75" stroke="#2a2222" stroke-width="1.3"/>
<line x1="383" y1="460.75" x2="534.5" y2="460.75" stroke="#2a2222" stroke-width="1.3"/>
<line x1="380.2" y1="361" x2="383" y2="361" stroke="#2a2222" stroke-width="1.1"/>
<text x="380" y="364.3" font-size="11.4" text-anchor="end">1</text>
<line x1="380.2" y1="394.25" x2="383" y2="394.25" stroke="#2a2222" stroke-width="1.1"/>
<text x="380" y="397.55" font-size="11.4" text-anchor="end">0.0</text>
<line x1="380.2" y1="427.5" x2="383" y2="427.5" stroke="#2a2222" stroke-width="1.1"/>
<text x="380" y="430.8" font-size="11.4" text-anchor="end">0.01</text>
<line x1="380.2" y1="460.75" x2="383" y2="460.75" stroke="#2a2222" stroke-width="1.1"/>
<text x="380" y="464.05" font-size="11.4" text-anchor="end">0.001</text>
<line x1="383" y1="460.75" x2="383" y2="463.25" stroke="#2a2222" stroke-width="1.1"/>
<text x="383.5" y="471.6" font-size="11.4" text-anchor="middle">0</text>
<line x1="433" y1="460.75" x2="433" y2="463.25" stroke="#2a2222" stroke-width="1.1"/>
<text x="433.5" y="471.6" font-size="11.4" text-anchor="middle">2</text>
<line x1="483" y1="460.75" x2="483" y2="463.25" stroke="#2a2222" stroke-width="1.1"/>
<text x="483.5" y="471.6" font-size="11.4" text-anchor="middle">4</text>
<line x1="533" y1="460.75" x2="533" y2="463.25" stroke="#2a2222" stroke-width="1.1"/>
<text x="533.5" y="471.6" font-size="11.4" text-anchor="middle">6</text>
<text x="435.5" y="484.7" font-size="11" textLength="51" lengthAdjust="spacingAndGlyphs">Dose (Gy)</text>
<text x="348.8" y="411.6" font-size="11" text-anchor="middle" textLength="84" lengthAdjust="spacingAndGlyphs" transform="rotate(-90 348.8 411.6)">Survival Fraction</text>
<polyline points="383,361 385.5,361.02 388,361.05 390.5,361.09 393,361.13 395.5,361.19 398,361.25 400.5,361.33 403,361.41 405.5,361.5 408,361.6 410.5,361.71 413,361.83 415.5,361.96 418,362.1 420.5,362.25 423,362.4 425.5,362.57 428,362.74 430.5,362.93 433,363.12 435.5,363.32 438,363.53 440.5,363.75 443,363.98 445.5,364.22 448,364.46 450.5,364.72 453,364.99 455.5,365.26 458,365.54 460.5,365.84 463,366.14 465.5,366.45 468,366.77 470.5,367.1 473,367.44 475.5,367.78 478,368.14 480.5,368.51 483,368.88 485.5,369.27 488,369.66 490.5,370.06 493,370.47 495.5,370.89 498,371.32 500.5,371.76 503,372.21 505.5,372.66 508,373.13 510.5,373.6 513,374.09 515.5,374.58 518,375.08 520.5,375.6 523,376.12 525.5,376.65 528,377.18 530.5,377.73 533,378.29" fill="none" stroke="#2a52b4" stroke-width="1.5" stroke-linejoin="round"/>
<polyline points="383,361 385.5,361.06 388,361.14 390.5,361.24 393,361.36 395.5,361.5 398,361.66 400.5,361.84 403,362.04 405.5,362.26 408,362.5 410.5,362.76 413,363.04 415.5,363.34 418,363.66 420.5,364 423,364.36 425.5,364.74 428,365.14 430.5,365.56 433,366 435.5,366.46 438,366.94 440.5,367.44 443,367.96 445.5,368.5 448,369.06 450.5,369.64 453,370.24 455.5,370.86 458,371.5 460.5,372.16 463,372.84 465.5,373.54 468,374.26 470.5,375 473,375.76 475.5,376.54 478,377.34 480.5,378.16 483,379 485.5,379.86 488,380.74 490.5,381.64 493,382.56 495.5,383.5 498,384.46 500.5,385.44 503,386.44 505.5,387.46 508,388.5 510.5,389.56 513,390.64 515.5,391.74 518,392.86 520.5,394 523,395.16 525.5,396.34 528,397.54 530.5,398.76 533,400" fill="none" stroke="#e2231e" stroke-width="1.5" stroke-linejoin="round"/>
<circle cx="383" cy="360.9" r="2.6" fill="#2a52b4"/>
<circle cx="433" cy="361.25" r="2.6" fill="#2a52b4"/>
<circle cx="483" cy="366.25" r="2.6" fill="#2a52b4"/>
<line x1="533" y1="383" x2="533" y2="388.75" stroke="#2a52b4" stroke-width="1.1"/>
<line x1="531.4" y1="383" x2="534.6" y2="383" stroke="#2a52b4" stroke-width="1.1"/>
<line x1="531.4" y1="388.75" x2="534.6" y2="388.75" stroke="#2a52b4" stroke-width="1.1"/>
<circle cx="533" cy="385.5" r="2.6" fill="#2a52b4"/>
<polygon points="380.3,358.4 385.7,358.4 383,363.4" fill="#e2231e"/>
<polygon points="430.3,361.75 435.7,361.75 433,366.75" fill="#e2231e"/>
<line x1="483" y1="377" x2="483" y2="381.25" stroke="#e2231e" stroke-width="1.1"/>
<line x1="481.4" y1="377" x2="484.6" y2="377" stroke="#e2231e" stroke-width="1.1"/>
<line x1="481.4" y1="381.25" x2="484.6" y2="381.25" stroke="#e2231e" stroke-width="1.1"/>
<polygon points="480.3,376.25 485.7,376.25 483,381.25" fill="#e2231e"/>
<line x1="533" y1="406.25" x2="533" y2="417" stroke="#e2231e" stroke-width="1.1"/>
<line x1="531.4" y1="406.25" x2="534.6" y2="406.25" stroke="#e2231e" stroke-width="1.1"/>
<line x1="531.4" y1="417" x2="534.6" y2="417" stroke="#e2231e" stroke-width="1.1"/>
<polygon points="530.3,407.5 535.7,407.5 533,412.5" fill="#e2231e"/>
<text x="433.5" y="377.41" font-size="11" text-anchor="middle" font-weight="bold">*</text>
<text x="483.5" y="393.66" font-size="11" text-anchor="middle" font-weight="bold">**</text>
<text x="534.3" y="428.66" font-size="11" text-anchor="middle" font-weight="bold">**</text>
<line x1="387.5" y1="426.25" x2="405" y2="426.25" stroke="#2a52b4" stroke-width="1.5"/>
<circle cx="396.25" cy="426.25" r="4.6" fill="#2a52b4"/>
<line x1="387.5" y1="443.25" x2="405" y2="443.25" stroke="#e2231e" stroke-width="1.5"/>
<polygon points="391.65,438.65 400.85,438.65 396.25,447.65" fill="#e2231e"/>
<text x="413" y="430.25" font-size="11" textLength="69.5" lengthAdjust="spacingAndGlyphs">KYSE510-Ctrl</text>
<text x="413" y="446.75" font-size="11" textLength="101.5" lengthAdjust="spacingAndGlyphs">KYSE510-CD59-KO</text>
<text x="0.8" y="518.2" font-size="14.5" font-weight="bold" fill="#000">G</text>
<line x1="37.5" y1="524.25" x2="37.5" y2="650.75" stroke="#3e3434" stroke-width="1.2"/>
<line x1="35" y1="650.75" x2="228.75" y2="650.75" stroke="#6a6060" stroke-width="1.7"/>
<line x1="34.5" y1="650.75" x2="37.5" y2="650.75" stroke="#2a2222" stroke-width="1.1"/>
<text x="33.75" y="654.05" font-size="11.4" text-anchor="end">0.0</text>
<line x1="34.5" y1="619.12" x2="37.5" y2="619.12" stroke="#2a2222" stroke-width="1.1"/>
<text x="33.75" y="622.42" font-size="11.4" text-anchor="end">0.5</text>
<line x1="34.5" y1="587.5" x2="37.5" y2="587.5" stroke="#2a2222" stroke-width="1.1"/>
<text x="33.75" y="590.8" font-size="11.4" text-anchor="end">1.0</text>
<line x1="34.5" y1="555.88" x2="37.5" y2="555.88" stroke="#2a2222" stroke-width="1.1"/>
<text x="33.75" y="559.17" font-size="11.4" text-anchor="end">1.5</text>
<line x1="34.5" y1="524.25" x2="37.5" y2="524.25" stroke="#2a2222" stroke-width="1.1"/>
<text x="33.75" y="527.55" font-size="11.4" text-anchor="end">2.0</text>
<line x1="46.75" y1="650.75" x2="46.75" y2="653.75" stroke="#2a2222" stroke-width="1.1"/>
<text x="50.55" y="655.6" font-size="11.4" text-anchor="end" transform="rotate(-90 50.55 655.6)">1</text>
<line x1="61.09" y1="650.75" x2="61.09" y2="653.75" stroke="#2a2222" stroke-width="1.1"/>
<text x="64.89" y="655.6" font-size="11.4" text-anchor="end" transform="rotate(-90 64.89 655.6)">3</text>
<line x1="75.43" y1="650.75" x2="75.43" y2="653.75" stroke="#2a2222" stroke-width="1.1"/>
<text x="79.23" y="655.6" font-size="11.4" text-anchor="end" transform="rotate(-90 79.23 655.6)">5</text>
<line x1="89.77" y1="650.75" x2="89.77" y2="653.75" stroke="#2a2222" stroke-width="1.1"/>
<text x="93.57" y="655.6" font-size="11.4" text-anchor="end" transform="rotate(-90 93.57 655.6)">7</text>
<line x1="104.11" y1="650.75" x2="104.11" y2="653.75" stroke="#2a2222" stroke-width="1.1"/>
<text x="107.91" y="655.6" font-size="11.4" text-anchor="end" transform="rotate(-90 107.91 655.6)">9</text>
<line x1="118.45" y1="650.75" x2="118.45" y2="653.75" stroke="#2a2222" stroke-width="1.1"/>
<text x="122.25" y="655.6" font-size="11.4" text-anchor="end" transform="rotate(-90 122.25 655.6)">11</text>
<line x1="132.79" y1="650.75" x2="132.79" y2="653.75" stroke="#2a2222" stroke-width="1.1"/>
<text x="136.59" y="655.6" font-size="11.4" text-anchor="end" transform="rotate(-90 136.59 655.6)">13</text>
<line x1="147.13" y1="650.75" x2="147.13" y2="653.75" stroke="#2a2222" stroke-width="1.1"/>
<text x="150.93" y="655.6" font-size="11.4" text-anchor="end" transform="rotate(-90 150.93 655.6)">15</text>
<line x1="161.47" y1="650.75" x2="161.47" y2="653.75" stroke="#2a2222" stroke-width="1.1"/>
<text x="165.27" y="655.6" font-size="11.4" text-anchor="end" transform="rotate(-90 165.27 655.6)">17</text>
<line x1="175.81" y1="650.75" x2="175.81" y2="653.75" stroke="#2a2222" stroke-width="1.1"/>
<text x="179.61" y="655.6" font-size="11.4" text-anchor="end" transform="rotate(-90 179.61 655.6)">19</text>
<line x1="190.15" y1="650.75" x2="190.15" y2="653.75" stroke="#2a2222" stroke-width="1.1"/>
<text x="193.95" y="655.6" font-size="11.4" text-anchor="end" transform="rotate(-90 193.95 655.6)">21</text>
<line x1="204.49" y1="650.75" x2="204.49" y2="653.75" stroke="#2a2222" stroke-width="1.1"/>
<text x="208.29" y="655.6" font-size="11.4" text-anchor="end" transform="rotate(-90 208.29 655.6)">23</text>
<line x1="218.83" y1="650.75" x2="218.83" y2="653.75" stroke="#2a2222" stroke-width="1.1"/>
<text x="222.63" y="655.6" font-size="11.4" text-anchor="end" transform="rotate(-90 222.63 655.6)">25</text>
<text x="79.25" y="681.5" font-size="11" textLength="95.75" lengthAdjust="spacingAndGlyphs">Day after xenograft</text>
<text x="10.3" y="587" font-size="11" text-anchor="middle" textLength="114" lengthAdjust="spacingAndGlyphs" transform="rotate(-90 10.3 587)">Tumor volumne (cm^3)</text>
<polyline points="46.75,648.75 61.09,643.5 75.43,644.5 89.77,643 104.11,636.25 118.45,634.5 132.79,623 147.13,615 161.47,602.5 175.81,595 190.15,591.75 204.49,582 218.83,559.7" fill="none" stroke="#e0282a" stroke-width="1.3" stroke-linejoin="round"/>
<line x1="46.75" y1="647.75" x2="46.75" y2="649.75" stroke="#e0282a" stroke-width="1.1"/>
<line x1="44.1" y1="647.75" x2="49.4" y2="647.75" stroke="#e0282a" stroke-width="1.1"/>
<line x1="44.1" y1="649.75" x2="49.4" y2="649.75" stroke="#e0282a" stroke-width="1.1"/>
<circle cx="46.75" cy="648.75" r="2.9" fill="#e0282a"/>
<line x1="61.09" y1="642" x2="61.09" y2="645" stroke="#e0282a" stroke-width="1.1"/>
<line x1="58.44" y1="642" x2="63.74" y2="642" stroke="#e0282a" stroke-width="1.1"/>
<line x1="58.44" y1="645" x2="63.74" y2="645" stroke="#e0282a" stroke-width="1.1"/>
<circle cx="61.09" cy="643.5" r="2.9" fill="#e0282a"/>
<line x1="75.43" y1="643" x2="75.43" y2="646" stroke="#e0282a" stroke-width="1.1"/>
<line x1="72.78" y1="643" x2="78.08" y2="643" stroke="#e0282a" stroke-width="1.1"/>
<line x1="72.78" y1="646" x2="78.08" y2="646" stroke="#e0282a" stroke-width="1.1"/>
<circle cx="75.43" cy="644.5" r="2.9" fill="#e0282a"/>
<line x1="89.77" y1="641.5" x2="89.77" y2="644.5" stroke="#e0282a" stroke-width="1.1"/>
<line x1="87.12" y1="641.5" x2="92.42" y2="641.5" stroke="#e0282a" stroke-width="1.1"/>
<line x1="87.12" y1="644.5" x2="92.42" y2="644.5" stroke="#e0282a" stroke-width="1.1"/>
<circle cx="89.77" cy="643" r="2.9" fill="#e0282a"/>
<line x1="104.11" y1="633.25" x2="104.11" y2="639.25" stroke="#e0282a" stroke-width="1.1"/>
<line x1="101.46" y1="633.25" x2="106.76" y2="633.25" stroke="#e0282a" stroke-width="1.1"/>
<line x1="101.46" y1="639.25" x2="106.76" y2="639.25" stroke="#e0282a" stroke-width="1.1"/>
<circle cx="104.11" cy="636.25" r="2.9" fill="#e0282a"/>
<line x1="118.45" y1="631.5" x2="118.45" y2="637.5" stroke="#e0282a" stroke-width="1.1"/>
<line x1="115.8" y1="631.5" x2="121.1" y2="631.5" stroke="#e0282a" stroke-width="1.1"/>
<line x1="115.8" y1="637.5" x2="121.1" y2="637.5" stroke="#e0282a" stroke-width="1.1"/>
<circle cx="118.45" cy="634.5" r="2.9" fill="#e0282a"/>
<line x1="132.79" y1="619.5" x2="132.79" y2="626.5" stroke="#e0282a" stroke-width="1.1"/>
<line x1="130.14" y1="619.5" x2="135.44" y2="619.5" stroke="#e0282a" stroke-width="1.1"/>
<line x1="130.14" y1="626.5" x2="135.44" y2="626.5" stroke="#e0282a" stroke-width="1.1"/>
<circle cx="132.79" cy="623" r="2.9" fill="#e0282a"/>
<line x1="147.13" y1="612" x2="147.13" y2="618" stroke="#e0282a" stroke-width="1.1"/>
<line x1="144.48" y1="612" x2="149.78" y2="612" stroke="#e0282a" stroke-width="1.1"/>
<line x1="144.48" y1="618" x2="149.78" y2="618" stroke="#e0282a" stroke-width="1.1"/>
<circle cx="147.13" cy="615" r="2.9" fill="#e0282a"/>
<line x1="161.47" y1="598.3" x2="161.47" y2="606.7" stroke="#e0282a" stroke-width="1.1"/>
<line x1="158.82" y1="598.3" x2="164.12" y2="598.3" stroke="#e0282a" stroke-width="1.1"/>
<line x1="158.82" y1="606.7" x2="164.12" y2="606.7" stroke="#e0282a" stroke-width="1.1"/>
<circle cx="161.47" cy="602.5" r="2.9" fill="#e0282a"/>
<line x1="175.81" y1="590" x2="175.81" y2="600" stroke="#e0282a" stroke-width="1.1"/>
<line x1="173.16" y1="590" x2="178.46" y2="590" stroke="#e0282a" stroke-width="1.1"/>
<line x1="173.16" y1="600" x2="178.46" y2="600" stroke="#e0282a" stroke-width="1.1"/>
<circle cx="175.81" cy="595" r="2.9" fill="#e0282a"/>
<line x1="190.15" y1="583.75" x2="190.15" y2="599.75" stroke="#e0282a" stroke-width="1.1"/>
<line x1="187.5" y1="583.75" x2="192.8" y2="583.75" stroke="#e0282a" stroke-width="1.1"/>
<line x1="187.5" y1="599.75" x2="192.8" y2="599.75" stroke="#e0282a" stroke-width="1.1"/>
<circle cx="190.15" cy="591.75" r="2.9" fill="#e0282a"/>
<line x1="204.49" y1="576.7" x2="204.49" y2="587.3" stroke="#e0282a" stroke-width="1.1"/>
<line x1="201.84" y1="576.7" x2="207.14" y2="576.7" stroke="#e0282a" stroke-width="1.1"/>
<line x1="201.84" y1="587.3" x2="207.14" y2="587.3" stroke="#e0282a" stroke-width="1.1"/>
<circle cx="204.49" cy="582" r="2.9" fill="#e0282a"/>
<line x1="218.83" y1="550.9" x2="218.83" y2="568.5" stroke="#e0282a" stroke-width="1.1"/>
<line x1="216.18" y1="550.9" x2="221.48" y2="550.9" stroke="#e0282a" stroke-width="1.1"/>
<line x1="216.18" y1="568.5" x2="221.48" y2="568.5" stroke="#e0282a" stroke-width="1.1"/>
<circle cx="218.83" cy="559.7" r="2.9" fill="#e0282a"/>
<polyline points="46.75,646.7 61.09,645.5 75.43,645.75 89.77,643.75 104.11,642.75 118.45,640.5 132.79,636.25 147.13,633.25 161.47,627 175.81,627.5 190.15,634.25 204.49,631.75 218.83,628.25" fill="none" stroke="#2a3d9c" stroke-width="1.3" stroke-linejoin="round"/>
<line x1="46.75" y1="645.7" x2="46.75" y2="647.7" stroke="#2a3d9c" stroke-width="1.1"/>
<line x1="44.1" y1="645.7" x2="49.4" y2="645.7" stroke="#2a3d9c" stroke-width="1.1"/>
<line x1="44.1" y1="647.7" x2="49.4" y2="647.7" stroke="#2a3d9c" stroke-width="1.1"/>
<rect x="43.95" y="643.9" width="5.6" height="5.6" fill="#2a3d9c"/>
<line x1="61.09" y1="644.5" x2="61.09" y2="646.5" stroke="#2a3d9c" stroke-width="1.1"/>
<line x1="58.44" y1="644.5" x2="63.74" y2="644.5" stroke="#2a3d9c" stroke-width="1.1"/>
<line x1="58.44" y1="646.5" x2="63.74" y2="646.5" stroke="#2a3d9c" stroke-width="1.1"/>
<rect x="58.29" y="642.7" width="5.6" height="5.6" fill="#2a3d9c"/>
<line x1="75.43" y1="644.55" x2="75.43" y2="646.95" stroke="#2a3d9c" stroke-width="1.1"/>
<line x1="72.78" y1="644.55" x2="78.08" y2="644.55" stroke="#2a3d9c" stroke-width="1.1"/>
<line x1="72.78" y1="646.95" x2="78.08" y2="646.95" stroke="#2a3d9c" stroke-width="1.1"/>
<rect x="72.63" y="642.95" width="5.6" height="5.6" fill="#2a3d9c"/>
<line x1="89.77" y1="642.55" x2="89.77" y2="644.95" stroke="#2a3d9c" stroke-width="1.1"/>
<line x1="87.12" y1="642.55" x2="92.42" y2="642.55" stroke="#2a3d9c" stroke-width="1.1"/>
<line x1="87.12" y1="644.95" x2="92.42" y2="644.95" stroke="#2a3d9c" stroke-width="1.1"/>
<rect x="86.97" y="640.95" width="5.6" height="5.6" fill="#2a3d9c"/>
<line x1="104.11" y1="641.25" x2="104.11" y2="644.25" stroke="#2a3d9c" stroke-width="1.1"/>
<line x1="101.46" y1="641.25" x2="106.76" y2="641.25" stroke="#2a3d9c" stroke-width="1.1"/>
<line x1="101.46" y1="644.25" x2="106.76" y2="644.25" stroke="#2a3d9c" stroke-width="1.1"/>
<rect x="101.31" y="639.95" width="5.6" height="5.6" fill="#2a3d9c"/>
<line x1="118.45" y1="639" x2="118.45" y2="642" stroke="#2a3d9c" stroke-width="1.1"/>
<line x1="115.8" y1="639" x2="121.1" y2="639" stroke="#2a3d9c" stroke-width="1.1"/>
<line x1="115.8" y1="642" x2="121.1" y2="642" stroke="#2a3d9c" stroke-width="1.1"/>
<rect x="115.65" y="637.7" width="5.6" height="5.6" fill="#2a3d9c"/>
<line x1="132.79" y1="634.75" x2="132.79" y2="637.75" stroke="#2a3d9c" stroke-width="1.1"/>
<line x1="130.14" y1="634.75" x2="135.44" y2="634.75" stroke="#2a3d9c" stroke-width="1.1"/>
<line x1="130.14" y1="637.75" x2="135.44" y2="637.75" stroke="#2a3d9c" stroke-width="1.1"/>
<rect x="129.99" y="633.45" width="5.6" height="5.6" fill="#2a3d9c"/>
<line x1="147.13" y1="630.75" x2="147.13" y2="635.75" stroke="#2a3d9c" stroke-width="1.1"/>
<line x1="144.48" y1="630.75" x2="149.78" y2="630.75" stroke="#2a3d9c" stroke-width="1.1"/>
<line x1="144.48" y1="635.75" x2="149.78" y2="635.75" stroke="#2a3d9c" stroke-width="1.1"/>
<rect x="144.33" y="630.45" width="5.6" height="5.6" fill="#2a3d9c"/>
<line x1="161.47" y1="622" x2="161.47" y2="632" stroke="#2a3d9c" stroke-width="1.1"/>
<line x1="158.82" y1="622" x2="164.12" y2="622" stroke="#2a3d9c" stroke-width="1.1"/>
<line x1="158.82" y1="632" x2="164.12" y2="632" stroke="#2a3d9c" stroke-width="1.1"/>
<rect x="158.67" y="624.2" width="5.6" height="5.6" fill="#2a3d9c"/>
<line x1="175.81" y1="622.8" x2="175.81" y2="632.2" stroke="#2a3d9c" stroke-width="1.1"/>
<line x1="173.16" y1="622.8" x2="178.46" y2="622.8" stroke="#2a3d9c" stroke-width="1.1"/>
<line x1="173.16" y1="632.2" x2="178.46" y2="632.2" stroke="#2a3d9c" stroke-width="1.1"/>
<rect x="173.01" y="624.7" width="5.6" height="5.6" fill="#2a3d9c"/>
<line x1="190.15" y1="631.05" x2="190.15" y2="637.45" stroke="#2a3d9c" stroke-width="1.1"/>
<line x1="187.5" y1="631.05" x2="192.8" y2="631.05" stroke="#2a3d9c" stroke-width="1.1"/>
<line x1="187.5" y1="637.45" x2="192.8" y2="637.45" stroke="#2a3d9c" stroke-width="1.1"/>
<rect x="187.35" y="631.45" width="5.6" height="5.6" fill="#2a3d9c"/>
<line x1="204.49" y1="627.35" x2="204.49" y2="636.15" stroke="#2a3d9c" stroke-width="1.1"/>
<line x1="201.84" y1="627.35" x2="207.14" y2="627.35" stroke="#2a3d9c" stroke-width="1.1"/>
<line x1="201.84" y1="636.15" x2="207.14" y2="636.15" stroke="#2a3d9c" stroke-width="1.1"/>
<rect x="201.69" y="628.95" width="5.6" height="5.6" fill="#2a3d9c"/>
<line x1="218.83" y1="623.35" x2="218.83" y2="633.15" stroke="#2a3d9c" stroke-width="1.1"/>
<line x1="216.18" y1="623.35" x2="221.48" y2="623.35" stroke="#2a3d9c" stroke-width="1.1"/>
<line x1="216.18" y1="633.15" x2="221.48" y2="633.15" stroke="#2a3d9c" stroke-width="1.1"/>
<rect x="216.03" y="625.45" width="5.6" height="5.6" fill="#2a3d9c"/>
<line x1="50" y1="531.4" x2="68.25" y2="531.4" stroke="#e0282a" stroke-width="1.2"/>
<circle cx="59.5" cy="531.4" r="4.6" fill="#e0282a"/>
<text x="71.25" y="535" font-size="11" textLength="58.5" lengthAdjust="spacingAndGlyphs">Eca109-Ctrl</text>
<line x1="50" y1="548.3" x2="68.25" y2="548.3" stroke="#2a3d9c" stroke-width="1.2"/>
<rect x="55.05" y="543.85" width="8.9" height="8.9" fill="#2a3d9c"/>
<text x="71.25" y="551.75" font-size="11" textLength="90" lengthAdjust="spacingAndGlyphs">Eca109-CD59-KO</text>
<text x="118" y="590" font-size="11" textLength="30.25" lengthAdjust="spacingAndGlyphs">20 Gy</text>
<line x1="132.6" y1="594.9" x2="132.6" y2="607" stroke="#111" stroke-width="1.3"/>
<polygon points="127.9,603.8 132.6,606.3 137.2,603.8 132.6,615.6" fill="#111"/>
<text x="147.2" y="607.66" font-size="11" text-anchor="middle" font-weight="bold">**</text>
<text x="161.3" y="595.66" font-size="11" text-anchor="middle" font-weight="bold">**</text>
<text x="175.5" y="591.66" font-size="11" text-anchor="middle" font-weight="bold">**</text>
<text x="190" y="586.16" font-size="11" text-anchor="middle" font-weight="bold">**</text>
<text x="203" y="579.16" font-size="11" text-anchor="middle" font-weight="bold">***</text>
<text x="218.7" y="552.46" font-size="11" text-anchor="middle" font-weight="bold">**</text>
<text x="245" y="518.9" font-size="14.5" font-weight="bold" fill="#000">H</text>
<text x="263.75" y="522" font-size="11" textLength="59.25" lengthAdjust="spacingAndGlyphs">Eca109-Ctrl</text>
<text x="350" y="522" font-size="11" textLength="91.25" lengthAdjust="spacingAndGlyphs">Eca109-CD59-KO</text>
<rect x="246.3" y="527.3" width="193.2" height="108.2" fill="url(#ph1)" stroke="#111" stroke-width="1.5"/>
<rect x="247" y="623.3" width="192" height="2.6" fill="#3a92b4"/>
<rect x="247" y="625.9" width="192" height="8.7" fill="#66c6dc"/>
<g stroke="#3a7ea0" stroke-width="0.7"><line x1="249" y1="627.6" x2="249" y2="629"/><line x1="251.6" y1="627" x2="251.6" y2="629"/><line x1="254.2" y1="627" x2="254.2" y2="629"/><line x1="256.8" y1="627" x2="256.8" y2="629"/><line x1="259.4" y1="627" x2="259.4" y2="629"/><line x1="262" y1="627.6" x2="262" y2="629"/><line x1="264.6" y1="627" x2="264.6" y2="629"/><line x1="267.2" y1="627" x2="267.2" y2="629"/><line x1="269.8" y1="627" x2="269.8" y2="629"/><line x1="272.4" y1="627" x2="272.4" y2="629"/><line x1="275" y1="627.6" x2="275" y2="629"/><line x1="277.6" y1="627" x2="277.6" y2="629"/><line x1="280.2" y1="627" x2="280.2" y2="629"/><line x1="282.8" y1="627" x2="282.8" y2="629"/><line x1="285.4" y1="627" x2="285.4" y2="629"/><line x1="288" y1="627.6" x2="288" y2="629"/><line x1="290.6" y1="627" x2="290.6" y2="629"/><line x1="293.2" y1="627" x2="293.2" y2="629"/><line x1="295.8" y1="627" x2="295.8" y2="629"/><line x1="298.4" y1="627" x2="298.4" y2="629"/><line x1="301" y1="627.6" x2="301" y2="629"/><line x1="303.6" y1="627" x2="303.6" y2="629"/><line x1="306.2" y1="627" x2="306.2" y2="629"/><line x1="308.8" y1="627" x2="308.8" y2="629"/><line x1="311.4" y1="627" x2="311.4" y2="629"/><line x1="314" y1="627.6" x2="314" y2="629"/><line x1="316.6" y1="627" x2="316.6" y2="629"/><line x1="319.2" y1="627" x2="319.2" y2="629"/><line x1="321.8" y1="627" x2="321.8" y2="629"/><line x1="324.4" y1="627" x2="324.4" y2="629"/><line x1="327" y1="627.6" x2="327" y2="629"/><line x1="329.6" y1="627" x2="329.6" y2="629"/><line x1="332.2" y1="627" x2="332.2" y2="629"/><line x1="334.8" y1="627" x2="334.8" y2="629"/><line x1="337.4" y1="627" x2="337.4" y2="629"/><line x1="340" y1="627.6" x2="340" y2="629"/><line x1="342.6" y1="627" x2="342.6" y2="629"/><line x1="345.2" y1="627" x2="345.2" y2="629"/><line x1="347.8" y1="627" x2="347.8" y2="629"/><line x1="350.4" y1="627" x2="350.4" y2="629"/><line x1="353" y1="627.6" x2="353" y2="629"/><line x1="355.6" y1="627" x2="355.6" y2="629"/><line x1="358.2" y1="627" x2="358.2" y2="629"/><line x1="360.8" y1="627" x2="360.8" y2="629"/><line x1="363.4" y1="627" x2="363.4" y2="629"/><line x1="366" y1="627.6" x2="366" y2="629"/><line x1="368.6" y1="627" x2="368.6" y2="629"/><line x1="371.2" y1="627" x2="371.2" y2="629"/><line x1="373.8" y1="627" x2="373.8" y2="629"/><line x1="376.4" y1="627" x2="376.4" y2="629"/><line x1="379" y1="627.6" x2="379" y2="629"/><line x1="381.6" y1="627" x2="381.6" y2="629"/><line x1="384.2" y1="627" x2="384.2" y2="629"/><line x1="386.8" y1="627" x2="386.8" y2="629"/><line x1="389.4" y1="627" x2="389.4" y2="629"/><line x1="392" y1="627.6" x2="392" y2="629"/><line x1="394.6" y1="627" x2="394.6" y2="629"/><line x1="397.2" y1="627" x2="397.2" y2="629"/><line x1="399.8" y1="627" x2="399.8" y2="629"/><line x1="402.4" y1="627" x2="402.4" y2="629"/><line x1="405" y1="627.6" x2="405" y2="629"/><line x1="407.6" y1="627" x2="407.6" y2="629"/><line x1="410.2" y1="627" x2="410.2" y2="629"/><line x1="412.8" y1="627" x2="412.8" y2="629"/><line x1="415.4" y1="627" x2="415.4" y2="629"/><line x1="418" y1="627.6" x2="418" y2="629"/><line x1="420.6" y1="627" x2="420.6" y2="629"/><line x1="423.2" y1="627" x2="423.2" y2="629"/><line x1="425.8" y1="627" x2="425.8" y2="629"/><line x1="428.4" y1="627" x2="428.4" y2="629"/><line x1="431" y1="627.6" x2="431" y2="629"/><line x1="433.6" y1="627" x2="433.6" y2="629"/><line x1="436.2" y1="627" x2="436.2" y2="629"/></g>
<g filter="url(#msoft)">
<path d="M262.5,575.35 Q257.5,592 253,615" fill="none" stroke="#d6d3cf" stroke-width="1.4" stroke-linecap="round"/>
<g transform="translate(262.5 542.5) rotate(6) scale(0.9)">
<line x1="-4.5" y1="32.58" x2="-9" y2="43.44" stroke="#d6d6d6" stroke-width="1.6" stroke-linecap="round"/>
<line x1="4.5" y1="32.58" x2="9" y2="43.44" stroke="#d6d6d6" stroke-width="1.6" stroke-linecap="round"/>
<line x1="-5" y1="13" x2="-8" y2="16.5" stroke="#d6d6d6" stroke-width="1.6" stroke-linecap="round"/>
<line x1="5" y1="13" x2="8" y2="16.5" stroke="#d6d6d6" stroke-width="1.6" stroke-linecap="round"/>
<path d="M0,0 C1.62,0.3 3.24,3 3.67,5.5 C4.1,7.5 4.54,9 4.75,11 C5.83,13.33 6.48,16.78 6.8,20.73 C7.24,25.67 7.99,29.62 7.78,33.07 Q7.34,38.01 3.78,38.7 Q0,39.49 -3.78,38.7 Q-7.34,38.01 -7.78,33.07 C-7.99,29.62 -7.24,25.67 -6.8,20.73 C-6.48,16.78 -5.83,13.33 -4.75,11 C-4.54,9 -4.1,7.5 -3.67,5.5 C-3.24,3 -1.62,0.3 0,0 Z" fill="url(#mbody)"/>
<circle cx="-4.6" cy="7.6" r="2.2" fill="#e4e4e4"/><circle cx="4.6" cy="7.6" r="2.2" fill="#e4e4e4"/>
<circle cx="6.8" cy="28.63" r="4.3" fill="#ebe8e6"/>
<circle cx="7.6" cy="29.43" r="2.15" fill="#e4dad8"/>
</g>
<path d="M280.5,574 Q279,590 276.5,617" fill="none" stroke="#d6d3cf" stroke-width="1.4" stroke-linecap="round"/>
<g transform="translate(280.5 537.5) rotate(2) scale(1)">
<line x1="-4.5" y1="32.58" x2="-9" y2="43.44" stroke="#d6d6d6" stroke-width="1.6" stroke-linecap="round"/>
<line x1="4.5" y1="32.58" x2="9" y2="43.44" stroke="#d6d6d6" stroke-width="1.6" stroke-linecap="round"/>
<line x1="-5" y1="13" x2="-8" y2="16.5" stroke="#d6d6d6" stroke-width="1.6" stroke-linecap="round"/>
<line x1="5" y1="13" x2="8" y2="16.5" stroke="#d6d6d6" stroke-width="1.6" stroke-linecap="round"/>
<path d="M0,0 C1.62,0.3 3.24,3 3.67,5.5 C4.1,7.5 4.54,9 4.75,11 C5.83,13.33 6.48,16.78 6.8,20.73 C7.24,25.67 7.99,29.62 7.78,33.07 Q7.34,38.01 3.78,38.7 Q0,39.49 -3.78,38.7 Q-7.34,38.01 -7.78,33.07 C-7.99,29.62 -7.24,25.67 -6.8,20.73 C-6.48,16.78 -5.83,13.33 -4.75,11 C-4.54,9 -4.1,7.5 -3.67,5.5 C-3.24,3 -1.62,0.3 0,0 Z" fill="url(#mbody)"/>
<circle cx="-4.6" cy="7.6" r="2.2" fill="#e4e4e4"/><circle cx="4.6" cy="7.6" r="2.2" fill="#e4e4e4"/>
<circle cx="6.5" cy="31.59" r="4.2" fill="#ebe8e6"/>
<circle cx="7.3" cy="32.39" r="2.1" fill="#e4dad8"/>
</g>
<path d="M298.1,572.6 Q296,590 291.5,616" fill="none" stroke="#d6d3cf" stroke-width="1.4" stroke-linecap="round"/>
<g transform="translate(298.1 536.1) rotate(0) scale(1)">
<line x1="-4.5" y1="32.58" x2="-9" y2="43.44" stroke="#d6d6d6" stroke-width="1.6" stroke-linecap="round"/>
<line x1="4.5" y1="32.58" x2="9" y2="43.44" stroke="#d6d6d6" stroke-width="1.6" stroke-linecap="round"/>
<line x1="-5" y1="13" x2="-8" y2="16.5" stroke="#d6d6d6" stroke-width="1.6" stroke-linecap="round"/>
<line x1="5" y1="13" x2="8" y2="16.5" stroke="#d6d6d6" stroke-width="1.6" stroke-linecap="round"/>
<path d="M0,0 C1.62,0.3 3.24,3 3.67,5.5 C4.1,7.5 4.54,9 4.75,11 C5.83,13.33 6.48,16.78 6.8,20.73 C7.24,25.67 7.99,29.62 7.78,33.07 Q7.34,38.01 3.78,38.7 Q0,39.49 -3.78,38.7 Q-7.34,38.01 -7.78,33.07 C-7.99,29.62 -7.24,25.67 -6.8,20.73 C-6.48,16.78 -5.83,13.33 -4.75,11 C-4.54,9 -4.1,7.5 -3.67,5.5 C-3.24,3 -1.62,0.3 0,0 Z" fill="url(#mbody)"/>
<circle cx="-4.6" cy="7.6" r="2.2" fill="#e4e4e4"/><circle cx="4.6" cy="7.6" r="2.2" fill="#e4e4e4"/>
<circle cx="6.2" cy="31.59" r="4.0" fill="#ebe8e6"/>
<circle cx="7.0" cy="32.39" r="2" fill="#e4dad8"/>
</g>
<path d="M315.9,573.27 Q313,590 306.5,617" fill="none" stroke="#d6d3cf" stroke-width="1.4" stroke-linecap="round"/>
<g transform="translate(315.9 537.5) rotate(0) scale(0.98)">
<line x1="-4.5" y1="32.58" x2="-9" y2="43.44" stroke="#d6d6d6" stroke-width="1.6" stroke-linecap="round"/>
<line x1="4.5" y1="32.58" x2="9" y2="43.44" stroke="#d6d6d6" stroke-width="1.6" stroke-linecap="round"/>
<line x1="-5" y1="13" x2="-8" y2="16.5" stroke="#d6d6d6" stroke-width="1.6" stroke-linecap="round"/>
<line x1="5" y1="13" x2="8" y2="16.5" stroke="#d6d6d6" stroke-width="1.6" stroke-linecap="round"/>
<path d="M0,0 C1.62,0.3 3.24,3 3.67,5.5 C4.1,7.5 4.54,9 4.75,11 C5.83,13.33 6.48,16.78 6.8,20.73 C7.24,25.67 7.99,29.62 7.78,33.07 Q7.34,38.01 3.78,38.7 Q0,39.49 -3.78,38.7 Q-7.34,38.01 -7.78,33.07 C-7.99,29.62 -7.24,25.67 -6.8,20.73 C-6.48,16.78 -5.83,13.33 -4.75,11 C-4.54,9 -4.1,7.5 -3.67,5.5 C-3.24,3 -1.62,0.3 0,0 Z" fill="url(#mbody)"/>
<circle cx="-4.6" cy="7.6" r="2.2" fill="#e4e4e4"/><circle cx="4.6" cy="7.6" r="2.2" fill="#e4e4e4"/>
<circle cx="5.5" cy="32.58" r="3.6" fill="#ebe8e6"/>
<circle cx="6.3" cy="33.38" r="1.8" fill="#e4dad8"/>
</g>
<path d="M331.5,573.8 Q330,590 333,616" fill="none" stroke="#d6d3cf" stroke-width="1.4" stroke-linecap="round"/>
<g transform="translate(331.5 538.4) rotate(0) scale(0.97)">
<line x1="-4.5" y1="32.58" x2="-9" y2="43.44" stroke="#d6d6d6" stroke-width="1.6" stroke-linecap="round"/>
<line x1="4.5" y1="32.58" x2="9" y2="43.44" stroke="#d6d6d6" stroke-width="1.6" stroke-linecap="round"/>
<line x1="-5" y1="13" x2="-8" y2="16.5" stroke="#d6d6d6" stroke-width="1.6" stroke-linecap="round"/>
<line x1="5" y1="13" x2="8" y2="16.5" stroke="#d6d6d6" stroke-width="1.6" stroke-linecap="round"/>
<path d="M0,0 C1.62,0.3 3.24,3 3.67,5.5 C4.1,7.5 4.54,9 4.75,11 C5.83,13.33 6.48,16.78 6.8,20.73 C7.24,25.67 7.99,29.62 7.78,33.07 Q7.34,38.01 3.78,38.7 Q0,39.49 -3.78,38.7 Q-7.34,38.01 -7.78,33.07 C-7.99,29.62 -7.24,25.67 -6.8,20.73 C-6.48,16.78 -5.83,13.33 -4.75,11 C-4.54,9 -4.1,7.5 -3.67,5.5 C-3.24,3 -1.62,0.3 0,0 Z" fill="url(#mbody)"/>
<circle cx="-4.6" cy="7.6" r="2.2" fill="#e4e4e4"/><circle cx="4.6" cy="7.6" r="2.2" fill="#e4e4e4"/>
<circle cx="6.0" cy="30.6" r="3.2" fill="#ebe8e6"/>
<circle cx="6.8" cy="31.4" r="1.6" fill="#e4dad8"/>
</g>
<path d="M359.5,576 Q350,600 361.5,623" fill="none" stroke="#d6d3cf" stroke-width="1.4" stroke-linecap="round"/>
<g transform="translate(359.5 538.2) rotate(0) scale(1)">
<line x1="-4.5" y1="33.68" x2="-9" y2="44.9" stroke="#d6d6d6" stroke-width="1.6" stroke-linecap="round"/>
<line x1="4.5" y1="33.68" x2="9" y2="44.9" stroke="#d6d6d6" stroke-width="1.6" stroke-linecap="round"/>
<line x1="-5" y1="13" x2="-8" y2="16.5" stroke="#d6d6d6" stroke-width="1.6" stroke-linecap="round"/>
<line x1="5" y1="13" x2="8" y2="16.5" stroke="#d6d6d6" stroke-width="1.6" stroke-linecap="round"/>
<path d="M0,0 C1.62,0.3 3.24,3 3.67,5.5 C4.1,7.5 4.54,9 4.75,11 C5.83,13.78 6.48,17.35 6.8,21.43 C7.24,26.53 7.99,30.62 7.78,34.19 Q7.34,39.29 3.78,40 Q0,40.82 -3.78,40 Q-7.34,39.29 -7.78,34.19 C-7.99,30.62 -7.24,26.53 -6.8,21.43 C-6.48,17.35 -5.83,13.78 -4.75,11 C-4.54,9 -4.1,7.5 -3.67,5.5 C-3.24,3 -1.62,0.3 0,0 Z" fill="url(#mbody)"/>
<circle cx="-4.6" cy="7.6" r="2.2" fill="#e4e4e4"/><circle cx="4.6" cy="7.6" r="2.2" fill="#e4e4e4"/>
</g>
<path d="M375.9,576.7 Q379,598 371.5,623" fill="none" stroke="#d6d3cf" stroke-width="1.4" stroke-linecap="round"/>
<g transform="translate(375.9 538.9) rotate(0) scale(1)">
<line x1="-4.5" y1="33.68" x2="-9" y2="44.9" stroke="#d6d6d6" stroke-width="1.6" stroke-linecap="round"/>
<line x1="4.5" y1="33.68" x2="9" y2="44.9" stroke="#d6d6d6" stroke-width="1.6" stroke-linecap="round"/>
<line x1="-5" y1="13" x2="-8" y2="16.5" stroke="#d6d6d6" stroke-width="1.6" stroke-linecap="round"/>
<line x1="5" y1="13" x2="8" y2="16.5" stroke="#d6d6d6" stroke-width="1.6" stroke-linecap="round"/>
<path d="M0,0 C1.62,0.3 3.24,3 3.67,5.5 C4.1,7.5 4.54,9 4.75,11 C5.83,13.78 6.48,17.35 6.8,21.43 C7.24,26.53 7.99,30.62 7.78,34.19 Q7.34,39.29 3.78,40 Q0,40.82 -3.78,40 Q-7.34,39.29 -7.78,34.19 C-7.99,30.62 -7.24,26.53 -6.8,21.43 C-6.48,17.35 -5.83,13.78 -4.75,11 C-4.54,9 -4.1,7.5 -3.67,5.5 C-3.24,3 -1.62,0.3 0,0 Z" fill="url(#mbody)"/>
<circle cx="-4.6" cy="7.6" r="2.2" fill="#e4e4e4"/><circle cx="4.6" cy="7.6" r="2.2" fill="#e4e4e4"/>
</g>
<path d="M393.2,578.1 Q391.5,598 394,624" fill="none" stroke="#d6d3cf" stroke-width="1.4" stroke-linecap="round"/>
<g transform="translate(393.2 540.3) rotate(0) scale(1)">
<line x1="-4.5" y1="33.68" x2="-9" y2="44.9" stroke="#d6d6d6" stroke-width="1.6" stroke-linecap="round"/>
<line x1="4.5" y1="33.68" x2="9" y2="44.9" stroke="#d6d6d6" stroke-width="1.6" stroke-linecap="round"/>
<line x1="-5" y1="13" x2="-8" y2="16.5" stroke="#d6d6d6" stroke-width="1.6" stroke-linecap="round"/>
<line x1="5" y1="13" x2="8" y2="16.5" stroke="#d6d6d6" stroke-width="1.6" stroke-linecap="round"/>
<path d="M0,0 C1.62,0.3 3.24,3 3.67,5.5 C4.1,7.5 4.54,9 4.75,11 C5.83,13.78 6.48,17.35 6.8,21.43 C7.24,26.53 7.99,30.62 7.78,34.19 Q7.34,39.29 3.78,40 Q0,40.82 -3.78,40 Q-7.34,39.29 -7.78,34.19 C-7.99,30.62 -7.24,26.53 -6.8,21.43 C-6.48,17.35 -5.83,13.78 -4.75,11 C-4.54,9 -4.1,7.5 -3.67,5.5 C-3.24,3 -1.62,0.3 0,0 Z" fill="url(#mbody)"/>
<circle cx="-4.6" cy="7.6" r="2.2" fill="#e4e4e4"/><circle cx="4.6" cy="7.6" r="2.2" fill="#e4e4e4"/>
</g>
<path d="M410,578.06 Q401,603 407.5,624" fill="none" stroke="#d6d3cf" stroke-width="1.4" stroke-linecap="round"/>
<g transform="translate(410 539.5) rotate(0) scale(1.02)">
<line x1="-4.5" y1="33.68" x2="-9" y2="44.9" stroke="#d6d6d6" stroke-width="1.6" stroke-linecap="round"/>
<line x1="4.5" y1="33.68" x2="9" y2="44.9" stroke="#d6d6d6" stroke-width="1.6" stroke-linecap="round"/>
<line x1="-5" y1="13" x2="-8" y2="16.5" stroke="#d6d6d6" stroke-width="1.6" stroke-linecap="round"/>
<line x1="5" y1="13" x2="8" y2="16.5" stroke="#d6d6d6" stroke-width="1.6" stroke-linecap="round"/>
<path d="M0,0 C1.62,0.3 3.24,3 3.67,5.5 C4.1,7.5 4.54,9 4.75,11 C5.83,13.78 6.48,17.35 6.8,21.43 C7.24,26.53 7.99,30.62 7.78,34.19 Q7.34,39.29 3.78,40 Q0,40.82 -3.78,40 Q-7.34,39.29 -7.78,34.19 C-7.99,30.62 -7.24,26.53 -6.8,21.43 C-6.48,17.35 -5.83,13.78 -4.75,11 C-4.54,9 -4.1,7.5 -3.67,5.5 C-3.24,3 -1.62,0.3 0,0 Z" fill="url(#mbody)"/>
<circle cx="-4.6" cy="7.6" r="2.2" fill="#e4e4e4"/><circle cx="4.6" cy="7.6" r="2.2" fill="#e4e4e4"/>
</g>
<path d="M427.5,577.3 Q429,598 424,621" fill="none" stroke="#d6d3cf" stroke-width="1.4" stroke-linecap="round"/>
<g transform="translate(427.5 539.5) rotate(0) scale(1)">
<line x1="-4.5" y1="33.68" x2="-9" y2="44.9" stroke="#d6d6d6" stroke-width="1.6" stroke-linecap="round"/>
<line x1="4.5" y1="33.68" x2="9" y2="44.9" stroke="#d6d6d6" stroke-width="1.6" stroke-linecap="round"/>
<line x1="-5" y1="13" x2="-8" y2="16.5" stroke="#d6d6d6" stroke-width="1.6" stroke-linecap="round"/>
<line x1="5" y1="13" x2="8" y2="16.5" stroke="#d6d6d6" stroke-width="1.6" stroke-linecap="round"/>
<path d="M0,0 C1.62,0.3 3.24,3 3.67,5.5 C4.1,7.5 4.54,9 4.75,11 C5.83,13.78 6.48,17.35 6.8,21.43 C7.24,26.53 7.99,30.62 7.78,34.19 Q7.34,39.29 3.78,40 Q0,40.82 -3.78,40 Q-7.34,39.29 -7.78,34.19 C-7.99,30.62 -7.24,26.53 -6.8,21.43 C-6.48,17.35 -5.83,13.78 -4.75,11 C-4.54,9 -4.1,7.5 -3.67,5.5 C-3.24,3 -1.62,0.3 0,0 Z" fill="url(#mbody)"/>
<circle cx="-4.6" cy="7.6" r="2.2" fill="#e4e4e4"/><circle cx="4.6" cy="7.6" r="2.2" fill="#e4e4e4"/>
</g>
</g>
<rect x="246.5" y="638.5" width="193" height="40.5" fill="#27afd8" stroke="#111" stroke-width="1.5"/>
<rect x="247.3" y="667.1" width="191.5" height="2.6" fill="#1f8ccb"/>
<g stroke="#1c6fae" stroke-width="0.8"><line x1="249" y1="671.8" x2="249" y2="673"/><line x1="251.75" y1="671.4" x2="251.75" y2="673"/><line x1="254.5" y1="671.4" x2="254.5" y2="673"/><line x1="257.25" y1="671.4" x2="257.25" y2="673"/><line x1="260" y1="671.4" x2="260" y2="673"/><line x1="262.75" y1="671.8" x2="262.75" y2="673"/><line x1="265.5" y1="671.4" x2="265.5" y2="673"/><line x1="268.25" y1="671.4" x2="268.25" y2="673"/><line x1="271" y1="671.4" x2="271" y2="673"/><line x1="273.75" y1="671.4" x2="273.75" y2="673"/><line x1="276.5" y1="671.8" x2="276.5" y2="673"/><line x1="279.25" y1="671.4" x2="279.25" y2="673"/><line x1="282" y1="671.4" x2="282" y2="673"/><line x1="284.75" y1="671.4" x2="284.75" y2="673"/><line x1="287.5" y1="671.4" x2="287.5" y2="673"/><line x1="290.25" y1="671.8" x2="290.25" y2="673"/><line x1="293" y1="671.4" x2="293" y2="673"/><line x1="295.75" y1="671.4" x2="295.75" y2="673"/><line x1="298.5" y1="671.4" x2="298.5" y2="673"/><line x1="301.25" y1="671.4" x2="301.25" y2="673"/><line x1="304" y1="671.8" x2="304" y2="673"/><line x1="306.75" y1="671.4" x2="306.75" y2="673"/><line x1="309.5" y1="671.4" x2="309.5" y2="673"/><line x1="312.25" y1="671.4" x2="312.25" y2="673"/><line x1="315" y1="671.4" x2="315" y2="673"/><line x1="317.75" y1="671.8" x2="317.75" y2="673"/><line x1="320.5" y1="671.4" x2="320.5" y2="673"/><line x1="323.25" y1="671.4" x2="323.25" y2="673"/><line x1="326" y1="671.4" x2="326" y2="673"/><line x1="328.75" y1="671.4" x2="328.75" y2="673"/><line x1="331.5" y1="671.8" x2="331.5" y2="673"/><line x1="334.25" y1="671.4" x2="334.25" y2="673"/><line x1="337" y1="671.4" x2="337" y2="673"/><line x1="339.75" y1="671.4" x2="339.75" y2="673"/><line x1="342.5" y1="671.4" x2="342.5" y2="673"/><line x1="345.25" y1="671.8" x2="345.25" y2="673"/><line x1="348" y1="671.4" x2="348" y2="673"/><line x1="350.75" y1="671.4" x2="350.75" y2="673"/><line x1="353.5" y1="671.4" x2="353.5" y2="673"/><line x1="356.25" y1="671.4" x2="356.25" y2="673"/><line x1="359" y1="671.8" x2="359" y2="673"/><line x1="361.75" y1="671.4" x2="361.75" y2="673"/><line x1="364.5" y1="671.4" x2="364.5" y2="673"/><line x1="367.25" y1="671.4" x2="367.25" y2="673"/><line x1="370" y1="671.4" x2="370" y2="673"/><line x1="372.75" y1="671.8" x2="372.75" y2="673"/><line x1="375.5" y1="671.4" x2="375.5" y2="673"/><line x1="378.25" y1="671.4" x2="378.25" y2="673"/><line x1="381" y1="671.4" x2="381" y2="673"/><line x1="383.75" y1="671.4" x2="383.75" y2="673"/><line x1="386.5" y1="671.8" x2="386.5" y2="673"/><line x1="389.25" y1="671.4" x2="389.25" y2="673"/><line x1="392" y1="671.4" x2="392" y2="673"/><line x1="394.75" y1="671.4" x2="394.75" y2="673"/><line x1="397.5" y1="671.4" x2="397.5" y2="673"/><line x1="400.25" y1="671.8" x2="400.25" y2="673"/><line x1="403" y1="671.4" x2="403" y2="673"/><line x1="405.75" y1="671.4" x2="405.75" y2="673"/><line x1="408.5" y1="671.4" x2="408.5" y2="673"/><line x1="411.25" y1="671.4" x2="411.25" y2="673"/><line x1="414" y1="671.8" x2="414" y2="673"/><line x1="416.75" y1="671.4" x2="416.75" y2="673"/><line x1="419.5" y1="671.4" x2="419.5" y2="673"/><line x1="422.25" y1="671.4" x2="422.25" y2="673"/><line x1="425" y1="671.4" x2="425" y2="673"/><line x1="427.75" y1="671.8" x2="427.75" y2="673"/><line x1="430.5" y1="671.4" x2="430.5" y2="673"/><line x1="433.25" y1="671.4" x2="433.25" y2="673"/><line x1="436" y1="671.4" x2="436" y2="673"/></g>
<text x="254.95" y="647.8" font-size="10.8" text-anchor="middle" fill="#000">1</text>
<text x="277.9" y="647.8" font-size="10.8" text-anchor="middle" fill="#000">2</text>
<text x="294.9" y="647.8" font-size="10.8" text-anchor="middle" fill="#000">3</text>
<text x="314.6" y="647.8" font-size="10.8" text-anchor="middle" fill="#000">4</text>
<text x="328" y="647.8" font-size="10.8" text-anchor="middle" fill="#000">5</text>
<text x="358.8" y="647.8" font-size="10.8" text-anchor="middle" fill="#000">6</text>
<text x="376.2" y="647.8" font-size="10.8" text-anchor="middle" fill="#000">7</text>
<text x="392.6" y="647.8" font-size="10.8" text-anchor="middle" fill="#000">8</text>
<text x="409.6" y="647.8" font-size="10.8" text-anchor="middle" fill="#000">9</text>
<text x="429.6" y="647.8" font-size="10.8" text-anchor="middle" fill="#000">10</text>
<ellipse cx="256.4" cy="652.7" rx="3.7" ry="3.4" fill="#b9a89a"/>
<ellipse cx="256.2" cy="652.2" rx="3.52" ry="3.15" fill="#ddd0c2"/>
<ellipse cx="256.7" cy="652.5" rx="1.67" ry="1.48" fill="#cfb5aa"/>
<ellipse cx="277.3" cy="653.9" rx="3.3" ry="3.04" fill="#b9a89a"/>
<ellipse cx="277.1" cy="653.4" rx="3.13" ry="2.8" fill="#ddd0c2"/>
<ellipse cx="277.6" cy="653.7" rx="1.48" ry="1.32" fill="#cfb5aa"/>
<ellipse cx="296.2" cy="654" rx="3.8" ry="3.5" fill="#b9a89a"/>
<ellipse cx="296" cy="653.5" rx="3.61" ry="3.23" fill="#ddd0c2"/>
<ellipse cx="296.5" cy="653.8" rx="1.71" ry="1.52" fill="#cfb5aa"/>
<ellipse cx="314.7" cy="655.1" rx="3" ry="2.76" fill="#b9a89a"/>
<ellipse cx="314.5" cy="654.6" rx="2.85" ry="2.55" fill="#ddd0c2"/>
<ellipse cx="315" cy="654.9" rx="1.35" ry="1.2" fill="#cfb5aa"/>
<ellipse cx="327.8" cy="654.3" rx="3.3" ry="3.04" fill="#b9a89a"/>
<ellipse cx="327.6" cy="653.8" rx="3.13" ry="2.8" fill="#ddd0c2"/>
<ellipse cx="328.1" cy="654.1" rx="1.48" ry="1.32" fill="#cfb5aa"/>
<ellipse cx="360" cy="655.9" rx="3" ry="2.76" fill="#b9a89a"/>
<ellipse cx="359.8" cy="655.4" rx="2.85" ry="2.55" fill="#ddd0c2"/>
<ellipse cx="360.3" cy="655.7" rx="1.35" ry="1.2" fill="#cfb5aa"/>
<ellipse cx="375.8" cy="657.3" rx="1.5" ry="1.38" fill="#b9a89a"/>
<ellipse cx="375.6" cy="656.8" rx="1.42" ry="1.27" fill="#ddd0c2"/>
<ellipse cx="376.1" cy="657.1" rx="0.68" ry="0.6" fill="#cfb5aa"/>
<ellipse cx="391.9" cy="655.2" rx="3" ry="2.76" fill="#b9a89a"/>
<ellipse cx="391.7" cy="654.7" rx="2.85" ry="2.55" fill="#ddd0c2"/>
<ellipse cx="392.2" cy="655" rx="1.35" ry="1.2" fill="#cfb5aa"/>
<ellipse cx="411" cy="658.5" rx="2.8" ry="2.58" fill="#b9a89a"/>
<ellipse cx="410.8" cy="658" rx="2.66" ry="2.38" fill="#ddd0c2"/>
<ellipse cx="411.3" cy="658.3" rx="1.26" ry="1.12" fill="#cfb5aa"/>
<ellipse cx="429.6" cy="657.7" rx="2.8" ry="2.58" fill="#b9a89a"/>
<ellipse cx="429.4" cy="657.2" rx="2.66" ry="2.38" fill="#ddd0c2"/>
<ellipse cx="429.9" cy="657.5" rx="1.26" ry="1.12" fill="#cfb5aa"/>
<text x="455.8" y="518.3" font-size="14.5" font-weight="bold" fill="#000">I</text>
<line x1="488.25" y1="563.75" x2="488.25" y2="664.5" stroke="#2a2222" stroke-width="1.2"/>
<line x1="488.25" y1="664.5" x2="639.5" y2="664.5" stroke="#2a2222" stroke-width="1.2"/>
<line x1="485.25" y1="664.5" x2="488.25" y2="664.5" stroke="#2a2222" stroke-width="1.1"/>
<text x="485" y="667.8" font-size="11.4" text-anchor="end">0.0</text>
<line x1="485.25" y1="630.92" x2="488.25" y2="630.92" stroke="#2a2222" stroke-width="1.1"/>
<text x="485" y="634.22" font-size="11.4" text-anchor="end">0.5</text>
<line x1="485.25" y1="597.33" x2="488.25" y2="597.33" stroke="#2a2222" stroke-width="1.1"/>
<text x="485" y="600.63" font-size="11.4" text-anchor="end">1.0</text>
<line x1="485.25" y1="563.75" x2="488.25" y2="563.75" stroke="#2a2222" stroke-width="1.1"/>
<text x="485" y="567.05" font-size="11.4" text-anchor="end">1.5</text>
<line x1="522" y1="664.5" x2="522" y2="668" stroke="#2a2222" stroke-width="1.1"/>
<line x1="605.6" y1="664.5" x2="605.6" y2="668" stroke="#2a2222" stroke-width="1.1"/>
<text x="464.5" y="608.2" font-size="11" text-anchor="middle" textLength="85" lengthAdjust="spacingAndGlyphs" transform="rotate(-90 464.5 608.2)">Tumor weight (g)</text>
<circle cx="508" cy="553" r="3.3" fill="#e02424"/>
<text x="516.25" y="556.75" font-size="11" textLength="58.5" lengthAdjust="spacingAndGlyphs">Eca109-Ctrl</text>
<rect x="504.9" y="563" width="6.4" height="6.4" fill="#2a44a6"/>
<text x="516.25" y="569.5" font-size="11" textLength="91" lengthAdjust="spacingAndGlyphs">Eca109-CD59-KO</text>
<line x1="521.25" y1="586.2" x2="605.6" y2="586.2" stroke="#2a2222" stroke-width="1.1"/>
<text x="563.5" y="586.36" font-size="11" text-anchor="middle" font-weight="bold">**</text>
<circle cx="524.5" cy="593.25" r="2.7" fill="#e02424"/>
<circle cx="518.75" cy="599.25" r="2.7" fill="#e02424"/>
<circle cx="522" cy="615" r="2.7" fill="#e02424"/>
<circle cx="525" cy="629.5" r="2.7" fill="#e02424"/>
<circle cx="518.75" cy="635.75" r="2.7" fill="#e02424"/>
<line x1="505.5" y1="614.5" x2="538.75" y2="614.5" stroke="#2a2222" stroke-width="1.2"/>
<line x1="513.25" y1="606.5" x2="530.5" y2="606.5" stroke="#2a2222" stroke-width="1.2"/>
<line x1="513.25" y1="623.25" x2="530.5" y2="623.25" stroke="#2a2222" stroke-width="1.2"/>
<line x1="522" y1="606.5" x2="522" y2="623.25" stroke="#2a2222" stroke-width="1.2"/>
<rect x="603.3" y="633" width="4.6" height="4.6" fill="#2a44a6"/>
<rect x="603.3" y="642.1" width="4.6" height="4.6" fill="#2a44a6"/>
<rect x="600.2" y="647.8" width="4.6" height="4.6" fill="#2a44a6"/>
<rect x="605.9" y="648.2" width="4.6" height="4.6" fill="#2a44a6"/>
<rect x="603.3" y="659.4" width="4.6" height="4.6" fill="#2a44a6"/>
<line x1="589.1" y1="648.4" x2="622.6" y2="648.4" stroke="#2a2222" stroke-width="1.2"/>
<line x1="597.2" y1="644.4" x2="614.1" y2="644.4" stroke="#2a2222" stroke-width="1.2"/>
<line x1="597.2" y1="653.3" x2="614.1" y2="653.3" stroke="#2a2222" stroke-width="1.2"/>
<line x1="605.6" y1="644.4" x2="605.6" y2="653.3" stroke="#2a2222" stroke-width="1.2"/>
</svg>
</body></html>
